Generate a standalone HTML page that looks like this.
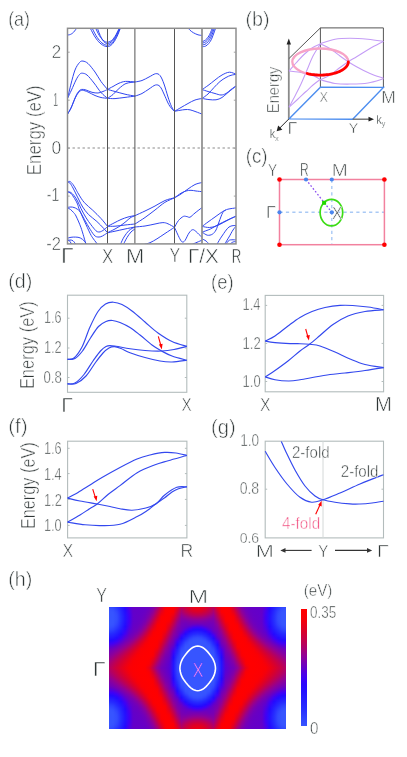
<!DOCTYPE html>
<html><head><meta charset="utf-8"><title>Band structure figure</title><style>
html,body{margin:0;padding:0;background:#fff;}
body{width:407px;height:757px;overflow:hidden;position:relative;}
svg{position:absolute;left:0;top:0;}
text{font-family:"Liberation Sans","DejaVu Sans",sans-serif;}
.ba{fill:none;stroke:#3046f0;stroke-width:1.0;}
.bd{fill:none;stroke:#3348ee;stroke-width:1.15;}
.pu{fill:none;stroke:#c49cf6;stroke-width:1.05;}
#hm{position:absolute;left:109.1px;top:606.9px;width:177.2px;height:122.3px;display:flex;flex-direction:column;}
#hm i{display:block;flex:1 1 0;}
#cb{position:absolute;left:300.7px;top:608.7px;width:6.3px;height:117.8px;}
</style></head>
<body>
<div id="hm"><i style="background:linear-gradient(90deg,#334cff 0.0%,#3147ff 2.3%,#2935ff 4.5%,#251eff 6.8%,#2a08fd 9.1%,#5000e1 11.4%,#6400c8 13.6%,#6400c8 15.9%,#6500c7 18.2%,#6600c5 20.5%,#6d00be 22.7%,#7f00aa 25.0%,#a2007d 27.3%,#ce003b 29.5%,#f70009 31.8%,#ff0000 34.1%,#fd0002 36.4%,#e8001a 38.6%,#bc0055 40.9%,#c90041 43.2%,#dc0028 45.5%,#e80019 47.7%,#ed0014 50.0%,#e80019 52.3%,#dc0028 54.5%,#c90041 56.8%,#bc0055 59.1%,#e8001a 61.4%,#fd0002 63.6%,#ff0000 65.9%,#f70009 68.2%,#ce003b 70.5%,#a2007d 72.7%,#7f00aa 75.0%,#6d00be 77.3%,#6600c5 79.5%,#6500c7 81.8%,#6400c8 84.1%,#6400c8 86.4%,#5000e1 88.6%,#2a08fd 90.9%,#251eff 93.2%,#2935ff 95.5%,#3147ff 97.7%,#334cff 100.0%)"></i><i style="background:linear-gradient(90deg,#3550ff 0.0%,#334bff 2.3%,#2b39ff 4.5%,#2521ff 6.8%,#2609fe 9.1%,#4e00e5 11.4%,#6400c8 13.6%,#6400c8 15.9%,#6500c7 18.2%,#6700c5 20.5%,#6e00bc 22.7%,#8200a6 25.0%,#a70075 27.3%,#d30033 29.5%,#fa0005 31.8%,#ff0000 34.1%,#fd0002 36.4%,#e30020 38.6%,#b7005d 40.9%,#c80043 43.2%,#da002a 45.5%,#e6001b 47.7%,#eb0016 50.0%,#e6001b 52.3%,#da002a 54.5%,#c80043 56.8%,#b7005d 59.1%,#e30020 61.4%,#fd0002 63.6%,#ff0000 65.9%,#fa0005 68.2%,#d30033 70.5%,#a70075 72.7%,#8200a6 75.0%,#6e00bc 77.3%,#6700c5 79.5%,#6500c7 81.8%,#6400c8 84.1%,#6400c8 86.4%,#4e00e5 88.6%,#2609fe 90.9%,#2521ff 93.2%,#2b39ff 95.5%,#334bff 97.7%,#3550ff 100.0%)"></i><i style="background:linear-gradient(90deg,#3652ff 0.0%,#344eff 2.3%,#2d3dff 4.5%,#2523ff 6.8%,#230aff 9.1%,#4b00e8 11.4%,#6400c8 13.6%,#6400c8 15.9%,#6500c7 18.2%,#6700c4 20.5%,#7000bb 22.7%,#8600a2 25.0%,#ad006d 27.3%,#d8002c 29.5%,#fb0004 31.8%,#ff0000 34.1%,#fc0003 36.4%,#de0025 38.6%,#b10066 40.9%,#c60047 43.2%,#d7002d 45.5%,#e3001f 47.7%,#e7001a 50.0%,#e3001f 52.3%,#d7002d 54.5%,#c60047 56.8%,#b10066 59.1%,#de0025 61.4%,#fc0003 63.6%,#ff0000 65.9%,#fb0004 68.2%,#d8002c 70.5%,#ad006d 72.7%,#8600a2 75.0%,#7000bb 77.3%,#6700c4 79.5%,#6500c7 81.8%,#6400c8 84.1%,#6400c8 86.4%,#4b00e8 88.6%,#230aff 90.9%,#2523ff 93.2%,#2d3dff 95.5%,#344eff 97.7%,#3652ff 100.0%)"></i><i style="background:linear-gradient(90deg,#3754ff 0.0%,#3551ff 2.3%,#2e41ff 4.5%,#2526ff 6.8%,#230cff 9.1%,#4900eb 11.4%,#6300c9 13.6%,#6400c8 15.9%,#6500c7 18.2%,#6800c4 20.5%,#7200b9 22.7%,#8a009e 25.0%,#b20064 27.3%,#dd0026 29.5%,#fc0003 31.8%,#ff0000 34.1%,#fb0004 36.4%,#d9002b 38.6%,#ad006b 40.9%,#c2004c 43.2%,#d30033 45.5%,#de0025 47.7%,#e20020 50.0%,#de0025 52.3%,#d30033 54.5%,#c2004c 56.8%,#ad006b 59.1%,#d9002b 61.4%,#fb0004 63.6%,#ff0000 65.9%,#fc0003 68.2%,#dd0026 70.5%,#b20064 72.7%,#8a009e 75.0%,#7200b9 77.3%,#6800c4 79.5%,#6500c7 81.8%,#6400c8 84.1%,#6300c9 86.4%,#4900eb 88.6%,#230cff 90.9%,#2526ff 93.2%,#2e41ff 95.5%,#3551ff 97.7%,#3754ff 100.0%)"></i><i style="background:linear-gradient(90deg,#3755ff 0.0%,#3653ff 2.3%,#3044ff 4.5%,#2628ff 6.8%,#230eff 9.1%,#4700ee 11.4%,#6300c9 13.6%,#6400c8 15.9%,#6500c7 18.2%,#6900c3 20.5%,#7400b6 22.7%,#8e0099 25.0%,#b8005b 27.3%,#e20021 29.5%,#fc0003 31.8%,#ff0000 34.1%,#fb0004 36.4%,#d40032 38.6%,#a90072 40.9%,#be0053 43.2%,#cd003c 45.5%,#d8002c 47.7%,#dc0027 50.0%,#d8002c 52.3%,#cd003c 54.5%,#be0053 56.8%,#a90072 59.1%,#d40032 61.4%,#fb0004 63.6%,#ff0000 65.9%,#fc0003 68.2%,#e20021 70.5%,#b8005b 72.7%,#8e0099 75.0%,#7400b6 77.3%,#6900c3 79.5%,#6500c7 81.8%,#6400c8 84.1%,#6300c9 86.4%,#4700ee 88.6%,#230eff 90.9%,#2628ff 93.2%,#3044ff 95.5%,#3653ff 97.7%,#3755ff 100.0%)"></i><i style="background:linear-gradient(90deg,#3755ff 0.0%,#3754ff 2.3%,#3146ff 4.5%,#262aff 6.8%,#230fff 9.1%,#4500f0 11.4%,#6300ca 13.6%,#6400c8 15.9%,#6500c6 18.2%,#6a00c2 20.5%,#7600b4 22.7%,#920094 25.0%,#bd0054 27.3%,#e7001b 29.5%,#fd0002 31.8%,#ff0000 34.1%,#f90007 36.4%,#ce003a 38.6%,#a4007a 40.9%,#b8005b 43.2%,#c70045 45.5%,#d10036 47.7%,#d50031 50.0%,#d10036 52.3%,#c70045 54.5%,#b8005b 56.8%,#a4007a 59.1%,#ce003a 61.4%,#f90007 63.6%,#ff0000 65.9%,#fd0002 68.2%,#e7001b 70.5%,#bd0054 72.7%,#920094 75.0%,#7600b4 77.3%,#6a00c2 79.5%,#6500c6 81.8%,#6400c8 84.1%,#6300ca 86.4%,#4500f0 88.6%,#230fff 90.9%,#262aff 93.2%,#3146ff 95.5%,#3754ff 97.7%,#3755ff 100.0%)"></i><i style="background:linear-gradient(90deg,#3755ff 0.0%,#3755ff 2.3%,#3248ff 4.5%,#262bff 6.8%,#2410ff 9.1%,#4300f2 11.4%,#6200ca 13.6%,#6400c8 15.9%,#6600c6 18.2%,#6b00c1 20.5%,#7900b1 22.7%,#97008d 25.0%,#c2004d 27.3%,#eb0016 29.5%,#fe0001 31.8%,#ff0000 34.1%,#f4000c 36.4%,#c90041 38.6%,#9e0082 40.9%,#b10066 43.2%,#c00050 45.5%,#c90042 47.7%,#cc003d 50.0%,#c90042 52.3%,#c00050 54.5%,#b10066 56.8%,#9e0082 59.1%,#c90041 61.4%,#f4000c 63.6%,#ff0000 65.9%,#fe0001 68.2%,#eb0016 70.5%,#c2004d 72.7%,#97008d 75.0%,#7900b1 77.3%,#6b00c1 79.5%,#6600c6 81.8%,#6400c8 84.1%,#6200ca 86.4%,#4300f2 88.6%,#2410ff 90.9%,#262bff 93.2%,#3248ff 95.5%,#3755ff 97.7%,#3755ff 100.0%)"></i><i style="background:linear-gradient(90deg,#3755ff 0.0%,#3755ff 2.3%,#324aff 4.5%,#262dff 6.8%,#2411ff 9.1%,#4200f4 11.4%,#6200cb 13.6%,#6400c8 15.9%,#6600c6 18.2%,#6c00bf 20.5%,#7b00ae 22.7%,#9c0086 25.0%,#c70045 27.3%,#f00010 29.5%,#fe0001 31.8%,#fe0001 34.1%,#f00011 36.4%,#c40049 38.6%,#99008b 40.9%,#a90072 43.2%,#b8005b 45.5%,#c1004f 47.7%,#c4004a 50.0%,#c1004f 52.3%,#b8005b 54.5%,#a90072 56.8%,#99008b 59.1%,#c40049 61.4%,#f00011 63.6%,#fe0001 65.9%,#fe0001 68.2%,#f00010 70.5%,#c70045 72.7%,#9c0086 75.0%,#7b00ae 77.3%,#6c00bf 79.5%,#6600c6 81.8%,#6400c8 84.1%,#6200cb 86.4%,#4200f4 88.6%,#2411ff 90.9%,#262dff 93.2%,#324aff 95.5%,#3755ff 97.7%,#3755ff 100.0%)"></i><i style="background:linear-gradient(90deg,#3755ff 0.0%,#3755ff 2.3%,#334bff 4.5%,#262eff 6.8%,#2412ff 9.1%,#4100f5 11.4%,#6200cb 13.6%,#6500c7 15.9%,#6600c5 18.2%,#6d00be 20.5%,#7f00ab 22.7%,#a1007f 25.0%,#cc003d 27.3%,#f4000b 29.5%,#fe0001 31.8%,#fe0001 34.1%,#eb0016 36.4%,#bf0050 38.6%,#930093 40.9%,#a1007e 43.2%,#ae006a 45.5%,#b8005c 47.7%,#bb0057 50.0%,#b8005c 52.3%,#ae006a 54.5%,#a1007e 56.8%,#930093 59.1%,#bf0050 61.4%,#eb0016 63.6%,#fe0001 65.9%,#fe0001 68.2%,#f4000b 70.5%,#cc003d 72.7%,#a1007f 75.0%,#7f00ab 77.3%,#6d00be 79.5%,#6600c5 81.8%,#6500c7 84.1%,#6200cb 86.4%,#4100f5 88.6%,#2412ff 90.9%,#262eff 93.2%,#334bff 95.5%,#3755ff 97.7%,#3755ff 100.0%)"></i><i style="background:linear-gradient(90deg,#3755ff 0.0%,#3755ff 2.3%,#334cff 4.5%,#272fff 6.8%,#2413ff 9.1%,#4000f5 11.4%,#6200cb 13.6%,#6500c7 15.9%,#6700c5 18.2%,#6f00bc 20.5%,#8200a7 22.7%,#a60076 25.0%,#d10036 27.3%,#f90006 29.5%,#ff0000 31.8%,#fd0002 34.1%,#e6001c 36.4%,#bb0057 38.6%,#8e0099 40.9%,#99008a 43.2%,#a50078 45.5%,#ad006c 47.7%,#b00068 50.0%,#ad006c 52.3%,#a50078 54.5%,#99008a 56.8%,#8e0099 59.1%,#bb0057 61.4%,#e6001c 63.6%,#fd0002 65.9%,#ff0000 68.2%,#f90006 70.5%,#d10036 72.7%,#a60076 75.0%,#8200a7 77.3%,#6f00bc 79.5%,#6700c5 81.8%,#6500c7 84.1%,#6200cb 86.4%,#4000f5 88.6%,#2413ff 90.9%,#272fff 93.2%,#334cff 95.5%,#3755ff 97.7%,#3755ff 100.0%)"></i><i style="background:linear-gradient(90deg,#3755ff 0.0%,#3755ff 2.3%,#334cff 4.5%,#272fff 6.8%,#2413ff 9.1%,#4000f5 11.4%,#6100cb 13.6%,#6500c7 15.9%,#6800c4 18.2%,#7000ba 20.5%,#8600a2 22.7%,#ac006e 25.0%,#d6002e 27.3%,#fb0004 29.5%,#ff0000 31.8%,#fd0002 34.1%,#e10021 36.4%,#b50060 38.6%,#8a009e 40.9%,#920095 43.2%,#9c0086 45.5%,#a3007c 47.7%,#a50078 50.0%,#a3007c 52.3%,#9c0086 54.5%,#920095 56.8%,#8a009e 59.1%,#b50060 61.4%,#e10021 63.6%,#fd0002 65.9%,#ff0000 68.2%,#fb0004 70.5%,#d6002e 72.7%,#ac006e 75.0%,#8600a2 77.3%,#7000ba 79.5%,#6800c4 81.8%,#6500c7 84.1%,#6100cb 86.4%,#4000f5 88.6%,#2413ff 90.9%,#272fff 93.2%,#334cff 95.5%,#3755ff 97.7%,#3755ff 100.0%)"></i><i style="background:linear-gradient(90deg,#3755ff 0.0%,#3755ff 2.3%,#334cff 4.5%,#272fff 6.8%,#2413ff 9.1%,#4000f5 11.4%,#6200cb 13.6%,#6500c7 15.9%,#6800c3 18.2%,#7200b8 20.5%,#8a009e 22.7%,#b20065 25.0%,#dc0028 27.3%,#fb0004 29.5%,#ff0000 31.8%,#fc0003 34.1%,#dc0027 36.4%,#af0069 38.6%,#8600a2 40.9%,#8a009d 43.2%,#930093 45.5%,#99008a 47.7%,#9b0087 50.0%,#99008a 52.3%,#930093 54.5%,#8a009d 56.8%,#8600a2 59.1%,#af0069 61.4%,#dc0027 63.6%,#fc0003 65.9%,#ff0000 68.2%,#fb0004 70.5%,#dc0028 72.7%,#b20065 75.0%,#8a009e 77.3%,#7200b8 79.5%,#6800c3 81.8%,#6500c7 84.1%,#6200cb 86.4%,#4000f5 88.6%,#2413ff 90.9%,#272fff 93.2%,#334cff 95.5%,#3755ff 97.7%,#3755ff 100.0%)"></i><i style="background:linear-gradient(90deg,#3755ff 0.0%,#3755ff 2.3%,#334cff 4.5%,#272fff 6.8%,#2413ff 9.1%,#4000f5 11.4%,#6200cb 13.6%,#6500c7 15.9%,#6900c2 18.2%,#7500b5 20.5%,#8f0098 22.7%,#b8005b 25.0%,#e10022 27.3%,#fc0003 29.5%,#ff0000 31.8%,#fb0004 34.1%,#d7002d 36.4%,#a90071 38.6%,#8300a6 40.9%,#8300a5 43.2%,#8b009d 45.5%,#900097 47.7%,#920094 50.0%,#900097 52.3%,#8b009d 54.5%,#8300a5 56.8%,#8300a6 59.1%,#a90071 61.4%,#d7002d 63.6%,#fb0004 65.9%,#ff0000 68.2%,#fc0003 70.5%,#e10022 72.7%,#b8005b 75.0%,#8f0098 77.3%,#7500b5 79.5%,#6900c2 81.8%,#6500c7 84.1%,#6200cb 86.4%,#4000f5 88.6%,#2413ff 90.9%,#272fff 93.2%,#334cff 95.5%,#3755ff 97.7%,#3755ff 100.0%)"></i><i style="background:linear-gradient(90deg,#3755ff 0.0%,#3755ff 2.3%,#334bff 4.5%,#262eff 6.8%,#2412ff 9.1%,#4100f5 11.4%,#6200cb 13.6%,#6600c6 15.9%,#6a00c1 18.2%,#7700b3 20.5%,#940092 22.7%,#bd0053 25.0%,#e6001c 27.3%,#fd0002 29.5%,#ff0000 31.8%,#fa0005 34.1%,#d20035 36.4%,#a40079 38.6%,#7f00aa 40.9%,#7d00ac 43.2%,#8300a5 45.5%,#8800a0 47.7%,#89009f 50.0%,#8800a0 52.3%,#8300a5 54.5%,#7d00ac 56.8%,#7f00aa 59.1%,#a40079 61.4%,#d20035 63.6%,#fa0005 65.9%,#ff0000 68.2%,#fd0002 70.5%,#e6001c 72.7%,#bd0053 75.0%,#940092 77.3%,#7700b3 79.5%,#6a00c1 81.8%,#6600c6 84.1%,#6200cb 86.4%,#4100f5 88.6%,#2412ff 90.9%,#262eff 93.2%,#334bff 95.5%,#3755ff 97.7%,#3755ff 100.0%)"></i><i style="background:linear-gradient(90deg,#3755ff 0.0%,#3755ff 2.3%,#324aff 4.5%,#262dff 6.8%,#2411ff 9.1%,#4200f4 11.4%,#6200ca 13.6%,#6600c6 15.9%,#6c00c0 18.2%,#7a00af 20.5%,#99008b 22.7%,#c3004c 25.0%,#eb0017 27.3%,#fd0002 29.5%,#ff0000 31.8%,#f70008 34.1%,#cd003c 36.4%,#9f0081 38.6%,#7c00ad 40.9%,#7800b2 43.2%,#7d00ac 45.5%,#8000a9 47.7%,#8200a7 50.0%,#8000a9 52.3%,#7d00ac 54.5%,#7800b2 56.8%,#7c00ad 59.1%,#9f0081 61.4%,#cd003c 63.6%,#f70008 65.9%,#ff0000 68.2%,#fd0002 70.5%,#eb0017 72.7%,#c3004c 75.0%,#99008b 77.3%,#7a00af 79.5%,#6c00c0 81.8%,#6600c6 84.1%,#6200ca 86.4%,#4200f4 88.6%,#2411ff 90.9%,#262dff 93.2%,#324aff 95.5%,#3755ff 97.7%,#3755ff 100.0%)"></i><i style="background:linear-gradient(90deg,#3755ff 0.0%,#3755ff 2.3%,#3248ff 4.5%,#262bff 6.8%,#2410ff 9.1%,#4300f2 11.4%,#6300ca 13.6%,#6700c5 15.9%,#6d00be 18.2%,#7e00ab 20.5%,#9e0082 22.7%,#c80044 25.0%,#ef0011 27.3%,#fe0001 29.5%,#fe0001 31.8%,#f3000d 34.1%,#c80044 36.4%,#9a0088 38.6%,#7900b0 40.9%,#7400b7 43.2%,#7700b2 45.5%,#7a00b0 47.7%,#7a00af 50.0%,#7a00b0 52.3%,#7700b2 54.5%,#7400b7 56.8%,#7900b0 59.1%,#9a0088 61.4%,#c80044 63.6%,#f3000d 65.9%,#fe0001 68.2%,#fe0001 70.5%,#ef0011 72.7%,#c80044 75.0%,#9e0082 77.3%,#7e00ab 79.5%,#6d00be 81.8%,#6700c5 84.1%,#6300ca 86.4%,#4300f2 88.6%,#2410ff 90.9%,#262bff 93.2%,#3248ff 95.5%,#3755ff 97.7%,#3755ff 100.0%)"></i><i style="background:linear-gradient(90deg,#3755ff 0.0%,#3754ff 2.3%,#3146ff 4.5%,#262aff 6.8%,#230fff 9.1%,#4500f0 11.4%,#6300c9 13.6%,#6700c4 15.9%,#6f00bc 18.2%,#8200a7 20.5%,#a4007a 22.7%,#cd003b 25.0%,#f4000c 27.3%,#fe0001 29.5%,#fe0001 31.8%,#ee0013 34.1%,#c3004b 36.4%,#96008f 38.6%,#7700b3 40.9%,#7000bb 43.2%,#7300b7 45.5%,#7300b8 47.7%,#7100b9 50.0%,#7300b8 52.3%,#7300b7 54.5%,#7000bb 56.8%,#7700b3 59.1%,#96008f 61.4%,#c3004b 63.6%,#ee0013 65.9%,#fe0001 68.2%,#fe0001 70.5%,#f4000c 72.7%,#cd003b 75.0%,#a4007a 77.3%,#8200a7 79.5%,#6f00bc 81.8%,#6700c4 84.1%,#6300c9 86.4%,#4500f0 88.6%,#230fff 90.9%,#262aff 93.2%,#3146ff 95.5%,#3754ff 97.7%,#3755ff 100.0%)"></i><i style="background:linear-gradient(90deg,#3755ff 0.0%,#3653ff 2.3%,#3044ff 4.5%,#2628ff 6.8%,#230eff 9.1%,#4700ee 11.4%,#6400c8 13.6%,#6800c3 15.9%,#7100b9 18.2%,#8600a2 20.5%,#aa0070 22.7%,#d30033 25.0%,#f80007 27.3%,#ff0000 29.5%,#fe0001 31.8%,#e90018 34.1%,#be0053 36.4%,#910096 38.6%,#7500b6 40.9%,#6d00be 43.2%,#6e00bd 45.5%,#6900c3 47.7%,#6600c6 50.0%,#6900c3 52.3%,#6e00bd 54.5%,#6d00be 56.8%,#7500b6 59.1%,#910096 61.4%,#be0053 63.6%,#e90018 65.9%,#fe0001 68.2%,#ff0000 70.5%,#f80007 72.7%,#d30033 75.0%,#aa0070 77.3%,#8600a2 79.5%,#7100b9 81.8%,#6800c3 84.1%,#6400c8 86.4%,#4700ee 88.6%,#230eff 90.9%,#2628ff 93.2%,#3044ff 95.5%,#3653ff 97.7%,#3755ff 100.0%)"></i><i style="background:linear-gradient(90deg,#3754ff 0.0%,#3551ff 2.3%,#2e41ff 4.5%,#2526ff 6.8%,#230cff 9.1%,#4900eb 11.4%,#6500c7 13.6%,#6900c2 15.9%,#7400b7 18.2%,#8b009c 20.5%,#b10066 22.7%,#d9002b 25.0%,#fb0004 27.3%,#ff0000 29.5%,#fd0002 31.8%,#e4001e 34.1%,#b9005a 36.4%,#8d009b 38.6%,#7300b8 40.9%,#6b00c1 43.2%,#6700c5 45.5%,#5d00d1 47.7%,#5900d6 50.0%,#5d00d1 52.3%,#6700c5 54.5%,#6b00c1 56.8%,#7300b8 59.1%,#8d009b 61.4%,#b9005a 63.6%,#e4001e 65.9%,#fd0002 68.2%,#ff0000 70.5%,#fb0004 72.7%,#d9002b 75.0%,#b10066 77.3%,#8b009c 79.5%,#7400b7 81.8%,#6900c2 84.1%,#6500c7 86.4%,#4900eb 88.6%,#230cff 90.9%,#2526ff 93.2%,#2e41ff 95.5%,#3551ff 97.7%,#3754ff 100.0%)"></i><i style="background:linear-gradient(90deg,#3652ff 0.0%,#344eff 2.3%,#2d3dff 4.5%,#2523ff 6.8%,#230aff 9.1%,#4c00e7 11.4%,#6600c6 13.6%,#6a00c1 15.9%,#7700b3 18.2%,#910096 20.5%,#b8005c 22.7%,#de0025 25.0%,#fb0004 27.3%,#ff0000 29.5%,#fc0003 31.8%,#df0023 34.1%,#b30063 36.4%,#89009f 38.6%,#7100ba 40.9%,#6800c3 43.2%,#5d00d1 45.5%,#5000e1 47.7%,#4b00e8 50.0%,#5000e1 52.3%,#5d00d1 54.5%,#6800c3 56.8%,#7100ba 59.1%,#89009f 61.4%,#b30063 63.6%,#df0023 65.9%,#fc0003 68.2%,#ff0000 70.5%,#fb0004 72.7%,#de0025 75.0%,#b8005c 77.3%,#910096 79.5%,#7700b3 81.8%,#6a00c1 84.1%,#6600c6 86.4%,#4c00e7 88.6%,#230aff 90.9%,#2523ff 93.2%,#2d3dff 95.5%,#344eff 97.7%,#3652ff 100.0%)"></i><i style="background:linear-gradient(90deg,#3550ff 0.0%,#334aff 2.3%,#2b39ff 4.5%,#2521ff 6.8%,#2609fe 9.1%,#4e00e4 11.4%,#6600c5 13.6%,#6c00bf 15.9%,#7a00af 18.2%,#96008e 20.5%,#be0053 22.7%,#e3001f 25.0%,#fc0003 27.3%,#ff0000 29.5%,#fc0003 31.8%,#da0029 34.1%,#ad006c 36.4%,#8500a3 38.6%,#6f00bc 40.9%,#6300c9 43.2%,#5200df 45.5%,#4200f4 47.7%,#3d01f6 50.0%,#4200f4 52.3%,#5200df 54.5%,#6300c9 56.8%,#6f00bc 59.1%,#8500a3 61.4%,#ad006c 63.6%,#da0029 65.9%,#fc0003 68.2%,#ff0000 70.5%,#fc0003 72.7%,#e3001f 75.0%,#be0053 77.3%,#96008e 79.5%,#7a00af 81.8%,#6c00bf 84.1%,#6600c5 86.4%,#4e00e4 88.6%,#2609fe 90.9%,#2521ff 93.2%,#2b39ff 95.5%,#334aff 97.7%,#3550ff 100.0%)"></i><i style="background:linear-gradient(90deg,#334cff 0.0%,#3146ff 2.3%,#2935ff 4.5%,#251eff 6.8%,#2a08fd 9.1%,#5100e0 11.4%,#6700c4 13.6%,#6e00bd 15.9%,#7e00ab 18.2%,#9c0085 20.5%,#c3004a 22.7%,#e90019 25.0%,#fd0002 27.3%,#ff0000 29.5%,#fb0004 31.8%,#d50030 34.1%,#a80074 36.4%,#8100a7 38.6%,#6e00bd 40.9%,#5c00d2 43.2%,#4500f0 45.5%,#3504f9 47.7%,#3006fb 50.0%,#3504f9 52.3%,#4500f0 54.5%,#5c00d2 56.8%,#6e00bd 59.1%,#8100a7 61.4%,#a80074 63.6%,#d50030 65.9%,#fb0004 68.2%,#ff0000 70.5%,#fd0002 72.7%,#e90019 75.0%,#c3004a 77.3%,#9c0085 79.5%,#7e00ab 81.8%,#6e00bd 84.1%,#6700c4 86.4%,#5100e0 88.6%,#2a08fd 90.9%,#251eff 93.2%,#2935ff 95.5%,#3146ff 97.7%,#334cff 100.0%)"></i><i style="background:linear-gradient(90deg,#3148ff 0.0%,#2f42ff 2.3%,#2730ff 4.5%,#241bff 6.8%,#2e06fb 9.1%,#5400dc 11.4%,#6800c3 13.6%,#7000ba 15.9%,#8300a5 18.2%,#a3007b 20.5%,#c90041 22.7%,#ee0013 25.0%,#fd0002 27.3%,#ff0000 29.5%,#fa0005 31.8%,#d00037 34.1%,#a2007c 36.4%,#7e00ab 38.6%,#6c00bf 40.9%,#5400dd 43.2%,#3903f8 45.5%,#2808fd 47.7%,#230aff 50.0%,#2808fd 52.3%,#3903f8 54.5%,#5400dd 56.8%,#6c00bf 59.1%,#7e00ab 61.4%,#a2007c 63.6%,#d00037 65.9%,#fa0005 68.2%,#ff0000 70.5%,#fd0002 72.7%,#ee0013 75.0%,#c90041 77.3%,#a3007b 79.5%,#8300a5 81.8%,#7000ba 84.1%,#6800c3 86.4%,#5400dc 88.6%,#2e06fb 90.9%,#241bff 93.2%,#2730ff 95.5%,#2f42ff 97.7%,#3148ff 100.0%)"></i><i style="background:linear-gradient(90deg,#2f43ff 0.0%,#2d3dff 2.3%,#262bff 4.5%,#2417ff 6.8%,#3205fa 9.1%,#5800d8 11.4%,#6a00c2 13.6%,#7300b7 15.9%,#8800a0 18.2%,#aa0071 20.5%,#cf0038 22.7%,#f3000d 25.0%,#fe0001 27.3%,#ff0000 29.5%,#f6000a 31.8%,#cb003f 34.1%,#9d0084 36.4%,#7b00ae 38.6%,#6900c3 40.9%,#4900ea 43.2%,#2e06fb 45.5%,#230fff 47.7%,#2412ff 50.0%,#230fff 52.3%,#2e06fb 54.5%,#4900ea 56.8%,#6900c3 59.1%,#7b00ae 61.4%,#9d0084 63.6%,#cb003f 65.9%,#f6000a 68.2%,#ff0000 70.5%,#fe0001 72.7%,#f3000d 75.0%,#cf0038 77.3%,#aa0071 79.5%,#8800a0 81.8%,#7300b7 84.1%,#6a00c2 86.4%,#5800d8 88.6%,#3205fa 90.9%,#2417ff 93.2%,#262bff 95.5%,#2d3dff 97.7%,#2f43ff 100.0%)"></i><i style="background:linear-gradient(90deg,#2d3dff 0.0%,#2a37ff 2.3%,#2627ff 4.5%,#2414ff 6.8%,#3703f8 9.1%,#5b00d4 11.4%,#6b00c0 13.6%,#7700b3 15.9%,#8e0099 18.2%,#b10066 20.5%,#d5002f 22.7%,#f70008 25.0%,#fe0001 27.3%,#fe0001 29.5%,#f1000f 31.8%,#c60047 34.1%,#99008b 36.4%,#7800b1 38.6%,#6300c9 40.9%,#3e01f6 43.2%,#230bff 45.5%,#2416ff 47.7%,#241bff 50.0%,#2416ff 52.3%,#230bff 54.5%,#3e01f6 56.8%,#6300c9 59.1%,#7800b1 61.4%,#99008b 63.6%,#c60047 65.9%,#f1000f 68.2%,#fe0001 70.5%,#fe0001 72.7%,#f70008 75.0%,#d5002f 77.3%,#b10066 79.5%,#8e0099 81.8%,#7700b3 84.1%,#6b00c0 86.4%,#5b00d4 88.6%,#3703f8 90.9%,#2414ff 93.2%,#2627ff 95.5%,#2a37ff 97.7%,#2d3dff 100.0%)"></i><i style="background:linear-gradient(90deg,#2a37ff 0.0%,#2831ff 2.3%,#2523ff 4.5%,#2410ff 6.8%,#3b02f7 9.1%,#5e00cf 11.4%,#6d00be 13.6%,#7b00ae 15.9%,#950090 18.2%,#b9005a 20.5%,#db0028 22.7%,#fa0005 25.0%,#ff0000 27.3%,#fe0001 29.5%,#ed0014 31.8%,#c1004e 34.1%,#940091 36.4%,#7600b4 38.6%,#5c00d2 40.9%,#3404f9 43.2%,#2412ff 45.5%,#251eff 47.7%,#2522ff 50.0%,#251eff 52.3%,#2412ff 54.5%,#3404f9 56.8%,#5c00d2 59.1%,#7600b4 61.4%,#940091 63.6%,#c1004e 65.9%,#ed0014 68.2%,#fe0001 70.5%,#ff0000 72.7%,#fa0005 75.0%,#db0028 77.3%,#b9005a 79.5%,#950090 81.8%,#7b00ae 84.1%,#6d00be 86.4%,#5e00cf 88.6%,#3b02f7 90.9%,#2410ff 93.2%,#2523ff 95.5%,#2831ff 97.7%,#2a37ff 100.0%)"></i><i style="background:linear-gradient(90deg,#2730ff 0.0%,#262bff 2.3%,#251fff 4.5%,#230dff 6.8%,#4000f5 9.1%,#6200cb 11.4%,#7000bb 13.6%,#8000a9 15.9%,#9b0087 18.2%,#bf0051 20.5%,#e10021 22.7%,#fb0004 25.0%,#ff0000 27.3%,#fd0002 29.5%,#e8001a 31.8%,#bc0055 34.1%,#900097 36.4%,#7400b6 38.6%,#5300dd 40.9%,#2908fd 43.2%,#241aff 45.5%,#2526ff 47.7%,#262aff 50.0%,#2526ff 52.3%,#241aff 54.5%,#2908fd 56.8%,#5300dd 59.1%,#7400b6 61.4%,#900097 63.6%,#bc0055 65.9%,#e8001a 68.2%,#fd0002 70.5%,#ff0000 72.7%,#fb0004 75.0%,#e10021 77.3%,#bf0051 79.5%,#9b0087 81.8%,#8000a9 84.1%,#7000bb 86.4%,#6200cb 88.6%,#4000f5 90.9%,#230dff 93.2%,#251fff 95.5%,#262bff 97.7%,#2730ff 100.0%)"></i><i style="background:linear-gradient(90deg,#262aff 0.0%,#2526ff 2.3%,#241aff 4.5%,#2509fe 6.8%,#4600ef 9.1%,#6500c6 11.4%,#7300b7 13.6%,#8500a3 15.9%,#a2007c 18.2%,#c50047 20.5%,#e7001b 22.7%,#fc0003 25.0%,#ff0000 27.3%,#fd0002 29.5%,#e30020 31.8%,#b7005d 34.1%,#8b009c 36.4%,#7200b9 38.6%,#4900eb 40.9%,#230dff 43.2%,#2521ff 45.5%,#262dff 47.7%,#2933ff 50.0%,#262dff 52.3%,#2521ff 54.5%,#230dff 56.8%,#4900eb 59.1%,#7200b9 61.4%,#8b009c 63.6%,#b7005d 65.9%,#e30020 68.2%,#fd0002 70.5%,#ff0000 72.7%,#fc0003 75.0%,#e7001b 77.3%,#c50047 79.5%,#a2007c 81.8%,#8500a3 84.1%,#7300b7 86.4%,#6500c6 88.6%,#4600ef 90.9%,#2509fe 93.2%,#241aff 95.5%,#2526ff 97.7%,#262aff 100.0%)"></i><i style="background:linear-gradient(90deg,#2525ff 0.0%,#2521ff 2.3%,#2416ff 4.5%,#2b07fc 6.8%,#4c00e7 9.1%,#6900c2 11.4%,#7700b3 13.6%,#8c009c 15.9%,#aa0071 18.2%,#cc003e 20.5%,#ec0015 22.7%,#fd0002 25.0%,#ff0000 27.3%,#fc0003 29.5%,#de0025 31.8%,#b10066 34.1%,#8700a1 36.4%,#6e00bd 38.6%,#3f01f6 40.9%,#2414ff 43.2%,#2628ff 45.5%,#2a37ff 47.7%,#2c3cff 50.0%,#2a37ff 52.3%,#2628ff 54.5%,#2414ff 56.8%,#3f01f6 59.1%,#6e00bd 61.4%,#8700a1 63.6%,#b10066 65.9%,#de0025 68.2%,#fc0003 70.5%,#ff0000 72.7%,#fd0002 75.0%,#ec0015 77.3%,#cc003e 79.5%,#aa0071 81.8%,#8c009c 84.1%,#7700b3 86.4%,#6900c2 88.6%,#4c00e7 90.9%,#2b07fc 93.2%,#2416ff 95.5%,#2521ff 97.7%,#2525ff 100.0%)"></i><i style="background:linear-gradient(90deg,#2520ff 0.0%,#251cff 2.3%,#2411ff 4.5%,#3205fa 6.8%,#5200df 9.1%,#6d00be 11.4%,#7b00ae 13.6%,#920094 15.9%,#b20065 18.2%,#d20034 20.5%,#f1000f 22.7%,#fd0002 25.0%,#ff0000 27.3%,#fb0004 29.5%,#d9002b 31.8%,#ab006f 34.1%,#8400a5 36.4%,#6800c3 38.6%,#3504f9 40.9%,#241aff 43.2%,#2730ff 45.5%,#2e3fff 47.7%,#3044ff 50.0%,#2e3fff 52.3%,#2730ff 54.5%,#241aff 56.8%,#3504f9 59.1%,#6800c3 61.4%,#8400a5 63.6%,#ab006f 65.9%,#d9002b 68.2%,#fb0004 70.5%,#ff0000 72.7%,#fd0002 75.0%,#f1000f 77.3%,#d20034 79.5%,#b20065 81.8%,#920094 84.1%,#7b00ae 86.4%,#6d00be 88.6%,#5200df 90.9%,#3205fa 93.2%,#2411ff 95.5%,#251cff 97.7%,#2520ff 100.0%)"></i><i style="background:linear-gradient(90deg,#241bff 0.0%,#2417ff 2.3%,#230cff 4.5%,#3903f8 6.8%,#5800d7 9.1%,#7100ba 11.4%,#8000a8 13.6%,#99008a 15.9%,#ba0058 18.2%,#d8002b 20.5%,#f6000a 22.7%,#fe0001 25.0%,#ff0000 27.3%,#fb0004 29.5%,#d40032 31.8%,#a60077 34.1%,#8000a9 36.4%,#6200cb 38.6%,#2c07fc 40.9%,#2521ff 43.2%,#2b38ff 45.5%,#3147ff 47.7%,#334bff 50.0%,#3147ff 52.3%,#2b38ff 54.5%,#2521ff 56.8%,#2c07fc 59.1%,#6200cb 61.4%,#8000a9 63.6%,#a60077 65.9%,#d40032 68.2%,#fb0004 70.5%,#ff0000 72.7%,#fe0001 75.0%,#f6000a 77.3%,#d8002b 79.5%,#ba0058 81.8%,#99008a 84.1%,#8000a8 86.4%,#7100ba 88.6%,#5800d7 90.9%,#3903f8 93.2%,#230cff 95.5%,#2417ff 97.7%,#241bff 100.0%)"></i><i style="background:linear-gradient(90deg,#2415ff 0.0%,#2412ff 2.3%,#2709fe 4.5%,#3f01f6 6.8%,#5f00cf 9.1%,#7500b5 11.4%,#8600a2 13.6%,#a1007f 15.9%,#c0004f 18.2%,#de0025 20.5%,#fa0005 22.7%,#fe0001 25.0%,#ff0000 27.3%,#f90007 29.5%,#ce003a 31.8%,#a1007f 34.1%,#7d00ac 36.4%,#5a00d5 38.6%,#230bff 40.9%,#2627ff 43.2%,#2e40ff 45.5%,#344dff 47.7%,#3550ff 50.0%,#344dff 52.3%,#2e40ff 54.5%,#2627ff 56.8%,#230bff 59.1%,#5a00d5 61.4%,#7d00ac 63.6%,#a1007f 65.9%,#ce003a 68.2%,#f90007 70.5%,#ff0000 72.7%,#fe0001 75.0%,#fa0005 77.3%,#de0025 79.5%,#c0004f 81.8%,#a1007f 84.1%,#8600a2 86.4%,#7500b5 88.6%,#5f00cf 90.9%,#3f01f6 93.2%,#2709fe 95.5%,#2412ff 97.7%,#2415ff 100.0%)"></i><i style="background:linear-gradient(90deg,#2310ff 0.0%,#230cff 2.3%,#2f06fb 4.5%,#4700ed 6.8%,#6500c7 9.1%,#7900b0 11.4%,#8d009a 13.6%,#a80073 15.9%,#c70045 18.2%,#e4001e 20.5%,#fb0004 22.7%,#fe0001 25.0%,#ff0000 27.3%,#f4000c 29.5%,#c90042 31.8%,#9c0086 34.1%,#7a00af 36.4%,#5100e0 38.6%,#2411ff 40.9%,#262eff 43.2%,#3147ff 45.5%,#3551ff 47.7%,#3653ff 50.0%,#3551ff 52.3%,#3147ff 54.5%,#262eff 56.8%,#2411ff 59.1%,#5100e0 61.4%,#7a00af 63.6%,#9c0086 65.9%,#c90042 68.2%,#f4000c 70.5%,#ff0000 72.7%,#fe0001 75.0%,#fb0004 77.3%,#e4001e 79.5%,#c70045 81.8%,#a80073 84.1%,#8d009a 86.4%,#7900b0 88.6%,#6500c7 90.9%,#4700ed 93.2%,#2f06fb 95.5%,#230cff 97.7%,#2310ff 100.0%)"></i><i style="background:linear-gradient(90deg,#230aff 0.0%,#2808fd 2.3%,#3703f8 4.5%,#5000e2 6.8%,#6c00bf 9.1%,#7f00aa 11.4%,#940091 13.6%,#b10067 15.9%,#cd003c 18.2%,#e90018 20.5%,#fc0003 22.7%,#ff0000 25.0%,#fe0001 27.3%,#f00011 29.5%,#c40049 31.8%,#97008d 34.1%,#7800b2 36.4%,#4800ec 38.6%,#2416ff 40.9%,#2a36ff 43.2%,#334dff 45.5%,#3754ff 47.7%,#3755ff 50.0%,#3754ff 52.3%,#334dff 54.5%,#2a36ff 56.8%,#2416ff 59.1%,#4800ec 61.4%,#7800b2 63.6%,#97008d 65.9%,#c40049 68.2%,#f00011 70.5%,#fe0001 72.7%,#ff0000 75.0%,#fc0003 77.3%,#e90018 79.5%,#cd003c 81.8%,#b10067 84.1%,#940091 86.4%,#7f00aa 88.6%,#6c00bf 90.9%,#5000e2 93.2%,#3703f8 95.5%,#2808fd 97.7%,#230aff 100.0%)"></i><i style="background:linear-gradient(90deg,#2b07fc 0.0%,#3006fb 2.3%,#3f01f6 4.5%,#5800d7 6.8%,#7200b8 9.1%,#8400a4 11.4%,#9b0086 13.6%,#b9005a 15.9%,#d40032 18.2%,#ee0012 20.5%,#fc0003 22.7%,#ff0000 25.0%,#fe0001 27.3%,#eb0016 29.5%,#bf0050 31.8%,#930093 34.1%,#7500b5 36.4%,#3f01f6 38.6%,#251cff 40.9%,#2d3dff 43.2%,#3551ff 45.5%,#3755ff 47.7%,#3755ff 50.0%,#3755ff 52.3%,#3551ff 54.5%,#2d3dff 56.8%,#251cff 59.1%,#3f01f6 61.4%,#7500b5 63.6%,#930093 65.9%,#bf0050 68.2%,#eb0016 70.5%,#fe0001 72.7%,#ff0000 75.0%,#fc0003 77.3%,#ee0012 79.5%,#d40032 81.8%,#b9005a 84.1%,#9b0086 86.4%,#8400a4 88.6%,#7200b8 90.9%,#5800d7 93.2%,#3f01f6 95.5%,#3006fb 97.7%,#2b07fc 100.0%)"></i><i style="background:linear-gradient(90deg,#3404f9 0.0%,#3903f8 2.3%,#4800ec 4.5%,#6000cd 6.8%,#7900b1 9.1%,#8b009d 11.4%,#a3007b 13.6%,#bf0051 15.9%,#da002a 18.2%,#f3000d 20.5%,#fd0002 22.7%,#ff0000 25.0%,#fd0002 27.3%,#e6001c 29.5%,#bb0058 31.8%,#8e0099 34.1%,#7100b9 36.4%,#3703f8 38.6%,#2522ff 40.9%,#3044ff 43.2%,#3654ff 45.5%,#3755ff 47.7%,#3755ff 50.0%,#3755ff 52.3%,#3654ff 54.5%,#3044ff 56.8%,#2522ff 59.1%,#3703f8 61.4%,#7100b9 63.6%,#8e0099 65.9%,#bb0058 68.2%,#e6001c 70.5%,#fd0002 72.7%,#ff0000 75.0%,#fd0002 77.3%,#f3000d 79.5%,#da002a 81.8%,#bf0051 84.1%,#a3007b 86.4%,#8b009d 88.6%,#7900b1 90.9%,#6000cd 93.2%,#4800ec 95.5%,#3903f8 97.7%,#3404f9 100.0%)"></i><i style="background:linear-gradient(90deg,#3c02f7 0.0%,#4100f5 2.3%,#5200e0 4.5%,#6900c3 6.8%,#7f00aa 9.1%,#920094 11.4%,#ab006f 13.6%,#c60047 15.9%,#df0023 18.2%,#f70008 20.5%,#fd0002 22.7%,#ff0000 25.0%,#fd0002 27.3%,#e10021 29.5%,#b50060 31.8%,#8a009e 34.1%,#6d00be 36.4%,#2f06fb 38.6%,#2627ff 40.9%,#3249ff 43.2%,#3755ff 45.5%,#3755ff 47.7%,#3755ff 50.0%,#3755ff 52.3%,#3755ff 54.5%,#3249ff 56.8%,#2627ff 59.1%,#2f06fb 61.4%,#6d00be 63.6%,#8a009e 65.9%,#b50060 68.2%,#e10021 70.5%,#fd0002 72.7%,#ff0000 75.0%,#fd0002 77.3%,#f70008 79.5%,#df0023 81.8%,#c60047 84.1%,#ab006f 86.4%,#920094 88.6%,#7f00aa 90.9%,#6900c3 93.2%,#5200e0 95.5%,#4100f5 97.7%,#3c02f7 100.0%)"></i><i style="background:linear-gradient(90deg,#4400f1 0.0%,#4b00e8 2.3%,#5b00d4 4.5%,#7100ba 6.8%,#8500a4 9.1%,#99008a 11.4%,#b30063 13.6%,#cc003e 15.9%,#e5001d 18.2%,#fa0005 20.5%,#fe0001 22.7%,#ff0000 25.0%,#fc0003 27.3%,#dc0027 29.5%,#af0069 31.8%,#8600a2 34.1%,#6800c4 36.4%,#2709fe 38.6%,#262dff 40.9%,#344eff 43.2%,#3755ff 45.5%,#3755ff 47.7%,#3755ff 50.0%,#3755ff 52.3%,#3755ff 54.5%,#344eff 56.8%,#262dff 59.1%,#2709fe 61.4%,#6800c4 63.6%,#8600a2 65.9%,#af0069 68.2%,#dc0027 70.5%,#fc0003 72.7%,#ff0000 75.0%,#fe0001 77.3%,#fa0005 79.5%,#e5001d 81.8%,#cc003e 84.1%,#b30063 86.4%,#99008a 88.6%,#8500a4 90.9%,#7100ba 93.2%,#5b00d4 95.5%,#4b00e8 97.7%,#4400f1 100.0%)"></i><i style="background:linear-gradient(90deg,#4e00e5 0.0%,#5400dc 2.3%,#6400c8 4.5%,#7900b1 6.8%,#8b009d 9.1%,#a0007f 11.4%,#bb0058 13.6%,#d20034 15.9%,#ea0018 18.2%,#fb0004 20.5%,#fe0001 22.7%,#ff0000 25.0%,#fb0004 27.3%,#d7002d 29.5%,#a90071 31.8%,#8200a6 34.1%,#6200ca 36.4%,#230cff 38.6%,#2933ff 40.9%,#3551ff 43.2%,#3755ff 45.5%,#3755ff 47.7%,#3755ff 50.0%,#3755ff 52.3%,#3755ff 54.5%,#3551ff 56.8%,#2933ff 59.1%,#230cff 61.4%,#6200ca 63.6%,#8200a6 65.9%,#a90071 68.2%,#d7002d 70.5%,#fb0004 72.7%,#ff0000 75.0%,#fe0001 77.3%,#fb0004 79.5%,#ea0018 81.8%,#d20034 84.1%,#bb0058 86.4%,#a0007f 88.6%,#8b009d 90.9%,#7900b1 93.2%,#6400c8 95.5%,#5400dc 97.7%,#4e00e5 100.0%)"></i><i style="background:linear-gradient(90deg,#5600da 0.0%,#5d00d0 2.3%,#6d00be 4.5%,#8000a9 6.8%,#920095 9.1%,#a80074 11.4%,#c1004e 13.6%,#d8002c 15.9%,#ee0012 18.2%,#fc0003 20.5%,#fe0001 22.7%,#ff0000 25.0%,#fa0005 27.3%,#d20035 29.5%,#a40079 31.8%,#7f00aa 34.1%,#5d00d2 36.4%,#2411ff 38.6%,#2b39ff 40.9%,#3654ff 43.2%,#3755ff 45.5%,#3755ff 47.7%,#3755ff 50.0%,#3755ff 52.3%,#3755ff 54.5%,#3654ff 56.8%,#2b39ff 59.1%,#2411ff 61.4%,#5d00d2 63.6%,#7f00aa 65.9%,#a40079 68.2%,#d20035 70.5%,#fa0005 72.7%,#ff0000 75.0%,#fe0001 77.3%,#fc0003 79.5%,#ee0012 81.8%,#d8002c 84.1%,#c1004e 86.4%,#a80074 88.6%,#920095 90.9%,#8000a9 93.2%,#6d00be 95.5%,#5d00d0 97.7%,#5600da 100.0%)"></i><i style="background:linear-gradient(90deg,#5e00cf 0.0%,#6600c6 2.3%,#7500b5 4.5%,#8600a3 6.8%,#98008b 9.1%,#b00068 11.4%,#c70045 13.6%,#dd0026 15.9%,#f3000d 18.2%,#fc0003 20.5%,#fe0001 22.7%,#ff0000 25.0%,#f70008 27.3%,#cd003c 29.5%,#9f0081 31.8%,#7c00ad 34.1%,#5600da 36.4%,#2415ff 38.6%,#2d3fff 40.9%,#3755ff 43.2%,#3755ff 45.5%,#3755ff 47.7%,#3755ff 50.0%,#3755ff 52.3%,#3755ff 54.5%,#3755ff 56.8%,#2d3fff 59.1%,#2415ff 61.4%,#5600da 63.6%,#7c00ad 65.9%,#9f0081 68.2%,#cd003c 70.5%,#f70008 72.7%,#ff0000 75.0%,#fe0001 77.3%,#fc0003 79.5%,#f3000d 81.8%,#dd0026 84.1%,#c70045 86.4%,#b00068 88.6%,#98008b 90.9%,#8600a3 93.2%,#7500b5 95.5%,#6600c6 97.7%,#5e00cf 100.0%)"></i><i style="background:linear-gradient(90deg,#6500c6 0.0%,#6e00bd 2.3%,#7c00ae 4.5%,#8c009c 6.8%,#9f0080 9.1%,#b7005d 11.4%,#cd003d 13.6%,#e20020 15.9%,#f70009 18.2%,#fd0002 20.5%,#ff0000 22.7%,#fe0001 25.0%,#f3000d 27.3%,#c80044 29.5%,#9a0088 31.8%,#7900b0 34.1%,#5000e2 36.4%,#2419ff 38.6%,#3044ff 40.9%,#3755ff 43.2%,#3755ff 45.5%,#3755ff 47.7%,#3755ff 50.0%,#3755ff 52.3%,#3755ff 54.5%,#3755ff 56.8%,#3044ff 59.1%,#2419ff 61.4%,#5000e2 63.6%,#7900b0 65.9%,#9a0088 68.2%,#c80044 70.5%,#f3000d 72.7%,#fe0001 75.0%,#ff0000 77.3%,#fd0002 79.5%,#f70009 81.8%,#e20020 84.1%,#cd003d 86.4%,#b7005d 88.6%,#9f0080 90.9%,#8c009c 93.2%,#7c00ae 95.5%,#6e00bd 97.7%,#6500c6 100.0%)"></i><i style="background:linear-gradient(90deg,#6c00bf 0.0%,#7500b6 2.3%,#8200a7 4.5%,#930094 6.8%,#a60076 9.1%,#bd0053 11.4%,#d20034 13.6%,#e7001b 15.9%,#fa0005 18.2%,#fd0002 20.5%,#ff0000 22.7%,#fe0001 25.0%,#ee0013 27.3%,#c3004c 29.5%,#96008f 31.8%,#7700b3 34.1%,#4900ea 36.4%,#251eff 38.6%,#3148ff 40.9%,#3755ff 43.2%,#3755ff 45.5%,#3755ff 47.7%,#3755ff 50.0%,#3755ff 52.3%,#3755ff 54.5%,#3755ff 56.8%,#3148ff 59.1%,#251eff 61.4%,#4900ea 63.6%,#7700b3 65.9%,#96008f 68.2%,#c3004c 70.5%,#ee0013 72.7%,#fe0001 75.0%,#ff0000 77.3%,#fd0002 79.5%,#fa0005 81.8%,#e7001b 84.1%,#d20034 86.4%,#bd0053 88.6%,#a60076 90.9%,#930094 93.2%,#8200a7 95.5%,#7500b6 97.7%,#6c00bf 100.0%)"></i><i style="background:linear-gradient(90deg,#7100ba 0.0%,#7a00af 2.3%,#8700a1 4.5%,#99008a 6.8%,#ae006b 9.1%,#c3004b 11.4%,#d8002c 13.6%,#eb0016 15.9%,#fb0004 18.2%,#fd0002 20.5%,#ff0000 22.7%,#fe0001 25.0%,#e90018 27.3%,#be0053 29.5%,#910096 31.8%,#7500b6 34.1%,#4300f2 36.4%,#2522ff 38.6%,#334cff 40.9%,#3755ff 43.2%,#3755ff 45.5%,#3755ff 47.7%,#3755ff 50.0%,#3755ff 52.3%,#3755ff 54.5%,#3755ff 56.8%,#334cff 59.1%,#2522ff 61.4%,#4300f2 63.6%,#7500b6 65.9%,#910096 68.2%,#be0053 70.5%,#e90018 72.7%,#fe0001 75.0%,#ff0000 77.3%,#fd0002 79.5%,#fb0004 81.8%,#eb0016 84.1%,#d8002c 86.4%,#c3004b 88.6%,#ae006b 90.9%,#99008a 93.2%,#8700a1 95.5%,#7a00af 97.7%,#7100ba 100.0%)"></i><i style="background:linear-gradient(90deg,#7500b6 0.0%,#7f00aa 2.3%,#8d009a 4.5%,#9f0081 6.8%,#b50060 9.1%,#c90043 11.4%,#dc0027 13.6%,#f00011 15.9%,#fb0004 18.2%,#fe0001 20.5%,#ff0000 22.7%,#fd0002 25.0%,#e4001e 27.3%,#b9005a 29.5%,#8d009b 31.8%,#7300b8 34.1%,#3e01f6 36.4%,#2525ff 38.6%,#344fff 40.9%,#3755ff 43.2%,#3755ff 45.5%,#3755ff 47.7%,#3755ff 50.0%,#3755ff 52.3%,#3755ff 54.5%,#3755ff 56.8%,#344fff 59.1%,#2525ff 61.4%,#3e01f6 63.6%,#7300b8 65.9%,#8d009b 68.2%,#b9005a 70.5%,#e4001e 72.7%,#fd0002 75.0%,#ff0000 77.3%,#fe0001 79.5%,#fb0004 81.8%,#f00011 84.1%,#dc0027 86.4%,#c90043 88.6%,#b50060 90.9%,#9f0081 93.2%,#8d009a 95.5%,#7f00aa 97.7%,#7500b6 100.0%)"></i><i style="background:linear-gradient(90deg,#7800b1 0.0%,#8400a5 2.3%,#930092 4.5%,#a60077 6.8%,#bb0057 9.1%,#ce003b 11.4%,#e10022 13.6%,#f3000d 15.9%,#fc0003 18.2%,#fe0001 20.5%,#ff0000 22.7%,#fc0003 25.0%,#df0023 27.3%,#b30063 29.5%,#89009f 31.8%,#7100ba 34.1%,#3903f8 36.4%,#2629ff 38.6%,#3551ff 40.9%,#3755ff 43.2%,#3755ff 45.5%,#3755ff 47.7%,#3755ff 50.0%,#3755ff 52.3%,#3755ff 54.5%,#3755ff 56.8%,#3551ff 59.1%,#2629ff 61.4%,#3903f8 63.6%,#7100ba 65.9%,#89009f 68.2%,#b30063 70.5%,#df0023 72.7%,#fc0003 75.0%,#ff0000 77.3%,#fe0001 79.5%,#fc0003 81.8%,#f3000d 84.1%,#e10022 86.4%,#ce003b 88.6%,#bb0057 90.9%,#a60077 93.2%,#930092 95.5%,#8400a5 97.7%,#7800b1 100.0%)"></i><i style="background:linear-gradient(90deg,#7c00ad 0.0%,#89009f 2.3%,#99008a 4.5%,#ac006e 6.8%,#c0004f 9.1%,#d30033 11.4%,#e5001d 13.6%,#f60009 15.9%,#fc0003 18.2%,#fe0001 20.5%,#ff0000 22.7%,#fc0003 25.0%,#da0029 27.3%,#ad006c 29.5%,#8500a3 31.8%,#6f00bc 34.1%,#3404f9 36.4%,#262cff 38.6%,#3653ff 40.9%,#3755ff 43.2%,#3755ff 45.5%,#3755ff 47.7%,#3755ff 50.0%,#3755ff 52.3%,#3755ff 54.5%,#3755ff 56.8%,#3653ff 59.1%,#262cff 61.4%,#3404f9 63.6%,#6f00bc 65.9%,#8500a3 68.2%,#ad006c 70.5%,#da0029 72.7%,#fc0003 75.0%,#ff0000 77.3%,#fe0001 79.5%,#fc0003 81.8%,#f60009 84.1%,#e5001d 86.4%,#d30033 88.6%,#c0004f 90.9%,#ac006e 93.2%,#99008a 95.5%,#89009f 97.7%,#7c00ad 100.0%)"></i><i style="background:linear-gradient(90deg,#8100a8 0.0%,#8e0099 2.3%,#9f0081 4.5%,#b20064 6.8%,#c50048 9.1%,#d7002d 11.4%,#e90018 13.6%,#f90006 15.9%,#fd0002 18.2%,#fe0001 20.5%,#ff0000 22.7%,#fb0004 25.0%,#d50030 27.3%,#a80074 29.5%,#8100a7 31.8%,#6d00be 34.1%,#3006fb 36.4%,#2730ff 38.6%,#3754ff 40.9%,#3755ff 43.2%,#3755ff 45.5%,#3755ff 47.7%,#3755ff 50.0%,#3755ff 52.3%,#3755ff 54.5%,#3755ff 56.8%,#3754ff 59.1%,#2730ff 61.4%,#3006fb 63.6%,#6d00be 65.9%,#8100a7 68.2%,#a80074 70.5%,#d50030 72.7%,#fb0004 75.0%,#ff0000 77.3%,#fe0001 79.5%,#fd0002 81.8%,#f90006 84.1%,#e90018 86.4%,#d7002d 88.6%,#c50048 90.9%,#b20064 93.2%,#9f0081 95.5%,#8e0099 97.7%,#8100a8 100.0%)"></i><i style="background:linear-gradient(90deg,#8500a3 0.0%,#940092 2.3%,#a40079 4.5%,#b8005b 6.8%,#ca0041 9.1%,#dc0028 11.4%,#ed0014 13.6%,#fa0005 15.9%,#fd0002 18.2%,#ff0000 20.5%,#ff0000 22.7%,#fa0005 25.0%,#d00037 27.3%,#a2007c 29.5%,#7e00ab 31.8%,#6b00c0 34.1%,#2b07fc 36.4%,#2933ff 38.6%,#3755ff 40.9%,#3755ff 43.2%,#3755ff 45.5%,#3755ff 47.7%,#3755ff 50.0%,#3755ff 52.3%,#3755ff 54.5%,#3755ff 56.8%,#3755ff 59.1%,#2933ff 61.4%,#2b07fc 63.6%,#6b00c0 65.9%,#7e00ab 68.2%,#a2007c 70.5%,#d00037 72.7%,#fa0005 75.0%,#ff0000 77.3%,#ff0000 79.5%,#fd0002 81.8%,#fa0005 84.1%,#ed0014 86.4%,#dc0028 88.6%,#ca0041 90.9%,#b8005b 93.2%,#a40079 95.5%,#940092 97.7%,#8500a3 100.0%)"></i><i style="background:linear-gradient(90deg,#8a009e 0.0%,#99008b 2.3%,#aa0070 4.5%,#bd0054 6.8%,#ce003a 9.1%,#e00023 11.4%,#f00010 13.6%,#fb0004 15.9%,#fd0002 18.2%,#ff0000 20.5%,#ff0000 22.7%,#f6000a 25.0%,#cb003f 27.3%,#9d0084 29.5%,#7b00ae 31.8%,#6900c3 34.1%,#2709fe 36.4%,#2a37ff 38.6%,#3755ff 40.9%,#3755ff 43.2%,#3755ff 45.5%,#3755ff 47.7%,#3755ff 50.0%,#3755ff 52.3%,#3755ff 54.5%,#3755ff 56.8%,#3755ff 59.1%,#2a37ff 61.4%,#2709fe 63.6%,#6900c3 65.9%,#7b00ae 68.2%,#9d0084 70.5%,#cb003f 72.7%,#f6000a 75.0%,#ff0000 77.3%,#ff0000 79.5%,#fd0002 81.8%,#fb0004 84.1%,#f00010 86.4%,#e00023 88.6%,#ce003a 90.9%,#bd0054 93.2%,#aa0070 95.5%,#99008b 97.7%,#8a009e 100.0%)"></i><i style="background:linear-gradient(90deg,#8e0099 0.0%,#9e0083 2.3%,#af0068 4.5%,#c1004d 6.8%,#d20034 9.1%,#e3001f 11.4%,#f3000d 13.6%,#fb0004 15.9%,#fe0001 18.2%,#ff0000 20.5%,#fe0001 22.7%,#f1000f 25.0%,#c60047 27.3%,#99008b 29.5%,#7800b1 31.8%,#6700c5 34.1%,#230aff 36.4%,#2b3aff 38.6%,#3755ff 40.9%,#3755ff 43.2%,#3755ff 45.5%,#3755ff 47.7%,#3755ff 50.0%,#3755ff 52.3%,#3755ff 54.5%,#3755ff 56.8%,#3755ff 59.1%,#2b3aff 61.4%,#230aff 63.6%,#6700c5 65.9%,#7800b1 68.2%,#99008b 70.5%,#c60047 72.7%,#f1000f 75.0%,#fe0001 77.3%,#ff0000 79.5%,#fe0001 81.8%,#fb0004 84.1%,#f3000d 86.4%,#e3001f 88.6%,#d20034 90.9%,#c1004d 93.2%,#af0068 95.5%,#9e0083 97.7%,#8e0099 100.0%)"></i><i style="background:linear-gradient(90deg,#930093 0.0%,#a2007c 2.3%,#b50060 4.5%,#c50047 6.8%,#d6002e 9.1%,#e7001b 11.4%,#f6000a 13.6%,#fc0003 15.9%,#fe0001 18.2%,#ff0000 20.5%,#fe0001 22.7%,#ec0014 25.0%,#c1004e 27.3%,#940091 29.5%,#7600b4 31.8%,#6500c7 34.1%,#230cff 36.4%,#2d3cff 38.6%,#3755ff 40.9%,#3755ff 43.2%,#3755ff 45.5%,#3755ff 47.7%,#3755ff 50.0%,#3755ff 52.3%,#3755ff 54.5%,#3755ff 56.8%,#3755ff 59.1%,#2d3cff 61.4%,#230cff 63.6%,#6500c7 65.9%,#7600b4 68.2%,#940091 70.5%,#c1004e 72.7%,#ec0014 75.0%,#fe0001 77.3%,#ff0000 79.5%,#fe0001 81.8%,#fc0003 84.1%,#f6000a 86.4%,#e7001b 88.6%,#d6002e 90.9%,#c50047 93.2%,#b50060 95.5%,#a2007c 97.7%,#930093 100.0%)"></i><i style="background:linear-gradient(90deg,#97008d 0.0%,#a70075 2.3%,#ba0059 4.5%,#c90042 6.8%,#da002a 9.1%,#ea0018 11.4%,#f80007 13.6%,#fc0003 15.9%,#fe0001 18.2%,#ff0000 20.5%,#fd0002 22.7%,#e8001a 25.0%,#bc0055 27.3%,#900097 29.5%,#7400b6 31.8%,#6300ca 34.1%,#230eff 36.4%,#2e3fff 38.6%,#3755ff 40.9%,#3755ff 43.2%,#3755ff 45.5%,#3755ff 47.7%,#3755ff 50.0%,#3755ff 52.3%,#3755ff 54.5%,#3755ff 56.8%,#3755ff 59.1%,#2e3fff 61.4%,#230eff 63.6%,#6300ca 65.9%,#7400b6 68.2%,#900097 70.5%,#bc0055 72.7%,#e8001a 75.0%,#fd0002 77.3%,#ff0000 79.5%,#fe0001 81.8%,#fc0003 84.1%,#f80007 86.4%,#ea0018 88.6%,#da002a 90.9%,#c90042 93.2%,#ba0059 95.5%,#a70075 97.7%,#97008d 100.0%)"></i><i style="background:linear-gradient(90deg,#9b0087 0.0%,#ab006e 2.3%,#bd0054 4.5%,#cd003c 6.8%,#dd0026 9.1%,#ed0014 11.4%,#fa0005 13.6%,#fd0002 15.9%,#fe0001 18.2%,#ff0000 20.5%,#fd0002 22.7%,#e30020 25.0%,#b7005d 27.3%,#8b009c 29.5%,#7200b9 31.8%,#6100cc 34.1%,#230fff 36.4%,#2e41ff 38.6%,#3755ff 40.9%,#3755ff 43.2%,#3755ff 45.5%,#3755ff 47.7%,#3755ff 50.0%,#3755ff 52.3%,#3755ff 54.5%,#3755ff 56.8%,#3755ff 59.1%,#2e41ff 61.4%,#230fff 63.6%,#6100cc 65.9%,#7200b9 68.2%,#8b009c 70.5%,#b7005d 72.7%,#e30020 75.0%,#fd0002 77.3%,#ff0000 79.5%,#fe0001 81.8%,#fd0002 84.1%,#fa0005 86.4%,#ed0014 88.6%,#dd0026 90.9%,#cd003c 93.2%,#bd0054 95.5%,#ab006e 97.7%,#9b0087 100.0%)"></i><i style="background:linear-gradient(90deg,#9f0081 0.0%,#b00068 2.3%,#c0004f 4.5%,#d00037 6.8%,#e00023 9.1%,#ef0011 11.4%,#fb0004 13.6%,#fd0002 15.9%,#fe0001 18.2%,#ff0000 20.5%,#fc0003 22.7%,#de0025 25.0%,#b10066 27.3%,#8700a1 29.5%,#7000bb 31.8%,#5f00ce 34.1%,#2411ff 36.4%,#2f42ff 38.6%,#3755ff 40.9%,#3755ff 43.2%,#3755ff 45.5%,#3755ff 47.7%,#3755ff 50.0%,#3755ff 52.3%,#3755ff 54.5%,#3755ff 56.8%,#3755ff 59.1%,#2f42ff 61.4%,#2411ff 63.6%,#5f00ce 65.9%,#7000bb 68.2%,#8700a1 70.5%,#b10066 72.7%,#de0025 75.0%,#fc0003 77.3%,#ff0000 79.5%,#fe0001 81.8%,#fd0002 84.1%,#fb0004 86.4%,#ef0011 88.6%,#e00023 90.9%,#d00037 93.2%,#c0004f 95.5%,#b00068 97.7%,#9f0081 100.0%)"></i><i style="background:linear-gradient(90deg,#a2007c 0.0%,#b40062 2.3%,#c4004a 4.5%,#d30033 6.8%,#e30020 9.1%,#f2000f 11.4%,#fb0004 13.6%,#fd0002 15.9%,#ff0000 18.2%,#ff0000 20.5%,#fb0004 22.7%,#d9002b 25.0%,#ab006f 27.3%,#8400a5 29.5%,#6f00bc 31.8%,#5e00d0 34.1%,#2412ff 36.4%,#3044ff 38.6%,#3755ff 40.9%,#3755ff 43.2%,#3755ff 45.5%,#3755ff 47.7%,#3755ff 50.0%,#3755ff 52.3%,#3755ff 54.5%,#3755ff 56.8%,#3755ff 59.1%,#3044ff 61.4%,#2412ff 63.6%,#5e00d0 65.9%,#6f00bc 68.2%,#8400a5 70.5%,#ab006f 72.7%,#d9002b 75.0%,#fb0004 77.3%,#ff0000 79.5%,#ff0000 81.8%,#fd0002 84.1%,#fb0004 86.4%,#f2000f 88.6%,#e30020 90.9%,#d30033 93.2%,#c4004a 95.5%,#b40062 97.7%,#a2007c 100.0%)"></i><i style="background:linear-gradient(90deg,#a60077 0.0%,#b7005d 2.3%,#c60046 4.5%,#d6002f 6.8%,#e5001d 9.1%,#f4000c 11.4%,#fb0004 13.6%,#fd0002 15.9%,#ff0000 18.2%,#ff0000 20.5%,#fb0004 22.7%,#d40032 25.0%,#a60077 27.3%,#8000a9 29.5%,#6d00be 31.8%,#5c00d2 34.1%,#2413ff 36.4%,#3045ff 38.6%,#3755ff 40.9%,#3755ff 43.2%,#3755ff 45.5%,#3755ff 47.7%,#3755ff 50.0%,#3755ff 52.3%,#3755ff 54.5%,#3755ff 56.8%,#3755ff 59.1%,#3045ff 61.4%,#2413ff 63.6%,#5c00d2 65.9%,#6d00be 68.2%,#8000a9 70.5%,#a60077 72.7%,#d40032 75.0%,#fb0004 77.3%,#ff0000 79.5%,#ff0000 81.8%,#fd0002 84.1%,#fb0004 86.4%,#f4000c 88.6%,#e5001d 90.9%,#d6002f 93.2%,#c60046 95.5%,#b7005d 97.7%,#a60077 100.0%)"></i><i style="background:linear-gradient(90deg,#a90072 0.0%,#ba0058 2.3%,#c90042 4.5%,#d9002b 6.8%,#e8001a 9.1%,#f6000a 11.4%,#fc0003 13.6%,#fe0001 15.9%,#ff0000 18.2%,#ff0000 20.5%,#f80007 22.7%,#ce003a 25.0%,#a1007f 27.3%,#7d00ac 29.5%,#6c00bf 31.8%,#5b00d3 34.1%,#2414ff 36.4%,#3146ff 38.6%,#3755ff 40.9%,#3755ff 43.2%,#3755ff 45.5%,#3755ff 47.7%,#3755ff 50.0%,#3755ff 52.3%,#3755ff 54.5%,#3755ff 56.8%,#3755ff 59.1%,#3146ff 61.4%,#2414ff 63.6%,#5b00d3 65.9%,#6c00bf 68.2%,#7d00ac 70.5%,#a1007f 72.7%,#ce003a 75.0%,#f80007 77.3%,#ff0000 79.5%,#ff0000 81.8%,#fe0001 84.1%,#fc0003 86.4%,#f6000a 88.6%,#e8001a 90.9%,#d9002b 93.2%,#c90042 95.5%,#ba0058 97.7%,#a90072 100.0%)"></i><i style="background:linear-gradient(90deg,#ac006e 0.0%,#bd0055 2.3%,#cb003e 4.5%,#db0029 6.8%,#ea0018 9.1%,#f70008 11.4%,#fc0003 13.6%,#fe0001 15.9%,#ff0000 18.2%,#ff0000 20.5%,#f4000c 22.7%,#c90042 25.0%,#9c0086 27.3%,#7a00af 29.5%,#6b00c0 31.8%,#5a00d4 34.1%,#2415ff 36.4%,#3147ff 38.6%,#3755ff 40.9%,#3755ff 43.2%,#3755ff 45.5%,#3755ff 47.7%,#3755ff 50.0%,#3755ff 52.3%,#3755ff 54.5%,#3755ff 56.8%,#3755ff 59.1%,#3147ff 61.4%,#2415ff 63.6%,#5a00d4 65.9%,#6b00c0 68.2%,#7a00af 70.5%,#9c0086 72.7%,#c90042 75.0%,#f4000c 77.3%,#ff0000 79.5%,#ff0000 81.8%,#fe0001 84.1%,#fc0003 86.4%,#f70008 88.6%,#ea0018 90.9%,#db0029 93.2%,#cb003e 95.5%,#bd0055 97.7%,#ac006e 100.0%)"></i><i style="background:linear-gradient(90deg,#ae006a 0.0%,#bf0051 2.3%,#ce003b 4.5%,#dd0026 6.8%,#ec0015 9.1%,#f90006 11.4%,#fc0003 13.6%,#fe0001 15.9%,#ff0000 18.2%,#fe0001 20.5%,#f00011 22.7%,#c40049 25.0%,#97008d 27.3%,#7800b2 29.5%,#6a00c2 31.8%,#5a00d5 34.1%,#2415ff 36.4%,#3147ff 38.6%,#3755ff 40.9%,#3755ff 43.2%,#3755ff 45.5%,#3755ff 47.7%,#3755ff 50.0%,#3755ff 52.3%,#3755ff 54.5%,#3755ff 56.8%,#3755ff 59.1%,#3147ff 61.4%,#2415ff 63.6%,#5a00d5 65.9%,#6a00c2 68.2%,#7800b2 70.5%,#97008d 72.7%,#c40049 75.0%,#f00011 77.3%,#fe0001 79.5%,#ff0000 81.8%,#fe0001 84.1%,#fc0003 86.4%,#f90006 88.6%,#ec0015 90.9%,#dd0026 93.2%,#ce003b 95.5%,#bf0051 97.7%,#ae006a 100.0%)"></i><i style="background:linear-gradient(90deg,#b10066 0.0%,#c1004f 2.3%,#d00038 4.5%,#df0024 6.8%,#ed0013 9.1%,#fa0005 11.4%,#fc0003 13.6%,#fe0001 15.9%,#ff0000 18.2%,#fe0001 20.5%,#eb0016 22.7%,#bf0050 25.0%,#930094 27.3%,#7500b5 29.5%,#6900c2 31.8%,#5900d6 34.1%,#2415ff 36.4%,#3147ff 38.6%,#3755ff 40.9%,#3755ff 43.2%,#3755ff 45.5%,#3755ff 47.7%,#3755ff 50.0%,#3755ff 52.3%,#3755ff 54.5%,#3755ff 56.8%,#3755ff 59.1%,#3147ff 61.4%,#2415ff 63.6%,#5900d6 65.9%,#6900c2 68.2%,#7500b5 70.5%,#930094 72.7%,#bf0050 75.0%,#eb0016 77.3%,#fe0001 79.5%,#ff0000 81.8%,#fe0001 84.1%,#fc0003 86.4%,#fa0005 88.6%,#ed0013 90.9%,#df0024 93.2%,#d00038 95.5%,#c1004f 97.7%,#b10066 100.0%)"></i><i style="background:linear-gradient(90deg,#b10066 0.0%,#c1004f 2.3%,#d00038 4.5%,#df0024 6.8%,#ed0013 9.1%,#fa0005 11.4%,#fc0003 13.6%,#fe0001 15.9%,#ff0000 18.2%,#fe0001 20.5%,#eb0016 22.7%,#bf0050 25.0%,#930094 27.3%,#7500b5 29.5%,#6900c2 31.8%,#5900d6 34.1%,#2415ff 36.4%,#3147ff 38.6%,#3755ff 40.9%,#3755ff 43.2%,#3755ff 45.5%,#3755ff 47.7%,#3755ff 50.0%,#3755ff 52.3%,#3755ff 54.5%,#3755ff 56.8%,#3755ff 59.1%,#3147ff 61.4%,#2415ff 63.6%,#5900d6 65.9%,#6900c2 68.2%,#7500b5 70.5%,#930094 72.7%,#bf0050 75.0%,#eb0016 77.3%,#fe0001 79.5%,#ff0000 81.8%,#fe0001 84.1%,#fc0003 86.4%,#fa0005 88.6%,#ed0013 90.9%,#df0024 93.2%,#d00038 95.5%,#c1004f 97.7%,#b10066 100.0%)"></i><i style="background:linear-gradient(90deg,#ae006a 0.0%,#bf0051 2.3%,#ce003b 4.5%,#dd0026 6.8%,#ec0015 9.1%,#f90006 11.4%,#fc0003 13.6%,#fe0001 15.9%,#ff0000 18.2%,#fe0001 20.5%,#f00011 22.7%,#c40049 25.0%,#97008d 27.3%,#7800b2 29.5%,#6a00c2 31.8%,#5a00d5 34.1%,#2415ff 36.4%,#3147ff 38.6%,#3755ff 40.9%,#3755ff 43.2%,#3755ff 45.5%,#3755ff 47.7%,#3755ff 50.0%,#3755ff 52.3%,#3755ff 54.5%,#3755ff 56.8%,#3755ff 59.1%,#3147ff 61.4%,#2415ff 63.6%,#5a00d5 65.9%,#6a00c2 68.2%,#7800b2 70.5%,#97008d 72.7%,#c40049 75.0%,#f00011 77.3%,#fe0001 79.5%,#ff0000 81.8%,#fe0001 84.1%,#fc0003 86.4%,#f90006 88.6%,#ec0015 90.9%,#dd0026 93.2%,#ce003b 95.5%,#bf0051 97.7%,#ae006a 100.0%)"></i><i style="background:linear-gradient(90deg,#ac006e 0.0%,#bd0055 2.3%,#cb003e 4.5%,#db0029 6.8%,#ea0018 9.1%,#f70008 11.4%,#fc0003 13.6%,#fe0001 15.9%,#ff0000 18.2%,#ff0000 20.5%,#f4000c 22.7%,#c90042 25.0%,#9c0086 27.3%,#7a00af 29.5%,#6b00c0 31.8%,#5a00d4 34.1%,#2415ff 36.4%,#3147ff 38.6%,#3755ff 40.9%,#3755ff 43.2%,#3755ff 45.5%,#3755ff 47.7%,#3755ff 50.0%,#3755ff 52.3%,#3755ff 54.5%,#3755ff 56.8%,#3755ff 59.1%,#3147ff 61.4%,#2415ff 63.6%,#5a00d4 65.9%,#6b00c0 68.2%,#7a00af 70.5%,#9c0086 72.7%,#c90042 75.0%,#f4000c 77.3%,#ff0000 79.5%,#ff0000 81.8%,#fe0001 84.1%,#fc0003 86.4%,#f70008 88.6%,#ea0018 90.9%,#db0029 93.2%,#cb003e 95.5%,#bd0055 97.7%,#ac006e 100.0%)"></i><i style="background:linear-gradient(90deg,#a90072 0.0%,#ba0058 2.3%,#c90042 4.5%,#d9002b 6.8%,#e8001a 9.1%,#f6000a 11.4%,#fc0003 13.6%,#fe0001 15.9%,#ff0000 18.2%,#ff0000 20.5%,#f80007 22.7%,#ce003a 25.0%,#a1007f 27.3%,#7d00ac 29.5%,#6c00bf 31.8%,#5b00d3 34.1%,#2414ff 36.4%,#3146ff 38.6%,#3755ff 40.9%,#3755ff 43.2%,#3755ff 45.5%,#3755ff 47.7%,#3755ff 50.0%,#3755ff 52.3%,#3755ff 54.5%,#3755ff 56.8%,#3755ff 59.1%,#3146ff 61.4%,#2414ff 63.6%,#5b00d3 65.9%,#6c00bf 68.2%,#7d00ac 70.5%,#a1007f 72.7%,#ce003a 75.0%,#f80007 77.3%,#ff0000 79.5%,#ff0000 81.8%,#fe0001 84.1%,#fc0003 86.4%,#f6000a 88.6%,#e8001a 90.9%,#d9002b 93.2%,#c90042 95.5%,#ba0058 97.7%,#a90072 100.0%)"></i><i style="background:linear-gradient(90deg,#a60077 0.0%,#b7005d 2.3%,#c60046 4.5%,#d6002f 6.8%,#e5001d 9.1%,#f4000c 11.4%,#fb0004 13.6%,#fd0002 15.9%,#ff0000 18.2%,#ff0000 20.5%,#fb0004 22.7%,#d40032 25.0%,#a60077 27.3%,#8000a9 29.5%,#6d00be 31.8%,#5c00d2 34.1%,#2413ff 36.4%,#3045ff 38.6%,#3755ff 40.9%,#3755ff 43.2%,#3755ff 45.5%,#3755ff 47.7%,#3755ff 50.0%,#3755ff 52.3%,#3755ff 54.5%,#3755ff 56.8%,#3755ff 59.1%,#3045ff 61.4%,#2413ff 63.6%,#5c00d2 65.9%,#6d00be 68.2%,#8000a9 70.5%,#a60077 72.7%,#d40032 75.0%,#fb0004 77.3%,#ff0000 79.5%,#ff0000 81.8%,#fd0002 84.1%,#fb0004 86.4%,#f4000c 88.6%,#e5001d 90.9%,#d6002f 93.2%,#c60046 95.5%,#b7005d 97.7%,#a60077 100.0%)"></i><i style="background:linear-gradient(90deg,#a2007c 0.0%,#b40062 2.3%,#c4004a 4.5%,#d30033 6.8%,#e30020 9.1%,#f2000f 11.4%,#fb0004 13.6%,#fd0002 15.9%,#ff0000 18.2%,#ff0000 20.5%,#fb0004 22.7%,#d9002b 25.0%,#ab006f 27.3%,#8400a5 29.5%,#6f00bc 31.8%,#5e00d0 34.1%,#2412ff 36.4%,#3044ff 38.6%,#3755ff 40.9%,#3755ff 43.2%,#3755ff 45.5%,#3755ff 47.7%,#3755ff 50.0%,#3755ff 52.3%,#3755ff 54.5%,#3755ff 56.8%,#3755ff 59.1%,#3044ff 61.4%,#2412ff 63.6%,#5e00d0 65.9%,#6f00bc 68.2%,#8400a5 70.5%,#ab006f 72.7%,#d9002b 75.0%,#fb0004 77.3%,#ff0000 79.5%,#ff0000 81.8%,#fd0002 84.1%,#fb0004 86.4%,#f2000f 88.6%,#e30020 90.9%,#d30033 93.2%,#c4004a 95.5%,#b40062 97.7%,#a2007c 100.0%)"></i><i style="background:linear-gradient(90deg,#9f0081 0.0%,#b00068 2.3%,#c0004f 4.5%,#d00037 6.8%,#e00023 9.1%,#ef0011 11.4%,#fb0004 13.6%,#fd0002 15.9%,#fe0001 18.2%,#ff0000 20.5%,#fc0003 22.7%,#de0025 25.0%,#b10066 27.3%,#8700a1 29.5%,#7000bb 31.8%,#5f00ce 34.1%,#2411ff 36.4%,#2f42ff 38.6%,#3755ff 40.9%,#3755ff 43.2%,#3755ff 45.5%,#3755ff 47.7%,#3755ff 50.0%,#3755ff 52.3%,#3755ff 54.5%,#3755ff 56.8%,#3755ff 59.1%,#2f42ff 61.4%,#2411ff 63.6%,#5f00ce 65.9%,#7000bb 68.2%,#8700a1 70.5%,#b10066 72.7%,#de0025 75.0%,#fc0003 77.3%,#ff0000 79.5%,#fe0001 81.8%,#fd0002 84.1%,#fb0004 86.4%,#ef0011 88.6%,#e00023 90.9%,#d00037 93.2%,#c0004f 95.5%,#b00068 97.7%,#9f0081 100.0%)"></i><i style="background:linear-gradient(90deg,#9b0087 0.0%,#ab006e 2.3%,#bd0054 4.5%,#cd003c 6.8%,#dd0026 9.1%,#ed0014 11.4%,#fa0005 13.6%,#fd0002 15.9%,#fe0001 18.2%,#ff0000 20.5%,#fd0002 22.7%,#e30020 25.0%,#b7005d 27.3%,#8b009c 29.5%,#7200b9 31.8%,#6100cc 34.1%,#230fff 36.4%,#2e41ff 38.6%,#3755ff 40.9%,#3755ff 43.2%,#3755ff 45.5%,#3755ff 47.7%,#3755ff 50.0%,#3755ff 52.3%,#3755ff 54.5%,#3755ff 56.8%,#3755ff 59.1%,#2e41ff 61.4%,#230fff 63.6%,#6100cc 65.9%,#7200b9 68.2%,#8b009c 70.5%,#b7005d 72.7%,#e30020 75.0%,#fd0002 77.3%,#ff0000 79.5%,#fe0001 81.8%,#fd0002 84.1%,#fa0005 86.4%,#ed0014 88.6%,#dd0026 90.9%,#cd003c 93.2%,#bd0054 95.5%,#ab006e 97.7%,#9b0087 100.0%)"></i><i style="background:linear-gradient(90deg,#97008d 0.0%,#a70075 2.3%,#ba0059 4.5%,#c90042 6.8%,#da002a 9.1%,#ea0018 11.4%,#f80007 13.6%,#fc0003 15.9%,#fe0001 18.2%,#ff0000 20.5%,#fd0002 22.7%,#e8001a 25.0%,#bc0055 27.3%,#900097 29.5%,#7400b6 31.8%,#6300ca 34.1%,#230eff 36.4%,#2e3fff 38.6%,#3755ff 40.9%,#3755ff 43.2%,#3755ff 45.5%,#3755ff 47.7%,#3755ff 50.0%,#3755ff 52.3%,#3755ff 54.5%,#3755ff 56.8%,#3755ff 59.1%,#2e3fff 61.4%,#230eff 63.6%,#6300ca 65.9%,#7400b6 68.2%,#900097 70.5%,#bc0055 72.7%,#e8001a 75.0%,#fd0002 77.3%,#ff0000 79.5%,#fe0001 81.8%,#fc0003 84.1%,#f80007 86.4%,#ea0018 88.6%,#da002a 90.9%,#c90042 93.2%,#ba0059 95.5%,#a70075 97.7%,#97008d 100.0%)"></i><i style="background:linear-gradient(90deg,#930093 0.0%,#a2007c 2.3%,#b50060 4.5%,#c50047 6.8%,#d6002e 9.1%,#e7001b 11.4%,#f6000a 13.6%,#fc0003 15.9%,#fe0001 18.2%,#ff0000 20.5%,#fe0001 22.7%,#ec0014 25.0%,#c1004e 27.3%,#940091 29.5%,#7600b4 31.8%,#6500c7 34.1%,#230cff 36.4%,#2d3cff 38.6%,#3755ff 40.9%,#3755ff 43.2%,#3755ff 45.5%,#3755ff 47.7%,#3755ff 50.0%,#3755ff 52.3%,#3755ff 54.5%,#3755ff 56.8%,#3755ff 59.1%,#2d3cff 61.4%,#230cff 63.6%,#6500c7 65.9%,#7600b4 68.2%,#940091 70.5%,#c1004e 72.7%,#ec0014 75.0%,#fe0001 77.3%,#ff0000 79.5%,#fe0001 81.8%,#fc0003 84.1%,#f6000a 86.4%,#e7001b 88.6%,#d6002e 90.9%,#c50047 93.2%,#b50060 95.5%,#a2007c 97.7%,#930093 100.0%)"></i><i style="background:linear-gradient(90deg,#8e0099 0.0%,#9e0083 2.3%,#af0068 4.5%,#c1004d 6.8%,#d20034 9.1%,#e3001f 11.4%,#f3000d 13.6%,#fb0004 15.9%,#fe0001 18.2%,#ff0000 20.5%,#fe0001 22.7%,#f1000f 25.0%,#c60047 27.3%,#99008b 29.5%,#7800b1 31.8%,#6700c5 34.1%,#230aff 36.4%,#2b3aff 38.6%,#3755ff 40.9%,#3755ff 43.2%,#3755ff 45.5%,#3755ff 47.7%,#3755ff 50.0%,#3755ff 52.3%,#3755ff 54.5%,#3755ff 56.8%,#3755ff 59.1%,#2b3aff 61.4%,#230aff 63.6%,#6700c5 65.9%,#7800b1 68.2%,#99008b 70.5%,#c60047 72.7%,#f1000f 75.0%,#fe0001 77.3%,#ff0000 79.5%,#fe0001 81.8%,#fb0004 84.1%,#f3000d 86.4%,#e3001f 88.6%,#d20034 90.9%,#c1004d 93.2%,#af0068 95.5%,#9e0083 97.7%,#8e0099 100.0%)"></i><i style="background:linear-gradient(90deg,#8a009e 0.0%,#99008b 2.3%,#aa0070 4.5%,#bd0054 6.8%,#ce003a 9.1%,#e00023 11.4%,#f00010 13.6%,#fb0004 15.9%,#fd0002 18.2%,#ff0000 20.5%,#ff0000 22.7%,#f6000a 25.0%,#cb003f 27.3%,#9d0084 29.5%,#7b00ae 31.8%,#6900c3 34.1%,#2709fe 36.4%,#2a37ff 38.6%,#3755ff 40.9%,#3755ff 43.2%,#3755ff 45.5%,#3755ff 47.7%,#3755ff 50.0%,#3755ff 52.3%,#3755ff 54.5%,#3755ff 56.8%,#3755ff 59.1%,#2a37ff 61.4%,#2709fe 63.6%,#6900c3 65.9%,#7b00ae 68.2%,#9d0084 70.5%,#cb003f 72.7%,#f6000a 75.0%,#ff0000 77.3%,#ff0000 79.5%,#fd0002 81.8%,#fb0004 84.1%,#f00010 86.4%,#e00023 88.6%,#ce003a 90.9%,#bd0054 93.2%,#aa0070 95.5%,#99008b 97.7%,#8a009e 100.0%)"></i><i style="background:linear-gradient(90deg,#8500a3 0.0%,#940092 2.3%,#a40079 4.5%,#b8005b 6.8%,#ca0041 9.1%,#dc0028 11.4%,#ed0014 13.6%,#fa0005 15.9%,#fd0002 18.2%,#ff0000 20.5%,#ff0000 22.7%,#fa0005 25.0%,#d00037 27.3%,#a2007c 29.5%,#7e00ab 31.8%,#6b00c0 34.1%,#2b07fc 36.4%,#2933ff 38.6%,#3755ff 40.9%,#3755ff 43.2%,#3755ff 45.5%,#3755ff 47.7%,#3755ff 50.0%,#3755ff 52.3%,#3755ff 54.5%,#3755ff 56.8%,#3755ff 59.1%,#2933ff 61.4%,#2b07fc 63.6%,#6b00c0 65.9%,#7e00ab 68.2%,#a2007c 70.5%,#d00037 72.7%,#fa0005 75.0%,#ff0000 77.3%,#ff0000 79.5%,#fd0002 81.8%,#fa0005 84.1%,#ed0014 86.4%,#dc0028 88.6%,#ca0041 90.9%,#b8005b 93.2%,#a40079 95.5%,#940092 97.7%,#8500a3 100.0%)"></i><i style="background:linear-gradient(90deg,#8100a8 0.0%,#8e0099 2.3%,#9f0081 4.5%,#b20064 6.8%,#c50048 9.1%,#d7002d 11.4%,#e90018 13.6%,#f90006 15.9%,#fd0002 18.2%,#fe0001 20.5%,#ff0000 22.7%,#fb0004 25.0%,#d50030 27.3%,#a80074 29.5%,#8100a7 31.8%,#6d00be 34.1%,#3006fb 36.4%,#2730ff 38.6%,#3754ff 40.9%,#3755ff 43.2%,#3755ff 45.5%,#3755ff 47.7%,#3755ff 50.0%,#3755ff 52.3%,#3755ff 54.5%,#3755ff 56.8%,#3754ff 59.1%,#2730ff 61.4%,#3006fb 63.6%,#6d00be 65.9%,#8100a7 68.2%,#a80074 70.5%,#d50030 72.7%,#fb0004 75.0%,#ff0000 77.3%,#fe0001 79.5%,#fd0002 81.8%,#f90006 84.1%,#e90018 86.4%,#d7002d 88.6%,#c50048 90.9%,#b20064 93.2%,#9f0081 95.5%,#8e0099 97.7%,#8100a8 100.0%)"></i><i style="background:linear-gradient(90deg,#7c00ad 0.0%,#89009f 2.3%,#99008a 4.5%,#ac006e 6.8%,#c0004f 9.1%,#d30033 11.4%,#e5001d 13.6%,#f60009 15.9%,#fc0003 18.2%,#fe0001 20.5%,#ff0000 22.7%,#fc0003 25.0%,#da0029 27.3%,#ad006c 29.5%,#8500a3 31.8%,#6f00bc 34.1%,#3404f9 36.4%,#262cff 38.6%,#3653ff 40.9%,#3755ff 43.2%,#3755ff 45.5%,#3755ff 47.7%,#3755ff 50.0%,#3755ff 52.3%,#3755ff 54.5%,#3755ff 56.8%,#3653ff 59.1%,#262cff 61.4%,#3404f9 63.6%,#6f00bc 65.9%,#8500a3 68.2%,#ad006c 70.5%,#da0029 72.7%,#fc0003 75.0%,#ff0000 77.3%,#fe0001 79.5%,#fc0003 81.8%,#f60009 84.1%,#e5001d 86.4%,#d30033 88.6%,#c0004f 90.9%,#ac006e 93.2%,#99008a 95.5%,#89009f 97.7%,#7c00ad 100.0%)"></i><i style="background:linear-gradient(90deg,#7800b1 0.0%,#8400a5 2.3%,#930092 4.5%,#a60077 6.8%,#bb0057 9.1%,#ce003b 11.4%,#e10022 13.6%,#f3000d 15.9%,#fc0003 18.2%,#fe0001 20.5%,#ff0000 22.7%,#fc0003 25.0%,#df0023 27.3%,#b30063 29.5%,#89009f 31.8%,#7100ba 34.1%,#3903f8 36.4%,#2629ff 38.6%,#3551ff 40.9%,#3755ff 43.2%,#3755ff 45.5%,#3755ff 47.7%,#3755ff 50.0%,#3755ff 52.3%,#3755ff 54.5%,#3755ff 56.8%,#3551ff 59.1%,#2629ff 61.4%,#3903f8 63.6%,#7100ba 65.9%,#89009f 68.2%,#b30063 70.5%,#df0023 72.7%,#fc0003 75.0%,#ff0000 77.3%,#fe0001 79.5%,#fc0003 81.8%,#f3000d 84.1%,#e10022 86.4%,#ce003b 88.6%,#bb0057 90.9%,#a60077 93.2%,#930092 95.5%,#8400a5 97.7%,#7800b1 100.0%)"></i><i style="background:linear-gradient(90deg,#7500b6 0.0%,#7f00aa 2.3%,#8d009a 4.5%,#9f0081 6.8%,#b50060 9.1%,#c90043 11.4%,#dc0027 13.6%,#f00011 15.9%,#fb0004 18.2%,#fe0001 20.5%,#ff0000 22.7%,#fd0002 25.0%,#e4001e 27.3%,#b9005a 29.5%,#8d009b 31.8%,#7300b8 34.1%,#3e01f6 36.4%,#2525ff 38.6%,#344fff 40.9%,#3755ff 43.2%,#3755ff 45.5%,#3755ff 47.7%,#3755ff 50.0%,#3755ff 52.3%,#3755ff 54.5%,#3755ff 56.8%,#344fff 59.1%,#2525ff 61.4%,#3e01f6 63.6%,#7300b8 65.9%,#8d009b 68.2%,#b9005a 70.5%,#e4001e 72.7%,#fd0002 75.0%,#ff0000 77.3%,#fe0001 79.5%,#fb0004 81.8%,#f00011 84.1%,#dc0027 86.4%,#c90043 88.6%,#b50060 90.9%,#9f0081 93.2%,#8d009a 95.5%,#7f00aa 97.7%,#7500b6 100.0%)"></i><i style="background:linear-gradient(90deg,#7100ba 0.0%,#7a00af 2.3%,#8700a1 4.5%,#99008a 6.8%,#ae006b 9.1%,#c3004b 11.4%,#d8002c 13.6%,#eb0016 15.9%,#fb0004 18.2%,#fd0002 20.5%,#ff0000 22.7%,#fe0001 25.0%,#e90018 27.3%,#be0053 29.5%,#910096 31.8%,#7500b6 34.1%,#4300f2 36.4%,#2522ff 38.6%,#334cff 40.9%,#3755ff 43.2%,#3755ff 45.5%,#3755ff 47.7%,#3755ff 50.0%,#3755ff 52.3%,#3755ff 54.5%,#3755ff 56.8%,#334cff 59.1%,#2522ff 61.4%,#4300f2 63.6%,#7500b6 65.9%,#910096 68.2%,#be0053 70.5%,#e90018 72.7%,#fe0001 75.0%,#ff0000 77.3%,#fd0002 79.5%,#fb0004 81.8%,#eb0016 84.1%,#d8002c 86.4%,#c3004b 88.6%,#ae006b 90.9%,#99008a 93.2%,#8700a1 95.5%,#7a00af 97.7%,#7100ba 100.0%)"></i><i style="background:linear-gradient(90deg,#6c00bf 0.0%,#7500b6 2.3%,#8200a7 4.5%,#930094 6.8%,#a60076 9.1%,#bd0053 11.4%,#d20034 13.6%,#e7001b 15.9%,#fa0005 18.2%,#fd0002 20.5%,#ff0000 22.7%,#fe0001 25.0%,#ee0013 27.3%,#c3004c 29.5%,#96008f 31.8%,#7700b3 34.1%,#4900ea 36.4%,#251eff 38.6%,#3148ff 40.9%,#3755ff 43.2%,#3755ff 45.5%,#3755ff 47.7%,#3755ff 50.0%,#3755ff 52.3%,#3755ff 54.5%,#3755ff 56.8%,#3148ff 59.1%,#251eff 61.4%,#4900ea 63.6%,#7700b3 65.9%,#96008f 68.2%,#c3004c 70.5%,#ee0013 72.7%,#fe0001 75.0%,#ff0000 77.3%,#fd0002 79.5%,#fa0005 81.8%,#e7001b 84.1%,#d20034 86.4%,#bd0053 88.6%,#a60076 90.9%,#930094 93.2%,#8200a7 95.5%,#7500b6 97.7%,#6c00bf 100.0%)"></i><i style="background:linear-gradient(90deg,#6500c6 0.0%,#6e00bd 2.3%,#7c00ae 4.5%,#8c009c 6.8%,#9f0080 9.1%,#b7005d 11.4%,#cd003d 13.6%,#e20020 15.9%,#f70009 18.2%,#fd0002 20.5%,#ff0000 22.7%,#fe0001 25.0%,#f3000d 27.3%,#c80044 29.5%,#9a0088 31.8%,#7900b0 34.1%,#5000e2 36.4%,#2419ff 38.6%,#3044ff 40.9%,#3755ff 43.2%,#3755ff 45.5%,#3755ff 47.7%,#3755ff 50.0%,#3755ff 52.3%,#3755ff 54.5%,#3755ff 56.8%,#3044ff 59.1%,#2419ff 61.4%,#5000e2 63.6%,#7900b0 65.9%,#9a0088 68.2%,#c80044 70.5%,#f3000d 72.7%,#fe0001 75.0%,#ff0000 77.3%,#fd0002 79.5%,#f70009 81.8%,#e20020 84.1%,#cd003d 86.4%,#b7005d 88.6%,#9f0080 90.9%,#8c009c 93.2%,#7c00ae 95.5%,#6e00bd 97.7%,#6500c6 100.0%)"></i><i style="background:linear-gradient(90deg,#5e00cf 0.0%,#6600c6 2.3%,#7500b5 4.5%,#8600a3 6.8%,#98008b 9.1%,#b00068 11.4%,#c70045 13.6%,#dd0026 15.9%,#f3000d 18.2%,#fc0003 20.5%,#fe0001 22.7%,#ff0000 25.0%,#f70008 27.3%,#cd003c 29.5%,#9f0081 31.8%,#7c00ad 34.1%,#5600da 36.4%,#2415ff 38.6%,#2d3fff 40.9%,#3755ff 43.2%,#3755ff 45.5%,#3755ff 47.7%,#3755ff 50.0%,#3755ff 52.3%,#3755ff 54.5%,#3755ff 56.8%,#2d3fff 59.1%,#2415ff 61.4%,#5600da 63.6%,#7c00ad 65.9%,#9f0081 68.2%,#cd003c 70.5%,#f70008 72.7%,#ff0000 75.0%,#fe0001 77.3%,#fc0003 79.5%,#f3000d 81.8%,#dd0026 84.1%,#c70045 86.4%,#b00068 88.6%,#98008b 90.9%,#8600a3 93.2%,#7500b5 95.5%,#6600c6 97.7%,#5e00cf 100.0%)"></i><i style="background:linear-gradient(90deg,#5600da 0.0%,#5d00d0 2.3%,#6d00be 4.5%,#8000a9 6.8%,#920095 9.1%,#a80074 11.4%,#c1004e 13.6%,#d8002c 15.9%,#ee0012 18.2%,#fc0003 20.5%,#fe0001 22.7%,#ff0000 25.0%,#fa0005 27.3%,#d20035 29.5%,#a40079 31.8%,#7f00aa 34.1%,#5d00d2 36.4%,#2411ff 38.6%,#2b39ff 40.9%,#3654ff 43.2%,#3755ff 45.5%,#3755ff 47.7%,#3755ff 50.0%,#3755ff 52.3%,#3755ff 54.5%,#3654ff 56.8%,#2b39ff 59.1%,#2411ff 61.4%,#5d00d2 63.6%,#7f00aa 65.9%,#a40079 68.2%,#d20035 70.5%,#fa0005 72.7%,#ff0000 75.0%,#fe0001 77.3%,#fc0003 79.5%,#ee0012 81.8%,#d8002c 84.1%,#c1004e 86.4%,#a80074 88.6%,#920095 90.9%,#8000a9 93.2%,#6d00be 95.5%,#5d00d0 97.7%,#5600da 100.0%)"></i><i style="background:linear-gradient(90deg,#4e00e5 0.0%,#5400dc 2.3%,#6400c8 4.5%,#7900b1 6.8%,#8b009d 9.1%,#a0007f 11.4%,#bb0058 13.6%,#d20034 15.9%,#ea0018 18.2%,#fb0004 20.5%,#fe0001 22.7%,#ff0000 25.0%,#fb0004 27.3%,#d7002d 29.5%,#a90071 31.8%,#8200a6 34.1%,#6200ca 36.4%,#230cff 38.6%,#2933ff 40.9%,#3551ff 43.2%,#3755ff 45.5%,#3755ff 47.7%,#3755ff 50.0%,#3755ff 52.3%,#3755ff 54.5%,#3551ff 56.8%,#2933ff 59.1%,#230cff 61.4%,#6200ca 63.6%,#8200a6 65.9%,#a90071 68.2%,#d7002d 70.5%,#fb0004 72.7%,#ff0000 75.0%,#fe0001 77.3%,#fb0004 79.5%,#ea0018 81.8%,#d20034 84.1%,#bb0058 86.4%,#a0007f 88.6%,#8b009d 90.9%,#7900b1 93.2%,#6400c8 95.5%,#5400dc 97.7%,#4e00e5 100.0%)"></i><i style="background:linear-gradient(90deg,#4400f1 0.0%,#4b00e8 2.3%,#5b00d4 4.5%,#7100ba 6.8%,#8500a4 9.1%,#99008a 11.4%,#b30063 13.6%,#cc003e 15.9%,#e5001d 18.2%,#fa0005 20.5%,#fe0001 22.7%,#ff0000 25.0%,#fc0003 27.3%,#dc0027 29.5%,#af0069 31.8%,#8600a2 34.1%,#6800c4 36.4%,#2709fe 38.6%,#262dff 40.9%,#344eff 43.2%,#3755ff 45.5%,#3755ff 47.7%,#3755ff 50.0%,#3755ff 52.3%,#3755ff 54.5%,#344eff 56.8%,#262dff 59.1%,#2709fe 61.4%,#6800c4 63.6%,#8600a2 65.9%,#af0069 68.2%,#dc0027 70.5%,#fc0003 72.7%,#ff0000 75.0%,#fe0001 77.3%,#fa0005 79.5%,#e5001d 81.8%,#cc003e 84.1%,#b30063 86.4%,#99008a 88.6%,#8500a4 90.9%,#7100ba 93.2%,#5b00d4 95.5%,#4b00e8 97.7%,#4400f1 100.0%)"></i><i style="background:linear-gradient(90deg,#3c02f7 0.0%,#4100f5 2.3%,#5200e0 4.5%,#6900c3 6.8%,#7f00aa 9.1%,#920094 11.4%,#ab006f 13.6%,#c60047 15.9%,#df0023 18.2%,#f70008 20.5%,#fd0002 22.7%,#ff0000 25.0%,#fd0002 27.3%,#e10021 29.5%,#b50060 31.8%,#8a009e 34.1%,#6d00be 36.4%,#2f06fb 38.6%,#2627ff 40.9%,#3249ff 43.2%,#3755ff 45.5%,#3755ff 47.7%,#3755ff 50.0%,#3755ff 52.3%,#3755ff 54.5%,#3249ff 56.8%,#2627ff 59.1%,#2f06fb 61.4%,#6d00be 63.6%,#8a009e 65.9%,#b50060 68.2%,#e10021 70.5%,#fd0002 72.7%,#ff0000 75.0%,#fd0002 77.3%,#f70008 79.5%,#df0023 81.8%,#c60047 84.1%,#ab006f 86.4%,#920094 88.6%,#7f00aa 90.9%,#6900c3 93.2%,#5200e0 95.5%,#4100f5 97.7%,#3c02f7 100.0%)"></i><i style="background:linear-gradient(90deg,#3404f9 0.0%,#3903f8 2.3%,#4800ec 4.5%,#6000cd 6.8%,#7900b1 9.1%,#8b009d 11.4%,#a3007b 13.6%,#bf0051 15.9%,#da002a 18.2%,#f3000d 20.5%,#fd0002 22.7%,#ff0000 25.0%,#fd0002 27.3%,#e6001c 29.5%,#bb0058 31.8%,#8e0099 34.1%,#7100b9 36.4%,#3703f8 38.6%,#2522ff 40.9%,#3044ff 43.2%,#3654ff 45.5%,#3755ff 47.7%,#3755ff 50.0%,#3755ff 52.3%,#3654ff 54.5%,#3044ff 56.8%,#2522ff 59.1%,#3703f8 61.4%,#7100b9 63.6%,#8e0099 65.9%,#bb0058 68.2%,#e6001c 70.5%,#fd0002 72.7%,#ff0000 75.0%,#fd0002 77.3%,#f3000d 79.5%,#da002a 81.8%,#bf0051 84.1%,#a3007b 86.4%,#8b009d 88.6%,#7900b1 90.9%,#6000cd 93.2%,#4800ec 95.5%,#3903f8 97.7%,#3404f9 100.0%)"></i><i style="background:linear-gradient(90deg,#2b07fc 0.0%,#3006fb 2.3%,#3f01f6 4.5%,#5800d7 6.8%,#7200b8 9.1%,#8400a4 11.4%,#9b0086 13.6%,#b9005a 15.9%,#d40032 18.2%,#ee0012 20.5%,#fc0003 22.7%,#ff0000 25.0%,#fe0001 27.3%,#eb0016 29.5%,#bf0050 31.8%,#930093 34.1%,#7500b5 36.4%,#3f01f6 38.6%,#251cff 40.9%,#2d3dff 43.2%,#3551ff 45.5%,#3755ff 47.7%,#3755ff 50.0%,#3755ff 52.3%,#3551ff 54.5%,#2d3dff 56.8%,#251cff 59.1%,#3f01f6 61.4%,#7500b5 63.6%,#930093 65.9%,#bf0050 68.2%,#eb0016 70.5%,#fe0001 72.7%,#ff0000 75.0%,#fc0003 77.3%,#ee0012 79.5%,#d40032 81.8%,#b9005a 84.1%,#9b0086 86.4%,#8400a4 88.6%,#7200b8 90.9%,#5800d7 93.2%,#3f01f6 95.5%,#3006fb 97.7%,#2b07fc 100.0%)"></i><i style="background:linear-gradient(90deg,#230aff 0.0%,#2808fd 2.3%,#3703f8 4.5%,#5000e2 6.8%,#6c00bf 9.1%,#7f00aa 11.4%,#940091 13.6%,#b10067 15.9%,#cd003c 18.2%,#e90018 20.5%,#fc0003 22.7%,#ff0000 25.0%,#fe0001 27.3%,#f00011 29.5%,#c40049 31.8%,#97008d 34.1%,#7800b2 36.4%,#4800ec 38.6%,#2416ff 40.9%,#2a36ff 43.2%,#334dff 45.5%,#3754ff 47.7%,#3755ff 50.0%,#3754ff 52.3%,#334dff 54.5%,#2a36ff 56.8%,#2416ff 59.1%,#4800ec 61.4%,#7800b2 63.6%,#97008d 65.9%,#c40049 68.2%,#f00011 70.5%,#fe0001 72.7%,#ff0000 75.0%,#fc0003 77.3%,#e90018 79.5%,#cd003c 81.8%,#b10067 84.1%,#940091 86.4%,#7f00aa 88.6%,#6c00bf 90.9%,#5000e2 93.2%,#3703f8 95.5%,#2808fd 97.7%,#230aff 100.0%)"></i><i style="background:linear-gradient(90deg,#2310ff 0.0%,#230cff 2.3%,#2f06fb 4.5%,#4700ed 6.8%,#6500c7 9.1%,#7900b0 11.4%,#8d009a 13.6%,#a80073 15.9%,#c70045 18.2%,#e4001e 20.5%,#fb0004 22.7%,#fe0001 25.0%,#ff0000 27.3%,#f4000c 29.5%,#c90042 31.8%,#9c0086 34.1%,#7a00af 36.4%,#5100e0 38.6%,#2411ff 40.9%,#262eff 43.2%,#3147ff 45.5%,#3551ff 47.7%,#3653ff 50.0%,#3551ff 52.3%,#3147ff 54.5%,#262eff 56.8%,#2411ff 59.1%,#5100e0 61.4%,#7a00af 63.6%,#9c0086 65.9%,#c90042 68.2%,#f4000c 70.5%,#ff0000 72.7%,#fe0001 75.0%,#fb0004 77.3%,#e4001e 79.5%,#c70045 81.8%,#a80073 84.1%,#8d009a 86.4%,#7900b0 88.6%,#6500c7 90.9%,#4700ed 93.2%,#2f06fb 95.5%,#230cff 97.7%,#2310ff 100.0%)"></i><i style="background:linear-gradient(90deg,#2415ff 0.0%,#2412ff 2.3%,#2709fe 4.5%,#3f01f6 6.8%,#5f00cf 9.1%,#7500b5 11.4%,#8600a2 13.6%,#a1007f 15.9%,#c0004f 18.2%,#de0025 20.5%,#fa0005 22.7%,#fe0001 25.0%,#ff0000 27.3%,#f90007 29.5%,#ce003a 31.8%,#a1007f 34.1%,#7d00ac 36.4%,#5a00d5 38.6%,#230bff 40.9%,#2627ff 43.2%,#2e40ff 45.5%,#344dff 47.7%,#3550ff 50.0%,#344dff 52.3%,#2e40ff 54.5%,#2627ff 56.8%,#230bff 59.1%,#5a00d5 61.4%,#7d00ac 63.6%,#a1007f 65.9%,#ce003a 68.2%,#f90007 70.5%,#ff0000 72.7%,#fe0001 75.0%,#fa0005 77.3%,#de0025 79.5%,#c0004f 81.8%,#a1007f 84.1%,#8600a2 86.4%,#7500b5 88.6%,#5f00cf 90.9%,#3f01f6 93.2%,#2709fe 95.5%,#2412ff 97.7%,#2415ff 100.0%)"></i><i style="background:linear-gradient(90deg,#241bff 0.0%,#2417ff 2.3%,#230cff 4.5%,#3903f8 6.8%,#5800d7 9.1%,#7100ba 11.4%,#8000a8 13.6%,#99008a 15.9%,#ba0058 18.2%,#d8002b 20.5%,#f6000a 22.7%,#fe0001 25.0%,#ff0000 27.3%,#fb0004 29.5%,#d40032 31.8%,#a60077 34.1%,#8000a9 36.4%,#6200cb 38.6%,#2c07fc 40.9%,#2521ff 43.2%,#2b38ff 45.5%,#3147ff 47.7%,#334bff 50.0%,#3147ff 52.3%,#2b38ff 54.5%,#2521ff 56.8%,#2c07fc 59.1%,#6200cb 61.4%,#8000a9 63.6%,#a60077 65.9%,#d40032 68.2%,#fb0004 70.5%,#ff0000 72.7%,#fe0001 75.0%,#f6000a 77.3%,#d8002b 79.5%,#ba0058 81.8%,#99008a 84.1%,#8000a8 86.4%,#7100ba 88.6%,#5800d7 90.9%,#3903f8 93.2%,#230cff 95.5%,#2417ff 97.7%,#241bff 100.0%)"></i><i style="background:linear-gradient(90deg,#2520ff 0.0%,#251cff 2.3%,#2411ff 4.5%,#3205fa 6.8%,#5200df 9.1%,#6d00be 11.4%,#7b00ae 13.6%,#920094 15.9%,#b20065 18.2%,#d20034 20.5%,#f1000f 22.7%,#fd0002 25.0%,#ff0000 27.3%,#fb0004 29.5%,#d9002b 31.8%,#ab006f 34.1%,#8400a5 36.4%,#6800c3 38.6%,#3504f9 40.9%,#241aff 43.2%,#2730ff 45.5%,#2e3fff 47.7%,#3044ff 50.0%,#2e3fff 52.3%,#2730ff 54.5%,#241aff 56.8%,#3504f9 59.1%,#6800c3 61.4%,#8400a5 63.6%,#ab006f 65.9%,#d9002b 68.2%,#fb0004 70.5%,#ff0000 72.7%,#fd0002 75.0%,#f1000f 77.3%,#d20034 79.5%,#b20065 81.8%,#920094 84.1%,#7b00ae 86.4%,#6d00be 88.6%,#5200df 90.9%,#3205fa 93.2%,#2411ff 95.5%,#251cff 97.7%,#2520ff 100.0%)"></i><i style="background:linear-gradient(90deg,#2525ff 0.0%,#2521ff 2.3%,#2416ff 4.5%,#2b07fc 6.8%,#4c00e7 9.1%,#6900c2 11.4%,#7700b3 13.6%,#8c009c 15.9%,#aa0071 18.2%,#cc003e 20.5%,#ec0015 22.7%,#fd0002 25.0%,#ff0000 27.3%,#fc0003 29.5%,#de0025 31.8%,#b10066 34.1%,#8700a1 36.4%,#6e00bd 38.6%,#3f01f6 40.9%,#2414ff 43.2%,#2628ff 45.5%,#2a37ff 47.7%,#2c3cff 50.0%,#2a37ff 52.3%,#2628ff 54.5%,#2414ff 56.8%,#3f01f6 59.1%,#6e00bd 61.4%,#8700a1 63.6%,#b10066 65.9%,#de0025 68.2%,#fc0003 70.5%,#ff0000 72.7%,#fd0002 75.0%,#ec0015 77.3%,#cc003e 79.5%,#aa0071 81.8%,#8c009c 84.1%,#7700b3 86.4%,#6900c2 88.6%,#4c00e7 90.9%,#2b07fc 93.2%,#2416ff 95.5%,#2521ff 97.7%,#2525ff 100.0%)"></i><i style="background:linear-gradient(90deg,#262aff 0.0%,#2526ff 2.3%,#241aff 4.5%,#2509fe 6.8%,#4600ef 9.1%,#6500c6 11.4%,#7300b7 13.6%,#8500a3 15.9%,#a2007c 18.2%,#c50047 20.5%,#e7001b 22.7%,#fc0003 25.0%,#ff0000 27.3%,#fd0002 29.5%,#e30020 31.8%,#b7005d 34.1%,#8b009c 36.4%,#7200b9 38.6%,#4900eb 40.9%,#230dff 43.2%,#2521ff 45.5%,#262dff 47.7%,#2933ff 50.0%,#262dff 52.3%,#2521ff 54.5%,#230dff 56.8%,#4900eb 59.1%,#7200b9 61.4%,#8b009c 63.6%,#b7005d 65.9%,#e30020 68.2%,#fd0002 70.5%,#ff0000 72.7%,#fc0003 75.0%,#e7001b 77.3%,#c50047 79.5%,#a2007c 81.8%,#8500a3 84.1%,#7300b7 86.4%,#6500c6 88.6%,#4600ef 90.9%,#2509fe 93.2%,#241aff 95.5%,#2526ff 97.7%,#262aff 100.0%)"></i><i style="background:linear-gradient(90deg,#2730ff 0.0%,#262bff 2.3%,#251fff 4.5%,#230dff 6.8%,#4000f5 9.1%,#6200cb 11.4%,#7000bb 13.6%,#8000a9 15.9%,#9b0087 18.2%,#bf0051 20.5%,#e10021 22.7%,#fb0004 25.0%,#ff0000 27.3%,#fd0002 29.5%,#e8001a 31.8%,#bc0055 34.1%,#900097 36.4%,#7400b6 38.6%,#5300dd 40.9%,#2908fd 43.2%,#241aff 45.5%,#2526ff 47.7%,#262aff 50.0%,#2526ff 52.3%,#241aff 54.5%,#2908fd 56.8%,#5300dd 59.1%,#7400b6 61.4%,#900097 63.6%,#bc0055 65.9%,#e8001a 68.2%,#fd0002 70.5%,#ff0000 72.7%,#fb0004 75.0%,#e10021 77.3%,#bf0051 79.5%,#9b0087 81.8%,#8000a9 84.1%,#7000bb 86.4%,#6200cb 88.6%,#4000f5 90.9%,#230dff 93.2%,#251fff 95.5%,#262bff 97.7%,#2730ff 100.0%)"></i><i style="background:linear-gradient(90deg,#2a37ff 0.0%,#2831ff 2.3%,#2523ff 4.5%,#2410ff 6.8%,#3b02f7 9.1%,#5e00cf 11.4%,#6d00be 13.6%,#7b00ae 15.9%,#950090 18.2%,#b9005a 20.5%,#db0028 22.7%,#fa0005 25.0%,#ff0000 27.3%,#fe0001 29.5%,#ed0014 31.8%,#c1004e 34.1%,#940091 36.4%,#7600b4 38.6%,#5c00d2 40.9%,#3404f9 43.2%,#2412ff 45.5%,#251eff 47.7%,#2522ff 50.0%,#251eff 52.3%,#2412ff 54.5%,#3404f9 56.8%,#5c00d2 59.1%,#7600b4 61.4%,#940091 63.6%,#c1004e 65.9%,#ed0014 68.2%,#fe0001 70.5%,#ff0000 72.7%,#fa0005 75.0%,#db0028 77.3%,#b9005a 79.5%,#950090 81.8%,#7b00ae 84.1%,#6d00be 86.4%,#5e00cf 88.6%,#3b02f7 90.9%,#2410ff 93.2%,#2523ff 95.5%,#2831ff 97.7%,#2a37ff 100.0%)"></i><i style="background:linear-gradient(90deg,#2d3dff 0.0%,#2a37ff 2.3%,#2627ff 4.5%,#2414ff 6.8%,#3703f8 9.1%,#5b00d4 11.4%,#6b00c0 13.6%,#7700b3 15.9%,#8e0099 18.2%,#b10066 20.5%,#d5002f 22.7%,#f70008 25.0%,#fe0001 27.3%,#fe0001 29.5%,#f1000f 31.8%,#c60047 34.1%,#99008b 36.4%,#7800b1 38.6%,#6300c9 40.9%,#3e01f6 43.2%,#230bff 45.5%,#2416ff 47.7%,#241bff 50.0%,#2416ff 52.3%,#230bff 54.5%,#3e01f6 56.8%,#6300c9 59.1%,#7800b1 61.4%,#99008b 63.6%,#c60047 65.9%,#f1000f 68.2%,#fe0001 70.5%,#fe0001 72.7%,#f70008 75.0%,#d5002f 77.3%,#b10066 79.5%,#8e0099 81.8%,#7700b3 84.1%,#6b00c0 86.4%,#5b00d4 88.6%,#3703f8 90.9%,#2414ff 93.2%,#2627ff 95.5%,#2a37ff 97.7%,#2d3dff 100.0%)"></i><i style="background:linear-gradient(90deg,#2f43ff 0.0%,#2d3dff 2.3%,#262bff 4.5%,#2417ff 6.8%,#3205fa 9.1%,#5800d8 11.4%,#6a00c2 13.6%,#7300b7 15.9%,#8800a0 18.2%,#aa0071 20.5%,#cf0038 22.7%,#f3000d 25.0%,#fe0001 27.3%,#ff0000 29.5%,#f6000a 31.8%,#cb003f 34.1%,#9d0084 36.4%,#7b00ae 38.6%,#6900c3 40.9%,#4900ea 43.2%,#2e06fb 45.5%,#230fff 47.7%,#2412ff 50.0%,#230fff 52.3%,#2e06fb 54.5%,#4900ea 56.8%,#6900c3 59.1%,#7b00ae 61.4%,#9d0084 63.6%,#cb003f 65.9%,#f6000a 68.2%,#ff0000 70.5%,#fe0001 72.7%,#f3000d 75.0%,#cf0038 77.3%,#aa0071 79.5%,#8800a0 81.8%,#7300b7 84.1%,#6a00c2 86.4%,#5800d8 88.6%,#3205fa 90.9%,#2417ff 93.2%,#262bff 95.5%,#2d3dff 97.7%,#2f43ff 100.0%)"></i><i style="background:linear-gradient(90deg,#3148ff 0.0%,#2f42ff 2.3%,#2730ff 4.5%,#241bff 6.8%,#2e06fb 9.1%,#5400dc 11.4%,#6800c3 13.6%,#7000ba 15.9%,#8300a5 18.2%,#a3007b 20.5%,#c90041 22.7%,#ee0013 25.0%,#fd0002 27.3%,#ff0000 29.5%,#fa0005 31.8%,#d00037 34.1%,#a2007c 36.4%,#7e00ab 38.6%,#6c00bf 40.9%,#5400dd 43.2%,#3903f8 45.5%,#2808fd 47.7%,#230aff 50.0%,#2808fd 52.3%,#3903f8 54.5%,#5400dd 56.8%,#6c00bf 59.1%,#7e00ab 61.4%,#a2007c 63.6%,#d00037 65.9%,#fa0005 68.2%,#ff0000 70.5%,#fd0002 72.7%,#ee0013 75.0%,#c90041 77.3%,#a3007b 79.5%,#8300a5 81.8%,#7000ba 84.1%,#6800c3 86.4%,#5400dc 88.6%,#2e06fb 90.9%,#241bff 93.2%,#2730ff 95.5%,#2f42ff 97.7%,#3148ff 100.0%)"></i><i style="background:linear-gradient(90deg,#334cff 0.0%,#3146ff 2.3%,#2935ff 4.5%,#251eff 6.8%,#2a08fd 9.1%,#5100e0 11.4%,#6700c4 13.6%,#6e00bd 15.9%,#7e00ab 18.2%,#9c0085 20.5%,#c3004a 22.7%,#e90019 25.0%,#fd0002 27.3%,#ff0000 29.5%,#fb0004 31.8%,#d50030 34.1%,#a80074 36.4%,#8100a7 38.6%,#6e00bd 40.9%,#5c00d2 43.2%,#4500f0 45.5%,#3504f9 47.7%,#3006fb 50.0%,#3504f9 52.3%,#4500f0 54.5%,#5c00d2 56.8%,#6e00bd 59.1%,#8100a7 61.4%,#a80074 63.6%,#d50030 65.9%,#fb0004 68.2%,#ff0000 70.5%,#fd0002 72.7%,#e90019 75.0%,#c3004a 77.3%,#9c0085 79.5%,#7e00ab 81.8%,#6e00bd 84.1%,#6700c4 86.4%,#5100e0 88.6%,#2a08fd 90.9%,#251eff 93.2%,#2935ff 95.5%,#3146ff 97.7%,#334cff 100.0%)"></i><i style="background:linear-gradient(90deg,#3550ff 0.0%,#334aff 2.3%,#2b39ff 4.5%,#2521ff 6.8%,#2609fe 9.1%,#4e00e4 11.4%,#6600c5 13.6%,#6c00bf 15.9%,#7a00af 18.2%,#96008e 20.5%,#be0053 22.7%,#e3001f 25.0%,#fc0003 27.3%,#ff0000 29.5%,#fc0003 31.8%,#da0029 34.1%,#ad006c 36.4%,#8500a3 38.6%,#6f00bc 40.9%,#6300c9 43.2%,#5200df 45.5%,#4200f4 47.7%,#3d01f6 50.0%,#4200f4 52.3%,#5200df 54.5%,#6300c9 56.8%,#6f00bc 59.1%,#8500a3 61.4%,#ad006c 63.6%,#da0029 65.9%,#fc0003 68.2%,#ff0000 70.5%,#fc0003 72.7%,#e3001f 75.0%,#be0053 77.3%,#96008e 79.5%,#7a00af 81.8%,#6c00bf 84.1%,#6600c5 86.4%,#4e00e4 88.6%,#2609fe 90.9%,#2521ff 93.2%,#2b39ff 95.5%,#334aff 97.7%,#3550ff 100.0%)"></i><i style="background:linear-gradient(90deg,#3652ff 0.0%,#344eff 2.3%,#2d3dff 4.5%,#2523ff 6.8%,#230aff 9.1%,#4c00e7 11.4%,#6600c6 13.6%,#6a00c1 15.9%,#7700b3 18.2%,#910096 20.5%,#b8005c 22.7%,#de0025 25.0%,#fb0004 27.3%,#ff0000 29.5%,#fc0003 31.8%,#df0023 34.1%,#b30063 36.4%,#89009f 38.6%,#7100ba 40.9%,#6800c3 43.2%,#5d00d1 45.5%,#5000e1 47.7%,#4b00e8 50.0%,#5000e1 52.3%,#5d00d1 54.5%,#6800c3 56.8%,#7100ba 59.1%,#89009f 61.4%,#b30063 63.6%,#df0023 65.9%,#fc0003 68.2%,#ff0000 70.5%,#fb0004 72.7%,#de0025 75.0%,#b8005c 77.3%,#910096 79.5%,#7700b3 81.8%,#6a00c1 84.1%,#6600c6 86.4%,#4c00e7 88.6%,#230aff 90.9%,#2523ff 93.2%,#2d3dff 95.5%,#344eff 97.7%,#3652ff 100.0%)"></i><i style="background:linear-gradient(90deg,#3754ff 0.0%,#3551ff 2.3%,#2e41ff 4.5%,#2526ff 6.8%,#230cff 9.1%,#4900eb 11.4%,#6500c7 13.6%,#6900c2 15.9%,#7400b7 18.2%,#8b009c 20.5%,#b10066 22.7%,#d9002b 25.0%,#fb0004 27.3%,#ff0000 29.5%,#fd0002 31.8%,#e4001e 34.1%,#b9005a 36.4%,#8d009b 38.6%,#7300b8 40.9%,#6b00c1 43.2%,#6700c5 45.5%,#5d00d1 47.7%,#5900d6 50.0%,#5d00d1 52.3%,#6700c5 54.5%,#6b00c1 56.8%,#7300b8 59.1%,#8d009b 61.4%,#b9005a 63.6%,#e4001e 65.9%,#fd0002 68.2%,#ff0000 70.5%,#fb0004 72.7%,#d9002b 75.0%,#b10066 77.3%,#8b009c 79.5%,#7400b7 81.8%,#6900c2 84.1%,#6500c7 86.4%,#4900eb 88.6%,#230cff 90.9%,#2526ff 93.2%,#2e41ff 95.5%,#3551ff 97.7%,#3754ff 100.0%)"></i><i style="background:linear-gradient(90deg,#3755ff 0.0%,#3653ff 2.3%,#3044ff 4.5%,#2628ff 6.8%,#230eff 9.1%,#4700ee 11.4%,#6400c8 13.6%,#6800c3 15.9%,#7100b9 18.2%,#8600a2 20.5%,#aa0070 22.7%,#d30033 25.0%,#f80007 27.3%,#ff0000 29.5%,#fe0001 31.8%,#e90018 34.1%,#be0053 36.4%,#910096 38.6%,#7500b6 40.9%,#6d00be 43.2%,#6e00bd 45.5%,#6900c3 47.7%,#6600c6 50.0%,#6900c3 52.3%,#6e00bd 54.5%,#6d00be 56.8%,#7500b6 59.1%,#910096 61.4%,#be0053 63.6%,#e90018 65.9%,#fe0001 68.2%,#ff0000 70.5%,#f80007 72.7%,#d30033 75.0%,#aa0070 77.3%,#8600a2 79.5%,#7100b9 81.8%,#6800c3 84.1%,#6400c8 86.4%,#4700ee 88.6%,#230eff 90.9%,#2628ff 93.2%,#3044ff 95.5%,#3653ff 97.7%,#3755ff 100.0%)"></i><i style="background:linear-gradient(90deg,#3755ff 0.0%,#3754ff 2.3%,#3146ff 4.5%,#262aff 6.8%,#230fff 9.1%,#4500f0 11.4%,#6300c9 13.6%,#6700c4 15.9%,#6f00bc 18.2%,#8200a7 20.5%,#a4007a 22.7%,#cd003b 25.0%,#f4000c 27.3%,#fe0001 29.5%,#fe0001 31.8%,#ee0013 34.1%,#c3004b 36.4%,#96008f 38.6%,#7700b3 40.9%,#7000bb 43.2%,#7300b7 45.5%,#7300b8 47.7%,#7100b9 50.0%,#7300b8 52.3%,#7300b7 54.5%,#7000bb 56.8%,#7700b3 59.1%,#96008f 61.4%,#c3004b 63.6%,#ee0013 65.9%,#fe0001 68.2%,#fe0001 70.5%,#f4000c 72.7%,#cd003b 75.0%,#a4007a 77.3%,#8200a7 79.5%,#6f00bc 81.8%,#6700c4 84.1%,#6300c9 86.4%,#4500f0 88.6%,#230fff 90.9%,#262aff 93.2%,#3146ff 95.5%,#3754ff 97.7%,#3755ff 100.0%)"></i><i style="background:linear-gradient(90deg,#3755ff 0.0%,#3755ff 2.3%,#3248ff 4.5%,#262bff 6.8%,#2410ff 9.1%,#4300f2 11.4%,#6300ca 13.6%,#6700c5 15.9%,#6d00be 18.2%,#7e00ab 20.5%,#9e0082 22.7%,#c80044 25.0%,#ef0011 27.3%,#fe0001 29.5%,#fe0001 31.8%,#f3000d 34.1%,#c80044 36.4%,#9a0088 38.6%,#7900b0 40.9%,#7400b7 43.2%,#7700b2 45.5%,#7a00b0 47.7%,#7a00af 50.0%,#7a00b0 52.3%,#7700b2 54.5%,#7400b7 56.8%,#7900b0 59.1%,#9a0088 61.4%,#c80044 63.6%,#f3000d 65.9%,#fe0001 68.2%,#fe0001 70.5%,#ef0011 72.7%,#c80044 75.0%,#9e0082 77.3%,#7e00ab 79.5%,#6d00be 81.8%,#6700c5 84.1%,#6300ca 86.4%,#4300f2 88.6%,#2410ff 90.9%,#262bff 93.2%,#3248ff 95.5%,#3755ff 97.7%,#3755ff 100.0%)"></i><i style="background:linear-gradient(90deg,#3755ff 0.0%,#3755ff 2.3%,#324aff 4.5%,#262dff 6.8%,#2411ff 9.1%,#4200f4 11.4%,#6200ca 13.6%,#6600c6 15.9%,#6c00c0 18.2%,#7a00af 20.5%,#99008b 22.7%,#c3004c 25.0%,#eb0017 27.3%,#fd0002 29.5%,#ff0000 31.8%,#f70008 34.1%,#cd003c 36.4%,#9f0081 38.6%,#7c00ad 40.9%,#7800b2 43.2%,#7d00ac 45.5%,#8000a9 47.7%,#8200a7 50.0%,#8000a9 52.3%,#7d00ac 54.5%,#7800b2 56.8%,#7c00ad 59.1%,#9f0081 61.4%,#cd003c 63.6%,#f70008 65.9%,#ff0000 68.2%,#fd0002 70.5%,#eb0017 72.7%,#c3004c 75.0%,#99008b 77.3%,#7a00af 79.5%,#6c00c0 81.8%,#6600c6 84.1%,#6200ca 86.4%,#4200f4 88.6%,#2411ff 90.9%,#262dff 93.2%,#324aff 95.5%,#3755ff 97.7%,#3755ff 100.0%)"></i><i style="background:linear-gradient(90deg,#3755ff 0.0%,#3755ff 2.3%,#334bff 4.5%,#262eff 6.8%,#2412ff 9.1%,#4100f5 11.4%,#6200cb 13.6%,#6600c6 15.9%,#6a00c1 18.2%,#7700b3 20.5%,#940092 22.7%,#bd0053 25.0%,#e6001c 27.3%,#fd0002 29.5%,#ff0000 31.8%,#fa0005 34.1%,#d20035 36.4%,#a40079 38.6%,#7f00aa 40.9%,#7d00ac 43.2%,#8300a5 45.5%,#8800a0 47.7%,#89009f 50.0%,#8800a0 52.3%,#8300a5 54.5%,#7d00ac 56.8%,#7f00aa 59.1%,#a40079 61.4%,#d20035 63.6%,#fa0005 65.9%,#ff0000 68.2%,#fd0002 70.5%,#e6001c 72.7%,#bd0053 75.0%,#940092 77.3%,#7700b3 79.5%,#6a00c1 81.8%,#6600c6 84.1%,#6200cb 86.4%,#4100f5 88.6%,#2412ff 90.9%,#262eff 93.2%,#334bff 95.5%,#3755ff 97.7%,#3755ff 100.0%)"></i><i style="background:linear-gradient(90deg,#3755ff 0.0%,#3755ff 2.3%,#334cff 4.5%,#272fff 6.8%,#2413ff 9.1%,#4000f5 11.4%,#6200cb 13.6%,#6500c7 15.9%,#6900c2 18.2%,#7500b5 20.5%,#8f0098 22.7%,#b8005b 25.0%,#e10022 27.3%,#fc0003 29.5%,#ff0000 31.8%,#fb0004 34.1%,#d7002d 36.4%,#a90071 38.6%,#8300a6 40.9%,#8300a5 43.2%,#8b009d 45.5%,#900097 47.7%,#920094 50.0%,#900097 52.3%,#8b009d 54.5%,#8300a5 56.8%,#8300a6 59.1%,#a90071 61.4%,#d7002d 63.6%,#fb0004 65.9%,#ff0000 68.2%,#fc0003 70.5%,#e10022 72.7%,#b8005b 75.0%,#8f0098 77.3%,#7500b5 79.5%,#6900c2 81.8%,#6500c7 84.1%,#6200cb 86.4%,#4000f5 88.6%,#2413ff 90.9%,#272fff 93.2%,#334cff 95.5%,#3755ff 97.7%,#3755ff 100.0%)"></i><i style="background:linear-gradient(90deg,#3755ff 0.0%,#3755ff 2.3%,#334cff 4.5%,#272fff 6.8%,#2413ff 9.1%,#4000f5 11.4%,#6200cb 13.6%,#6500c7 15.9%,#6800c3 18.2%,#7200b8 20.5%,#8a009e 22.7%,#b20065 25.0%,#dc0028 27.3%,#fb0004 29.5%,#ff0000 31.8%,#fc0003 34.1%,#dc0027 36.4%,#af0069 38.6%,#8600a2 40.9%,#8a009d 43.2%,#930093 45.5%,#99008a 47.7%,#9b0087 50.0%,#99008a 52.3%,#930093 54.5%,#8a009d 56.8%,#8600a2 59.1%,#af0069 61.4%,#dc0027 63.6%,#fc0003 65.9%,#ff0000 68.2%,#fb0004 70.5%,#dc0028 72.7%,#b20065 75.0%,#8a009e 77.3%,#7200b8 79.5%,#6800c3 81.8%,#6500c7 84.1%,#6200cb 86.4%,#4000f5 88.6%,#2413ff 90.9%,#272fff 93.2%,#334cff 95.5%,#3755ff 97.7%,#3755ff 100.0%)"></i><i style="background:linear-gradient(90deg,#3755ff 0.0%,#3755ff 2.3%,#334cff 4.5%,#272fff 6.8%,#2413ff 9.1%,#4000f5 11.4%,#6100cb 13.6%,#6500c7 15.9%,#6800c4 18.2%,#7000ba 20.5%,#8600a2 22.7%,#ac006e 25.0%,#d6002e 27.3%,#fb0004 29.5%,#ff0000 31.8%,#fd0002 34.1%,#e10021 36.4%,#b50060 38.6%,#8a009e 40.9%,#920095 43.2%,#9c0086 45.5%,#a3007c 47.7%,#a50078 50.0%,#a3007c 52.3%,#9c0086 54.5%,#920095 56.8%,#8a009e 59.1%,#b50060 61.4%,#e10021 63.6%,#fd0002 65.9%,#ff0000 68.2%,#fb0004 70.5%,#d6002e 72.7%,#ac006e 75.0%,#8600a2 77.3%,#7000ba 79.5%,#6800c4 81.8%,#6500c7 84.1%,#6100cb 86.4%,#4000f5 88.6%,#2413ff 90.9%,#272fff 93.2%,#334cff 95.5%,#3755ff 97.7%,#3755ff 100.0%)"></i><i style="background:linear-gradient(90deg,#3755ff 0.0%,#3755ff 2.3%,#334cff 4.5%,#272fff 6.8%,#2413ff 9.1%,#4000f5 11.4%,#6200cb 13.6%,#6500c7 15.9%,#6700c5 18.2%,#6f00bc 20.5%,#8200a7 22.7%,#a60076 25.0%,#d10036 27.3%,#f90006 29.5%,#ff0000 31.8%,#fd0002 34.1%,#e6001c 36.4%,#bb0057 38.6%,#8e0099 40.9%,#99008a 43.2%,#a50078 45.5%,#ad006c 47.7%,#b00068 50.0%,#ad006c 52.3%,#a50078 54.5%,#99008a 56.8%,#8e0099 59.1%,#bb0057 61.4%,#e6001c 63.6%,#fd0002 65.9%,#ff0000 68.2%,#f90006 70.5%,#d10036 72.7%,#a60076 75.0%,#8200a7 77.3%,#6f00bc 79.5%,#6700c5 81.8%,#6500c7 84.1%,#6200cb 86.4%,#4000f5 88.6%,#2413ff 90.9%,#272fff 93.2%,#334cff 95.5%,#3755ff 97.7%,#3755ff 100.0%)"></i><i style="background:linear-gradient(90deg,#3755ff 0.0%,#3755ff 2.3%,#334bff 4.5%,#262eff 6.8%,#2412ff 9.1%,#4100f5 11.4%,#6200cb 13.6%,#6500c7 15.9%,#6600c5 18.2%,#6d00be 20.5%,#7f00ab 22.7%,#a1007f 25.0%,#cc003d 27.3%,#f4000b 29.5%,#fe0001 31.8%,#fe0001 34.1%,#eb0016 36.4%,#bf0050 38.6%,#930093 40.9%,#a1007e 43.2%,#ae006a 45.5%,#b8005c 47.7%,#bb0057 50.0%,#b8005c 52.3%,#ae006a 54.5%,#a1007e 56.8%,#930093 59.1%,#bf0050 61.4%,#eb0016 63.6%,#fe0001 65.9%,#fe0001 68.2%,#f4000b 70.5%,#cc003d 72.7%,#a1007f 75.0%,#7f00ab 77.3%,#6d00be 79.5%,#6600c5 81.8%,#6500c7 84.1%,#6200cb 86.4%,#4100f5 88.6%,#2412ff 90.9%,#262eff 93.2%,#334bff 95.5%,#3755ff 97.7%,#3755ff 100.0%)"></i><i style="background:linear-gradient(90deg,#3755ff 0.0%,#3755ff 2.3%,#324aff 4.5%,#262dff 6.8%,#2411ff 9.1%,#4200f4 11.4%,#6200cb 13.6%,#6400c8 15.9%,#6600c6 18.2%,#6c00bf 20.5%,#7b00ae 22.7%,#9c0086 25.0%,#c70045 27.3%,#f00010 29.5%,#fe0001 31.8%,#fe0001 34.1%,#f00011 36.4%,#c40049 38.6%,#99008b 40.9%,#a90072 43.2%,#b8005b 45.5%,#c1004f 47.7%,#c4004a 50.0%,#c1004f 52.3%,#b8005b 54.5%,#a90072 56.8%,#99008b 59.1%,#c40049 61.4%,#f00011 63.6%,#fe0001 65.9%,#fe0001 68.2%,#f00010 70.5%,#c70045 72.7%,#9c0086 75.0%,#7b00ae 77.3%,#6c00bf 79.5%,#6600c6 81.8%,#6400c8 84.1%,#6200cb 86.4%,#4200f4 88.6%,#2411ff 90.9%,#262dff 93.2%,#324aff 95.5%,#3755ff 97.7%,#3755ff 100.0%)"></i><i style="background:linear-gradient(90deg,#3755ff 0.0%,#3755ff 2.3%,#3248ff 4.5%,#262bff 6.8%,#2410ff 9.1%,#4300f2 11.4%,#6200ca 13.6%,#6400c8 15.9%,#6600c6 18.2%,#6b00c1 20.5%,#7900b1 22.7%,#97008d 25.0%,#c2004d 27.3%,#eb0016 29.5%,#fe0001 31.8%,#ff0000 34.1%,#f4000c 36.4%,#c90041 38.6%,#9e0082 40.9%,#b10066 43.2%,#c00050 45.5%,#c90042 47.7%,#cc003d 50.0%,#c90042 52.3%,#c00050 54.5%,#b10066 56.8%,#9e0082 59.1%,#c90041 61.4%,#f4000c 63.6%,#ff0000 65.9%,#fe0001 68.2%,#eb0016 70.5%,#c2004d 72.7%,#97008d 75.0%,#7900b1 77.3%,#6b00c1 79.5%,#6600c6 81.8%,#6400c8 84.1%,#6200ca 86.4%,#4300f2 88.6%,#2410ff 90.9%,#262bff 93.2%,#3248ff 95.5%,#3755ff 97.7%,#3755ff 100.0%)"></i><i style="background:linear-gradient(90deg,#3755ff 0.0%,#3754ff 2.3%,#3146ff 4.5%,#262aff 6.8%,#230fff 9.1%,#4500f0 11.4%,#6300ca 13.6%,#6400c8 15.9%,#6500c6 18.2%,#6a00c2 20.5%,#7600b4 22.7%,#920094 25.0%,#bd0054 27.3%,#e7001b 29.5%,#fd0002 31.8%,#ff0000 34.1%,#f90007 36.4%,#ce003a 38.6%,#a4007a 40.9%,#b8005b 43.2%,#c70045 45.5%,#d10036 47.7%,#d50031 50.0%,#d10036 52.3%,#c70045 54.5%,#b8005b 56.8%,#a4007a 59.1%,#ce003a 61.4%,#f90007 63.6%,#ff0000 65.9%,#fd0002 68.2%,#e7001b 70.5%,#bd0054 72.7%,#920094 75.0%,#7600b4 77.3%,#6a00c2 79.5%,#6500c6 81.8%,#6400c8 84.1%,#6300ca 86.4%,#4500f0 88.6%,#230fff 90.9%,#262aff 93.2%,#3146ff 95.5%,#3754ff 97.7%,#3755ff 100.0%)"></i><i style="background:linear-gradient(90deg,#3755ff 0.0%,#3653ff 2.3%,#3044ff 4.5%,#2628ff 6.8%,#230eff 9.1%,#4700ee 11.4%,#6300c9 13.6%,#6400c8 15.9%,#6500c7 18.2%,#6900c3 20.5%,#7400b6 22.7%,#8e0099 25.0%,#b8005b 27.3%,#e20021 29.5%,#fc0003 31.8%,#ff0000 34.1%,#fb0004 36.4%,#d40032 38.6%,#a90072 40.9%,#be0053 43.2%,#cd003c 45.5%,#d8002c 47.7%,#dc0027 50.0%,#d8002c 52.3%,#cd003c 54.5%,#be0053 56.8%,#a90072 59.1%,#d40032 61.4%,#fb0004 63.6%,#ff0000 65.9%,#fc0003 68.2%,#e20021 70.5%,#b8005b 72.7%,#8e0099 75.0%,#7400b6 77.3%,#6900c3 79.5%,#6500c7 81.8%,#6400c8 84.1%,#6300c9 86.4%,#4700ee 88.6%,#230eff 90.9%,#2628ff 93.2%,#3044ff 95.5%,#3653ff 97.7%,#3755ff 100.0%)"></i><i style="background:linear-gradient(90deg,#3754ff 0.0%,#3551ff 2.3%,#2e41ff 4.5%,#2526ff 6.8%,#230cff 9.1%,#4900eb 11.4%,#6300c9 13.6%,#6400c8 15.9%,#6500c7 18.2%,#6800c4 20.5%,#7200b9 22.7%,#8a009e 25.0%,#b20064 27.3%,#dd0026 29.5%,#fc0003 31.8%,#ff0000 34.1%,#fb0004 36.4%,#d9002b 38.6%,#ad006b 40.9%,#c2004c 43.2%,#d30033 45.5%,#de0025 47.7%,#e20020 50.0%,#de0025 52.3%,#d30033 54.5%,#c2004c 56.8%,#ad006b 59.1%,#d9002b 61.4%,#fb0004 63.6%,#ff0000 65.9%,#fc0003 68.2%,#dd0026 70.5%,#b20064 72.7%,#8a009e 75.0%,#7200b9 77.3%,#6800c4 79.5%,#6500c7 81.8%,#6400c8 84.1%,#6300c9 86.4%,#4900eb 88.6%,#230cff 90.9%,#2526ff 93.2%,#2e41ff 95.5%,#3551ff 97.7%,#3754ff 100.0%)"></i><i style="background:linear-gradient(90deg,#3652ff 0.0%,#344eff 2.3%,#2d3dff 4.5%,#2523ff 6.8%,#230aff 9.1%,#4b00e8 11.4%,#6400c8 13.6%,#6400c8 15.9%,#6500c7 18.2%,#6700c4 20.5%,#7000bb 22.7%,#8600a2 25.0%,#ad006d 27.3%,#d8002c 29.5%,#fb0004 31.8%,#ff0000 34.1%,#fc0003 36.4%,#de0025 38.6%,#b10066 40.9%,#c60047 43.2%,#d7002d 45.5%,#e3001f 47.7%,#e7001a 50.0%,#e3001f 52.3%,#d7002d 54.5%,#c60047 56.8%,#b10066 59.1%,#de0025 61.4%,#fc0003 63.6%,#ff0000 65.9%,#fb0004 68.2%,#d8002c 70.5%,#ad006d 72.7%,#8600a2 75.0%,#7000bb 77.3%,#6700c4 79.5%,#6500c7 81.8%,#6400c8 84.1%,#6400c8 86.4%,#4b00e8 88.6%,#230aff 90.9%,#2523ff 93.2%,#2d3dff 95.5%,#344eff 97.7%,#3652ff 100.0%)"></i><i style="background:linear-gradient(90deg,#3550ff 0.0%,#334bff 2.3%,#2b39ff 4.5%,#2521ff 6.8%,#2609fe 9.1%,#4e00e5 11.4%,#6400c8 13.6%,#6400c8 15.9%,#6500c7 18.2%,#6700c5 20.5%,#6e00bc 22.7%,#8200a6 25.0%,#a70075 27.3%,#d30033 29.5%,#fa0005 31.8%,#ff0000 34.1%,#fd0002 36.4%,#e30020 38.6%,#b7005d 40.9%,#c80043 43.2%,#da002a 45.5%,#e6001b 47.7%,#eb0016 50.0%,#e6001b 52.3%,#da002a 54.5%,#c80043 56.8%,#b7005d 59.1%,#e30020 61.4%,#fd0002 63.6%,#ff0000 65.9%,#fa0005 68.2%,#d30033 70.5%,#a70075 72.7%,#8200a6 75.0%,#6e00bc 77.3%,#6700c5 79.5%,#6500c7 81.8%,#6400c8 84.1%,#6400c8 86.4%,#4e00e5 88.6%,#2609fe 90.9%,#2521ff 93.2%,#2b39ff 95.5%,#334bff 97.7%,#3550ff 100.0%)"></i><i style="background:linear-gradient(90deg,#334cff 0.0%,#3147ff 2.3%,#2935ff 4.5%,#251eff 6.8%,#2a08fd 9.1%,#5000e1 11.4%,#6400c8 13.6%,#6400c8 15.9%,#6500c7 18.2%,#6600c5 20.5%,#6d00be 22.7%,#7f00aa 25.0%,#a2007d 27.3%,#ce003b 29.5%,#f70009 31.8%,#ff0000 34.1%,#fd0002 36.4%,#e8001a 38.6%,#bc0055 40.9%,#c90041 43.2%,#dc0028 45.5%,#e80019 47.7%,#ed0014 50.0%,#e80019 52.3%,#dc0028 54.5%,#c90041 56.8%,#bc0055 59.1%,#e8001a 61.4%,#fd0002 63.6%,#ff0000 65.9%,#f70009 68.2%,#ce003b 70.5%,#a2007d 72.7%,#7f00aa 75.0%,#6d00be 77.3%,#6600c5 79.5%,#6500c7 81.8%,#6400c8 84.1%,#6400c8 86.4%,#5000e1 88.6%,#2a08fd 90.9%,#251eff 93.2%,#2935ff 95.5%,#3147ff 97.7%,#334cff 100.0%)"></i></div>
<div id="cb" style="background:linear-gradient(180deg,#ff0000 0%,#fc0003 5%,#f4000c 10%,#e6001c 15%,#d7002d 20%,#c80044 25%,#b9005a 30%,#a50078 35%,#910096 40%,#7b00af 45%,#6400c8 50%,#4e00e4 55%,#3a02f7 60%,#2a08fd 65%,#2410ff 70%,#241aff 75%,#2523ff 80%,#262dff 85%,#2c3aff 90%,#3148ff 95%,#3755ff 100%)"></div>
<svg width="407" height="757" viewBox="0 0 407 757">
<clipPath id="ca"><rect x="67.5" y="28.3" width="168.5" height="215.6"/></clipPath><g clip-path="url(#ca)"><line x1="67.5" y1="148.0" x2="236.0" y2="148.0" stroke="#8a8a8a" stroke-width="1.1" stroke-dasharray="2.4,2.6"/><path class="ba" d="M67.5,35.0 C68.0,34.9 69.5,34.9 70.5,34.4 C71.5,33.9 72.3,33.5 73.5,32.3 C74.7,31.1 76.8,27.9 77.5,27.0"/><path class="ba" d="M202.1,35.5 C201.4,35.4 199.4,35.2 198.0,34.8 C196.6,34.3 194.8,33.6 193.5,32.8 C192.2,32.0 191.0,31.2 190.0,30.2 C189.0,29.2 187.9,27.5 187.5,27.0"/><path class="ba" d="M89.1,25.5 C89.3,25.9 89.9,27.3 90.3,28.2 C90.7,29.0 91.1,29.8 91.5,30.6 C91.9,31.4 92.3,32.2 92.7,32.9 C93.1,33.7 93.5,34.4 93.9,35.1 C94.3,35.7 94.7,36.4 95.1,37.0 C95.5,37.6 95.9,38.2 96.3,38.8 C96.7,39.3 97.1,39.9 97.5,40.4 C97.9,40.9 98.3,41.3 98.7,41.8 C99.1,42.2 99.5,42.6 99.9,43.0 C100.3,43.4 100.7,43.7 101.1,44.0 C101.5,44.4 101.9,44.6 102.3,44.9 C102.7,45.2 103.1,45.4 103.5,45.6 C103.9,45.8 104.3,46.0 104.7,46.1 C105.1,46.2 105.5,46.4 105.9,46.4 C106.3,46.5 106.7,46.6 107.1,46.6 C107.5,46.6 107.9,46.6 108.3,46.5 C108.7,46.5 109.1,46.3 109.5,46.2 C109.9,46.0 110.3,45.8 110.7,45.5 C111.1,45.2 111.5,44.9 111.9,44.5 C112.3,44.1 112.7,43.6 113.1,43.1 C113.5,42.6 113.9,42.1 114.3,41.5 C114.7,40.9 115.1,40.2 115.5,39.5 C115.9,38.8 116.3,38.0 116.7,37.2 C117.1,36.4 117.5,35.5 117.9,34.6 C118.3,33.6 118.7,32.7 119.1,31.6 C119.5,30.6 119.9,29.4 120.3,28.4 C120.6,27.3 121.1,26.0 121.2,25.5"/><path class="ba" d="M91.1,25.5 C91.3,26.0 91.9,27.4 92.3,28.3 C92.7,29.2 93.1,30.0 93.5,30.9 C93.9,31.7 94.3,32.5 94.7,33.2 C95.1,34.0 95.5,34.7 95.9,35.4 C96.3,36.0 96.7,36.7 97.1,37.3 C97.5,37.9 97.9,38.5 98.3,39.0 C98.7,39.6 99.1,40.1 99.5,40.5 C99.9,41.0 100.3,41.4 100.7,41.8 C101.1,42.2 101.5,42.6 101.9,42.9 C102.3,43.2 102.7,43.5 103.1,43.8 C103.5,44.1 103.9,44.3 104.3,44.5 C104.7,44.6 105.1,44.8 105.5,44.9 C105.9,45.0 106.3,45.1 106.7,45.2 C107.1,45.2 107.5,45.2 107.9,45.2 C108.3,45.1 108.7,45.1 109.1,44.9 C109.5,44.8 109.9,44.6 110.3,44.3 C110.7,44.1 111.1,43.8 111.5,43.4 C111.9,43.1 112.3,42.7 112.7,42.2 C113.1,41.7 113.5,41.2 113.9,40.7 C114.3,40.1 114.7,39.5 115.1,38.8 C115.5,38.1 115.9,37.4 116.3,36.6 C116.7,35.8 117.1,35.0 117.5,34.1 C117.9,33.3 118.3,32.3 118.7,31.3 C119.1,30.3 119.6,29.2 119.9,28.2 C120.3,27.2 120.7,26.0 120.9,25.5"/><path class="ba" d="M96.6,25.5 C96.8,26.1 97.4,28.1 97.8,29.3 C98.2,30.5 98.6,31.6 99.0,32.6 C99.4,33.6 99.8,34.6 100.2,35.5 C100.6,36.4 101.0,37.2 101.4,37.9 C101.8,38.7 102.2,39.4 102.6,40.0 C103.0,40.6 103.4,41.1 103.8,41.5 C104.2,42.0 104.6,42.4 105.0,42.7 C105.4,43.0 105.8,43.2 106.2,43.3 C106.6,43.5 107.0,43.6 107.4,43.6 C107.8,43.6 108.2,43.6 108.6,43.5 C109.0,43.4 109.4,43.2 109.8,43.0 C110.2,42.8 110.6,42.6 111.0,42.3 C111.4,42.0 111.8,41.6 112.2,41.2 C112.6,40.8 113.0,40.4 113.4,39.9 C113.8,39.4 114.2,38.8 114.6,38.2 C115.0,37.6 115.4,36.9 115.8,36.2 C116.2,35.5 116.6,34.8 117.0,33.9 C117.4,33.1 117.8,32.3 118.2,31.4 C118.6,30.4 119.0,29.4 119.4,28.5 C119.8,27.5 120.3,26.0 120.5,25.5"/><path class="ba" d="M94.6,25.5 C94.8,26.0 95.4,27.5 95.8,28.5 C96.2,29.4 96.6,30.3 97.0,31.1 C97.4,32.0 97.8,32.8 98.2,33.5 C98.6,34.3 99.0,35.0 99.4,35.6 C99.8,36.3 100.2,36.9 100.6,37.4 C101.0,38.0 101.4,38.5 101.8,38.9 C102.2,39.4 102.6,39.8 103.0,40.2 C103.4,40.5 103.8,40.8 104.2,41.1 C104.6,41.4 105.0,41.6 105.4,41.8 C105.8,41.9 106.2,42.0 106.6,42.1 C107.0,42.2 107.4,42.2 107.8,42.2 C108.2,42.2 108.6,42.1 109.0,42.0 C109.4,41.8 109.8,41.7 110.2,41.4 C110.6,41.2 111.0,40.9 111.4,40.6 C111.8,40.3 112.2,39.9 112.6,39.5 C113.0,39.1 113.4,38.6 113.8,38.1 C114.2,37.6 114.6,37.0 115.0,36.4 C115.4,35.8 115.8,35.1 116.2,34.4 C116.6,33.6 117.0,32.9 117.4,32.0 C117.8,31.2 118.2,30.4 118.6,29.4 C119.0,28.5 119.5,27.2 119.8,26.5 C120.1,25.9 120.1,25.7 120.2,25.5"/><path class="ba" d="M201.8,41.4 C202.2,41.3 203.2,41.4 204.0,41.0 C204.8,40.6 205.9,39.9 206.8,38.8 C207.7,37.7 208.6,36.6 209.6,34.6 C210.6,32.6 212.4,27.9 213.0,26.5"/><path class="ba" d="M201.8,43.1 C202.2,43.0 203.5,43.1 204.4,42.6 C205.3,42.1 206.4,41.4 207.4,40.2 C208.4,39.0 209.3,37.9 210.4,35.6 C211.5,33.3 213.4,28.0 214.0,26.5"/><path class="ba" d="M201.8,44.9 C202.3,44.8 204.0,44.8 205.0,44.3 C206.0,43.8 207.0,43.0 208.0,41.8 C209.0,40.5 210.0,39.3 211.2,36.8 C212.4,34.2 214.4,28.2 215.0,26.5"/><path class="ba" d="M201.8,46.7 C202.4,46.6 204.4,46.7 205.6,46.1 C206.8,45.5 207.7,44.8 208.8,43.4 C209.9,42.0 210.8,40.8 212.0,38.0 C213.2,35.2 215.5,28.4 216.2,26.5"/><path class="ba" d="M67.5,98.3 C68.1,95.9 69.8,88.7 71.0,84.0 C72.2,79.3 73.6,73.6 75.0,70.0 C76.4,66.4 78.2,64.0 79.5,62.5 C80.8,61.0 81.6,60.9 83.0,61.1 C84.4,61.3 86.0,61.7 88.0,63.5 C90.0,65.3 92.8,69.0 95.0,72.0 C97.2,75.0 98.9,78.6 101.0,81.5 C103.1,84.4 106.4,88.1 107.5,89.4"/><path class="ba" d="M67.5,98.3 C68.2,96.9 70.1,93.0 71.5,90.0 C72.9,87.0 74.7,82.6 76.0,80.0 C77.3,77.4 78.5,75.6 79.5,74.5 C80.5,73.4 81.0,73.1 82.3,73.2 C83.5,73.3 85.0,73.4 87.0,75.0 C89.0,76.6 91.7,80.1 94.0,83.0 C96.3,85.9 98.8,90.0 101.0,92.5 C103.2,95.0 106.4,97.3 107.5,98.3"/><path class="ba" d="M67.5,114.2 C68.1,113.2 69.8,110.7 71.0,108.0 C72.2,105.3 73.8,100.8 75.0,98.0 C76.2,95.2 77.4,92.9 78.5,91.5 C79.6,90.1 80.5,89.7 81.7,89.4 C83.0,89.2 84.3,89.5 86.0,90.0 C87.7,90.5 90.0,91.8 92.0,92.3 C94.0,92.8 96.2,93.1 98.0,93.0 C99.8,92.9 101.4,92.1 103.0,91.5 C104.6,90.9 106.8,89.8 107.5,89.4"/><path class="ba" d="M67.5,114.2 C68.2,113.0 70.2,109.8 71.5,107.0 C72.8,104.2 74.2,100.0 75.5,97.5 C76.8,95.0 77.8,93.2 79.0,92.0 C80.2,90.8 81.0,90.3 82.5,90.3 C84.0,90.3 85.9,91.1 88.0,92.0 C90.1,92.9 92.8,94.6 95.0,95.5 C97.2,96.4 98.9,97.0 101.0,97.5 C103.1,98.0 106.4,98.2 107.5,98.3"/><path class="ba" d="M107.5,89.4 C108.4,88.9 111.1,87.5 113.0,86.5 C114.9,85.5 116.9,84.0 119.0,83.2 C121.1,82.4 122.8,81.6 125.5,81.4 C128.2,81.2 133.4,81.9 135.0,82.0"/><path class="ba" d="M107.5,89.4 C108.8,89.8 112.1,90.7 115.0,91.5 C117.9,92.3 121.7,93.4 125.0,94.2 C128.3,95.0 133.3,95.8 135.0,96.1"/><path class="ba" d="M107.5,98.3 C108.4,97.7 111.1,96.1 113.0,94.5 C114.9,92.9 116.8,90.3 119.0,88.5 C121.2,86.7 123.3,84.6 126.0,83.5 C128.7,82.4 133.5,82.2 135.0,82.0"/><path class="ba" d="M107.5,98.3 C108.8,98.3 112.1,98.8 115.0,98.6 C117.9,98.4 121.7,97.8 125.0,97.4 C128.3,97.0 133.3,96.3 135.0,96.1"/><path class="ba" d="M135.0,82.0 C136.2,81.8 139.7,81.3 142.0,80.5 C144.3,79.7 146.7,78.1 149.0,77.0 C151.3,75.9 153.8,74.0 155.6,73.7 C157.4,73.5 158.6,73.8 160.0,75.5 C161.4,77.2 162.7,80.4 164.0,84.0 C165.3,87.6 166.8,93.2 168.0,97.0 C169.2,100.8 170.4,104.1 171.5,106.5 C172.6,108.9 174.0,110.5 174.5,111.3"/><path class="ba" d="M135.0,96.1 C136.2,95.7 139.7,94.7 142.0,93.5 C144.3,92.3 146.8,90.4 149.0,89.0 C151.2,87.6 153.7,85.4 155.5,85.0 C157.3,84.6 158.6,85.0 160.0,86.5 C161.4,88.0 162.7,91.2 164.0,94.0 C165.3,96.8 166.8,100.6 168.0,103.0 C169.2,105.4 170.4,107.1 171.5,108.5 C172.6,109.9 174.0,110.8 174.5,111.3"/><path class="ba" d="M174.5,111.3 C175.6,110.7 178.8,108.8 181.0,107.5 C183.2,106.2 185.7,104.8 188.0,103.5 C190.3,102.2 192.7,100.8 195.0,100.0 C197.3,99.2 200.9,98.7 202.1,98.4"/><path class="ba" d="M174.5,111.3 C175.4,111.1 178.2,110.6 180.0,110.3 C181.8,110.0 183.3,109.7 185.0,109.6 C186.7,109.5 188.2,109.4 190.0,109.8 C191.8,110.2 194.0,111.1 196.0,111.8 C198.0,112.5 201.1,113.7 202.1,114.1"/><path class="ba" d="M202.1,89.6 C203.1,88.9 205.8,87.1 208.0,85.5 C210.2,83.9 212.7,81.8 215.0,80.0 C217.3,78.2 219.6,76.3 222.0,75.0 C224.4,73.7 227.1,72.3 229.5,72.2 C231.9,72.1 235.1,74.0 236.2,74.3"/><path class="ba" d="M202.1,89.6 C203.1,89.9 205.8,90.8 208.0,91.5 C210.2,92.2 212.8,92.9 215.0,93.5 C217.2,94.1 219.2,95.0 221.0,95.0 C222.8,95.0 224.3,94.4 226.0,93.5 C227.7,92.6 229.3,90.8 231.0,89.5 C232.7,88.2 235.3,86.5 236.2,85.9"/><path class="ba" d="M202.1,98.4 C203.1,97.7 206.0,95.8 208.0,94.0 C210.0,92.2 212.0,89.6 214.0,87.5 C216.0,85.4 218.0,83.2 220.0,81.5 C222.0,79.8 224.2,78.5 226.0,77.5 C227.8,76.5 229.3,75.8 231.0,75.3 C232.7,74.8 235.3,74.5 236.2,74.3"/><path class="ba" d="M202.1,98.4 C203.2,98.6 206.7,99.4 209.0,99.6 C211.3,99.8 213.8,100.1 216.0,99.8 C218.2,99.5 220.0,98.7 222.0,97.5 C224.0,96.3 225.6,94.4 228.0,92.5 C230.4,90.6 234.8,87.0 236.2,85.9"/><path class="ba" d="M67.6,181.9 C68.0,181.8 69.1,181.1 70.0,181.5 C70.9,181.9 72.0,183.2 73.0,184.5 C74.0,185.8 75.1,187.9 76.0,189.5 C76.9,191.1 77.1,191.8 78.5,194.0 C79.9,196.2 82.0,200.0 84.4,202.7 C86.8,205.4 89.9,207.5 92.7,210.2 C95.5,212.8 98.6,215.9 101.1,218.6 C103.6,221.3 106.5,225.2 107.6,226.5"/><path class="ba" d="M67.6,182.4 C68.0,182.5 69.1,182.3 70.0,183.2 C70.9,184.1 72.0,186.2 73.0,188.0 C74.0,189.8 75.0,192.0 76.0,194.0 C77.0,196.0 77.9,197.8 79.0,200.0 C80.1,202.2 81.1,204.6 82.7,207.0 C84.3,209.4 86.1,212.1 88.5,214.5 C90.9,216.9 94.4,219.2 96.9,221.5 C99.4,223.8 101.8,226.4 103.6,228.3 C105.4,230.2 106.9,232.1 107.6,232.8"/><path class="ba" d="M67.6,191.7 C68.1,191.8 69.4,191.7 70.5,192.3 C71.6,192.9 72.8,194.1 74.0,195.5 C75.2,196.9 76.3,198.8 77.5,201.0 C78.7,203.2 79.6,205.7 81.0,208.5 C82.4,211.3 84.3,215.0 86.0,217.7 C87.7,220.4 89.3,222.6 91.0,224.8 C92.7,227.0 94.7,229.6 96.0,230.8 C97.3,232.0 98.1,231.9 99.0,232.0 C99.9,232.1 100.6,231.7 101.5,231.3 C102.4,230.9 103.4,230.2 104.4,229.4 C105.4,228.6 107.1,227.0 107.6,226.5"/><path class="ba" d="M67.6,191.9 C68.2,192.2 69.8,192.4 71.0,193.5 C72.2,194.6 73.4,196.8 74.5,198.5 C75.6,200.2 76.7,202.1 77.5,204.0 C78.3,205.9 78.3,207.4 79.5,210.0 C80.7,212.6 82.6,216.2 84.4,219.4 C86.2,222.6 88.4,226.6 90.2,229.4 C92.0,232.2 93.5,234.8 95.2,236.1 C96.9,237.3 98.7,237.1 100.2,236.9 C101.7,236.7 103.2,235.5 104.4,234.8 C105.6,234.1 107.1,233.1 107.6,232.8"/><path class="ba" d="M67.6,207.4 C68.2,207.3 69.9,207.0 71.0,207.0 C72.1,207.0 73.0,207.2 74.0,207.5 C75.0,207.8 76.0,208.2 77.0,209.0 C78.0,209.8 79.0,210.0 80.2,212.0 C81.4,214.0 82.7,217.5 84.4,221.1 C86.1,224.7 88.7,230.6 90.2,233.6 C91.7,236.6 92.2,237.2 93.5,239.0 C94.8,240.8 97.0,243.6 97.7,244.5"/><path class="ba" d="M67.6,207.9 C68.1,208.2 69.5,208.7 70.5,209.5 C71.5,210.3 72.6,211.4 73.5,212.5 C74.4,213.6 74.8,213.5 76.0,216.0 C77.2,218.5 79.3,222.9 81.0,227.7 C82.7,232.4 85.2,241.7 86.0,244.5"/><path class="ba" d="M67.6,238.2 C68.2,238.0 69.7,237.5 71.0,237.3 C72.3,237.1 74.2,237.0 75.7,237.1 C77.2,237.2 78.8,237.2 80.2,237.9 C81.7,238.6 83.4,240.0 84.4,241.1 C85.5,242.2 86.2,243.9 86.5,244.5"/><path class="ba" d="M67.6,241.0 C68.0,240.8 69.1,240.0 70.0,240.0 C70.9,240.0 72.0,240.1 73.0,240.8 C74.0,241.6 75.5,243.9 76.0,244.5"/><path class="ba" d="M67.6,239.5 C67.8,239.7 68.4,239.9 69.0,240.5 C69.6,241.1 70.5,242.2 71.0,243.0 C71.5,243.8 71.8,244.7 72.0,245.0"/><path class="ba" d="M107.5,226.3 C108.6,225.8 111.8,224.1 114.0,223.0 C116.2,221.9 118.7,220.5 121.0,219.5 C123.3,218.5 125.7,217.7 128.0,217.0 C130.3,216.3 133.8,215.8 135.0,215.6"/><path class="ba" d="M107.5,226.3 C108.8,226.3 112.1,226.4 115.0,226.2 C117.9,226.0 121.7,225.4 125.0,225.0 C128.3,224.6 133.3,224.2 135.0,224.0"/><path class="ba" d="M107.5,232.8 C108.6,232.2 111.9,230.6 114.0,229.5 C116.1,228.4 118.0,227.3 120.0,226.0 C122.0,224.7 124.3,222.8 126.0,221.5 C127.7,220.2 128.5,219.0 130.0,218.0 C131.5,217.0 134.2,216.0 135.0,215.6"/><path class="ba" d="M107.5,232.8 C108.8,232.5 112.1,231.8 115.0,231.2 C117.9,230.6 121.7,229.7 125.0,229.0 C128.3,228.3 133.3,227.3 135.0,227.0"/><path class="ba" d="M120.6,244.0 C121.2,242.8 122.6,239.2 124.0,237.0 C125.4,234.8 127.2,232.2 129.0,230.5 C130.8,228.8 134.0,227.6 135.0,227.0"/><path class="ba" d="M123.6,244.0 C124.2,242.9 125.8,239.5 127.0,237.5 C128.2,235.5 129.7,233.4 131.0,232.0 C132.3,230.6 134.3,229.5 135.0,229.0"/><path class="ba" d="M135.0,215.6 C136.7,214.8 141.7,212.6 145.0,211.0 C148.3,209.4 151.7,207.8 155.0,206.0 C158.3,204.2 161.8,201.9 165.0,200.5 C168.2,199.1 172.9,198.2 174.5,197.8"/><path class="ba" d="M135.0,224.0 C136.7,222.9 141.7,219.8 145.0,217.5 C148.3,215.2 151.7,212.5 155.0,210.0 C158.3,207.5 161.6,204.4 164.8,202.4 C168.1,200.4 172.9,198.6 174.5,197.8"/><path class="ba" d="M135.0,227.0 C136.7,226.8 141.7,226.5 145.0,226.0 C148.3,225.5 152.0,224.6 155.0,224.0 C158.0,223.4 160.7,222.6 162.9,222.6 C165.1,222.6 166.1,223.0 168.0,223.8 C169.9,224.6 173.4,226.7 174.5,227.3"/><path class="ba" d="M144.0,244.5 C145.0,244.2 147.8,243.6 150.0,242.7 C152.2,241.8 154.5,240.3 157.0,238.8 C159.5,237.3 162.1,235.4 165.0,233.5 C167.9,231.6 172.9,228.3 174.5,227.3"/><path class="ba" d="M174.5,197.8 C175.6,197.2 178.8,195.5 181.0,194.0 C183.2,192.5 185.7,190.6 188.0,189.0 C190.3,187.4 192.7,185.6 195.0,184.5 C197.3,183.4 200.9,182.8 202.1,182.5"/><path class="ba" d="M174.5,197.8 C175.6,197.0 179.1,194.3 181.0,193.2 C182.9,192.1 184.3,191.5 186.0,191.0 C187.7,190.5 189.3,190.3 191.0,190.3 C192.7,190.3 194.2,190.8 196.0,191.0 C197.8,191.2 201.1,191.6 202.1,191.7"/><path class="ba" d="M174.5,227.3 C175.2,226.2 177.0,222.3 178.5,220.5 C180.0,218.7 182.0,217.1 183.4,216.4 C184.8,215.8 185.9,216.5 187.0,216.6 C188.1,216.7 188.7,217.8 190.0,217.2 C191.3,216.6 193.0,214.6 195.0,213.0 C197.0,211.4 200.9,208.4 202.1,207.5"/><path class="ba" d="M174.5,227.3 C175.0,228.4 176.5,231.9 177.5,234.0 C178.5,236.1 179.7,238.7 180.5,240.0 C181.3,241.3 181.8,241.9 182.5,242.0 C183.2,242.1 183.9,242.0 185.0,240.5 C186.1,239.0 187.7,234.8 189.0,233.0 C190.3,231.2 191.4,229.9 192.6,229.7 C193.8,229.4 194.9,230.7 196.0,231.5 C197.1,232.3 198.0,233.5 199.0,234.5 C200.0,235.5 201.6,236.9 202.1,237.4"/><path class="ba" d="M192.0,244.5 C192.8,244.1 195.3,243.0 197.0,242.3 C198.7,241.6 201.2,240.5 202.1,240.2"/><path class="ba" d="M202.1,226.4 C203.1,225.7 205.8,223.6 208.0,222.0 C210.2,220.4 212.5,218.8 215.0,217.0 C217.5,215.2 220.7,212.8 222.8,211.5 C225.0,210.2 225.7,209.8 227.9,209.2 C230.1,208.6 234.8,208.1 236.2,207.9"/><path class="ba" d="M202.1,226.4 C203.3,226.6 207.0,227.6 209.4,227.5 C211.8,227.4 214.2,226.8 216.6,225.9 C219.0,225.0 221.6,223.5 223.8,222.3 C226.0,221.2 227.9,220.0 230.0,219.0 C232.1,218.0 235.2,216.6 236.2,216.1"/><path class="ba" d="M202.1,232.1 C203.5,231.6 207.7,230.3 210.4,229.0 C213.2,227.7 215.8,225.8 218.6,224.4 C221.3,223.0 224.0,221.7 226.9,220.3 C229.8,218.9 234.6,216.8 236.2,216.1"/><path class="ba" d="M202.1,232.1 C203.0,232.6 205.6,234.8 207.3,235.2 C209.0,235.5 211.0,235.1 212.4,234.2 C213.8,233.3 214.9,232.0 216.0,230.0 C217.1,228.0 217.9,224.9 219.0,222.0 C220.1,219.1 221.6,214.5 222.8,212.5 C224.0,210.5 225.5,210.4 226.0,210.0"/><path class="ba" d="M217.1,244.0 C217.9,242.7 220.0,238.8 222.0,236.0 C224.0,233.2 226.6,228.8 229.0,227.0 C231.4,225.2 235.0,225.7 236.2,225.4"/><path class="ba" d="M224.8,244.0 C225.5,242.8 227.6,239.3 229.0,237.0 C230.4,234.7 231.8,231.8 233.0,230.0 C234.2,228.2 235.7,226.6 236.2,225.9"/><path class="ba" d="M226.0,244.0 C226.5,243.4 228.0,241.1 229.0,240.4 C230.0,239.7 230.8,239.9 232.0,239.8 C233.2,239.7 235.5,239.9 236.2,239.9"/><path class="ba" d="M230.0,244.0 C230.5,243.7 232.0,242.4 233.0,242.0 C234.0,241.6 235.7,241.6 236.2,241.5"/><path class="ba" d="M202.1,238.8 C202.8,239.2 204.8,240.1 206.0,241.0 C207.2,241.9 208.5,243.5 209.0,244.0"/></g><line x1="107.5" y1="28.3" x2="107.5" y2="243.9" stroke="#555" stroke-width="1"/><line x1="134.9" y1="28.3" x2="134.9" y2="243.9" stroke="#555" stroke-width="1"/><line x1="174.5" y1="28.3" x2="174.5" y2="243.9" stroke="#555" stroke-width="1"/><line x1="202.0" y1="28.3" x2="202.0" y2="243.9" stroke="#8c8c8c" stroke-width="1.7"/><rect x="67.5" y="28.3" width="168.5" height="215.6" fill="none" stroke="#8e8e8e" stroke-width="1.5"/><line x1="67.5" y1="52.2" x2="69.7" y2="52.2" stroke="#9a9a9a" stroke-width="0.9"/><line x1="236.0" y1="52.2" x2="233.8" y2="52.2" stroke="#9a9a9a" stroke-width="0.9"/><line x1="67.5" y1="100.2" x2="69.7" y2="100.2" stroke="#9a9a9a" stroke-width="0.9"/><line x1="236.0" y1="100.2" x2="233.8" y2="100.2" stroke="#9a9a9a" stroke-width="0.9"/><line x1="67.5" y1="148.2" x2="69.7" y2="148.2" stroke="#9a9a9a" stroke-width="0.9"/><line x1="236.0" y1="148.2" x2="233.8" y2="148.2" stroke="#9a9a9a" stroke-width="0.9"/><line x1="67.5" y1="196.1" x2="69.7" y2="196.1" stroke="#9a9a9a" stroke-width="0.9"/><line x1="236.0" y1="196.1" x2="233.8" y2="196.1" stroke="#9a9a9a" stroke-width="0.9"/>
<line x1="288.8" y1="119" x2="288.8" y2="43" stroke="#8a8a8a" stroke-width="1.8"/><path d="M288.8,38.6 L286.6,44.6 L291,44.6 Z" fill="#222"/><path d="M288.8,58.7 L320.4,27.9 L383.4,27.9 L383.4,87.4 M320.4,27.9 L320.4,87.2" fill="none" stroke="#555" stroke-width="1"/><path class="pu" d="M289.0,70.9 C290.2,69.6 293.5,65.7 296.0,63.0 C298.5,60.3 301.3,57.0 304.0,54.5 C306.7,52.0 309.3,49.8 312.0,48.0 C314.7,46.2 318.9,44.7 320.3,44.0"/><path class="pu" d="M289.0,70.9 C290.5,71.1 294.8,71.5 298.0,72.0 C301.2,72.5 305.2,73.5 308.0,74.2 C310.8,75.0 312.9,75.6 315.0,76.5 C317.1,77.4 319.4,78.9 320.3,79.4"/><path class="pu" d="M289.0,107.2 C290.0,105.3 293.0,99.9 295.0,96.0 C297.0,92.1 299.0,88.3 301.0,84.0 C303.0,79.7 305.0,74.7 307.0,70.0 C309.0,65.3 310.8,60.3 313.0,56.0 C315.2,51.7 319.1,46.0 320.3,44.0"/><path class="pu" d="M289.0,107.2 C290.5,105.8 295.2,101.6 298.0,99.0 C300.8,96.4 303.5,93.8 306.0,91.5 C308.5,89.2 310.6,87.0 313.0,85.0 C315.4,83.0 319.1,80.3 320.3,79.4"/><path class="pu" d="M320.3,43.8 C322.8,43.0 330.1,40.1 335.0,39.2 C339.9,38.3 344.5,38.2 350.0,38.2 C355.5,38.2 362.4,38.7 368.0,39.2 C373.6,39.7 380.8,41.0 383.4,41.4"/><path class="pu" d="M320.3,43.8 C321.9,44.6 326.7,46.5 330.0,48.5 C333.3,50.5 337.0,53.8 340.0,56.0 C343.0,58.2 345.4,59.9 348.2,61.7 C351.0,63.5 353.4,65.0 357.0,67.0 C360.6,69.0 365.6,71.6 370.0,73.5 C374.4,75.4 381.2,77.5 383.4,78.3"/><path class="pu" d="M320.3,79.8 C321.9,79.0 326.7,77.0 330.0,75.0 C333.3,73.0 337.0,69.7 340.0,67.5 C343.0,65.3 345.4,63.5 348.2,61.7 C351.0,59.9 353.4,58.7 357.0,56.5 C360.6,54.3 365.6,51.0 370.0,48.5 C374.4,46.0 381.2,42.6 383.4,41.4"/><path class="pu" d="M320.3,79.8 C322.8,80.4 330.1,82.7 335.0,83.4 C339.9,84.1 344.5,84.2 350.0,84.1 C355.5,84.0 362.4,83.9 368.0,83.0 C373.6,82.1 380.8,79.5 383.4,78.8"/><ellipse cx="320.3" cy="61.8" rx="28.0" ry="13.3" fill="none" stroke="#f7a3c6" stroke-width="2.3"/><path d="M348.3,61.8 L348.3,62.5 L348.2,63.2 L348.0,63.8 L347.7,64.5 L347.4,65.2 L347.0,65.8 L346.5,66.5 L346.0,67.1 L345.3,67.7 L344.7,68.3 L343.9,68.9 L343.1,69.5 L342.3,70.1 L341.3,70.6 L340.4,71.1 L339.3,71.6 L338.2,72.0 L337.1,72.4 L335.9,72.8 L334.7,73.2 L333.5,73.5 L332.2,73.8 L330.9,74.1 L329.5,74.4 L328.1,74.6 L326.7,74.7 L325.3,74.9 L323.9,75.0 L322.5,75.1 L321.0,75.1 L319.6,75.1 L318.2,75.1 L316.7,75.0 L315.3,74.9 L313.9,74.7 L312.5,74.6 L311.1,74.4 L309.8,74.1 L308.4,73.8 L307.2,73.5" fill="none" stroke="#f00" stroke-width="2.8" stroke-linecap="round"/><path d="M288.9,118.9 L320.4,87.2 L383.4,87.4 L352.7,119.2 L288.9,118.9" fill="none" stroke="#4d8ef0" stroke-width="1.4"/><line x1="352.7" y1="119.2" x2="369.5" y2="119.2" stroke="#666" stroke-width="1.3"/><path d="M374,119.2 L368.5,116.8 L368.5,121.6 Z" fill="#222"/><line x1="288.9" y1="118.9" x2="279.8" y2="128" stroke="#222" stroke-width="1"/><path d="M276.6,131.2 L278.2,125.6 L282.4,129.8 Z" fill="#222"/><line x1="279.5" y1="212.3" x2="384.4" y2="212.3" stroke="#a9c9f5" stroke-width="1.4" stroke-dasharray="3.2,3.2"/><line x1="331.8" y1="179.5" x2="331.8" y2="244.7" stroke="#a9c9f5" stroke-width="1.4" stroke-dasharray="3.2,3.2"/><rect x="279.5" y="179.5" width="104.9" height="65.2" fill="none" stroke="#f2819e" stroke-width="1.5"/><line x1="306" y1="179.5" x2="331.8" y2="212.3" stroke="#8b4ef0" stroke-width="1.3" stroke-dasharray="1.7,2.0"/><ellipse cx="331.4" cy="212.6" rx="11.3" ry="13.3" fill="none" stroke="#3cdc14" stroke-width="1.7"/><rect x="322.1" y="200.8" width="4.0" height="4.0" fill="#22d800"/><circle cx="279.5" cy="179.5" r="2.3" fill="#f00"/><circle cx="384.4" cy="179.5" r="2.3" fill="#f00"/><circle cx="279.5" cy="244.7" r="2.3" fill="#f00"/><circle cx="384.4" cy="244.7" r="2.3" fill="#f00"/><circle cx="279.5" cy="212.3" r="2.1" fill="#4a86ee"/><circle cx="306.0" cy="179.5" r="2.1" fill="#4a86ee"/><circle cx="331.8" cy="179.5" r="2.1" fill="#4a86ee"/><circle cx="331.8" cy="212.3" r="2.1" fill="#4a86ee"/><rect x="67.5" y="295.2" width="119.3" height="97.1" fill="none" stroke="#b3bcbc" stroke-width="1.1"/><line x1="67.5" y1="318.2" x2="69.5" y2="318.2" stroke="#b3bcbc" stroke-width="1"/><line x1="186.8" y1="318.2" x2="184.8" y2="318.2" stroke="#b3bcbc" stroke-width="1"/><line x1="67.5" y1="348.0" x2="69.5" y2="348.0" stroke="#b3bcbc" stroke-width="1"/><line x1="186.8" y1="348.0" x2="184.8" y2="348.0" stroke="#b3bcbc" stroke-width="1"/><line x1="67.5" y1="377.5" x2="69.5" y2="377.5" stroke="#b3bcbc" stroke-width="1"/><line x1="186.8" y1="377.5" x2="184.8" y2="377.5" stroke="#b3bcbc" stroke-width="1"/><path class="bd" d="M67.5,359.4 C68.6,359.2 71.6,360.1 74.0,358.0 C76.4,355.9 79.3,352.2 82.0,347.0 C84.7,341.8 87.3,332.9 90.0,327.0 C92.7,321.1 95.4,315.3 98.0,311.5 C100.6,307.7 102.9,305.6 105.5,304.0 C108.1,302.4 110.7,302.1 113.4,302.2 C116.2,302.3 118.9,303.0 122.0,304.5 C125.1,306.0 128.2,308.1 132.0,311.0 C135.8,313.9 140.7,318.3 145.0,322.0 C149.3,325.7 153.5,329.8 158.0,333.0 C162.5,336.2 167.2,339.3 172.0,341.5 C176.8,343.7 184.3,345.6 186.8,346.4"/><path class="bd" d="M67.5,359.4 C68.8,359.2 72.5,359.9 75.0,358.5 C77.5,357.1 79.9,354.4 82.5,351.0 C85.1,347.6 87.8,342.1 90.5,338.0 C93.2,333.9 95.9,329.2 98.5,326.5 C101.1,323.8 103.7,322.5 106.0,321.5 C108.3,320.5 110.2,320.3 112.5,320.5 C114.8,320.7 117.1,321.3 120.0,322.5 C122.9,323.7 126.7,325.4 130.0,327.5 C133.3,329.6 136.3,332.1 140.0,335.0 C143.7,337.9 148.4,342.3 152.0,345.0 C155.6,347.7 158.3,349.2 161.6,351.0 C164.9,352.8 167.8,354.5 172.0,356.0 C176.2,357.5 184.3,359.5 186.8,360.2"/><path class="bd" d="M67.5,383.9 C68.8,383.8 72.2,384.6 75.0,383.0 C77.8,381.4 81.0,378.2 84.0,374.5 C87.0,370.8 90.2,364.9 93.0,361.0 C95.8,357.1 98.3,353.4 100.5,351.0 C102.7,348.6 104.4,347.4 106.0,346.5 C107.6,345.6 108.3,345.6 110.0,345.6 C111.7,345.6 112.7,345.8 116.0,346.3 C119.3,346.8 125.2,348.1 130.0,348.8 C134.8,349.5 139.7,350.1 145.0,350.5 C150.3,350.9 156.8,351.2 161.6,351.0 C166.4,350.8 169.8,350.3 174.0,349.5 C178.2,348.7 184.7,346.9 186.8,346.4"/><path class="bd" d="M67.5,383.9 C68.9,383.8 72.9,384.8 76.0,383.5 C79.1,382.2 82.8,379.5 86.0,376.0 C89.2,372.5 92.7,366.3 95.5,362.5 C98.3,358.7 100.8,355.4 103.0,353.0 C105.2,350.6 107.1,349.1 109.0,348.0 C110.9,346.9 112.5,346.5 114.5,346.6 C116.5,346.7 118.4,347.5 121.0,348.5 C123.6,349.5 126.0,351.2 130.0,352.7 C134.0,354.2 140.0,356.1 145.0,357.5 C150.0,358.9 155.5,360.2 160.0,361.0 C164.5,361.8 167.5,362.1 172.0,362.0 C176.5,361.9 184.3,360.5 186.8,360.2"/><line x1="158.3" y1="336.4" x2="160.9" y2="345.5" stroke="#f00" stroke-width="1.1"/><path d="M161.8,349.4 L158.9,344.6 L162.6,343.8 Z" fill="#f00"/><rect x="265.2" y="295.4" width="118.4" height="96.4" fill="none" stroke="#b3bcbc" stroke-width="1.1"/><line x1="265.2" y1="305.4" x2="267.2" y2="305.4" stroke="#b3bcbc" stroke-width="1"/><line x1="383.6" y1="305.4" x2="381.6" y2="305.4" stroke="#b3bcbc" stroke-width="1"/><line x1="265.2" y1="343.4" x2="267.2" y2="343.4" stroke="#b3bcbc" stroke-width="1"/><line x1="383.6" y1="343.4" x2="381.6" y2="343.4" stroke="#b3bcbc" stroke-width="1"/><line x1="265.2" y1="381.5" x2="267.2" y2="381.5" stroke="#b3bcbc" stroke-width="1"/><line x1="383.6" y1="381.5" x2="381.6" y2="381.5" stroke="#b3bcbc" stroke-width="1"/><path class="bd" d="M265.2,341.1 C266.8,340.2 271.2,338.5 275.0,336.0 C278.8,333.5 283.8,329.1 288.0,326.0 C292.2,322.9 296.0,319.9 300.0,317.5 C304.0,315.1 307.8,313.2 312.0,311.5 C316.2,309.8 320.3,308.5 325.0,307.5 C329.7,306.5 335.4,305.7 340.0,305.4 C344.6,305.1 347.9,305.2 352.6,305.5 C357.3,305.8 362.8,306.3 368.0,307.0 C373.2,307.7 381.0,309.3 383.6,309.8"/><path class="bd" d="M265.2,341.1 C266.8,341.4 270.9,342.2 275.0,342.6 C279.1,343.0 285.8,343.4 290.0,343.6 C294.2,343.8 296.8,343.6 300.0,343.7 C303.2,343.8 306.2,343.9 309.5,344.3 C312.8,344.7 315.8,344.7 320.0,346.0 C324.2,347.3 330.0,349.8 335.0,352.0 C340.0,354.2 345.0,356.9 350.0,359.0 C355.0,361.1 359.4,363.1 365.0,364.5 C370.6,365.9 380.5,367.1 383.6,367.6"/><path class="bd" d="M265.2,376.9 C266.8,375.8 271.2,373.1 275.0,370.5 C278.8,367.9 283.8,364.2 288.0,361.0 C292.2,357.8 296.4,353.8 300.0,351.0 C303.6,348.2 306.2,346.9 309.5,344.3 C312.8,341.7 316.1,338.8 320.0,335.5 C323.9,332.2 328.3,327.8 333.0,324.5 C337.7,321.2 342.7,318.2 348.0,316.0 C353.3,313.8 359.1,312.5 365.0,311.5 C370.9,310.5 380.5,310.1 383.6,309.8"/><path class="bd" d="M265.2,376.9 C266.8,377.4 271.1,379.1 275.0,379.8 C278.9,380.5 284.6,381.0 288.8,381.0 C293.0,381.0 295.6,380.5 300.0,379.8 C304.4,379.1 310.0,377.9 315.0,377.0 C320.0,376.1 325.0,375.2 330.0,374.5 C335.0,373.8 339.2,373.7 345.0,373.0 C350.8,372.3 358.6,371.4 365.0,370.5 C371.4,369.6 380.5,368.1 383.6,367.6"/><line x1="305.7" y1="329" x2="307.9" y2="336.8" stroke="#f00" stroke-width="1.1"/><path d="M308.9,340.6 L306.1,335.8 L309.8,335 Z" fill="#f00"/><rect x="67.6" y="441.2" width="119.3" height="96.7" fill="none" stroke="#b3bcbc" stroke-width="1.1"/><line x1="67.6" y1="448.3" x2="69.6" y2="448.3" stroke="#b3bcbc" stroke-width="1"/><line x1="186.9" y1="448.3" x2="184.9" y2="448.3" stroke="#b3bcbc" stroke-width="1"/><line x1="67.6" y1="473.6" x2="69.6" y2="473.6" stroke="#b3bcbc" stroke-width="1"/><line x1="186.9" y1="473.6" x2="184.9" y2="473.6" stroke="#b3bcbc" stroke-width="1"/><line x1="67.6" y1="499.4" x2="69.6" y2="499.4" stroke="#b3bcbc" stroke-width="1"/><line x1="186.9" y1="499.4" x2="184.9" y2="499.4" stroke="#b3bcbc" stroke-width="1"/><line x1="67.6" y1="525.4" x2="69.6" y2="525.4" stroke="#b3bcbc" stroke-width="1"/><line x1="186.9" y1="525.4" x2="184.9" y2="525.4" stroke="#b3bcbc" stroke-width="1"/><path class="bd" d="M67.6,498.1 C69.3,497.2 74.3,494.7 78.0,492.5 C81.7,490.3 86.0,487.5 90.0,485.0 C94.0,482.5 97.0,480.4 102.0,477.5 C107.0,474.6 114.2,470.6 120.0,467.5 C125.8,464.4 132.0,461.1 137.0,459.0 C142.0,456.9 145.4,456.1 150.0,455.0 C154.6,453.9 160.4,452.7 164.7,452.4 C169.0,452.1 172.3,452.5 176.0,453.0 C179.7,453.5 185.1,455.1 186.9,455.5"/><path class="bd" d="M67.6,522.2 C69.7,521.0 76.3,517.3 80.0,515.0 C83.7,512.7 87.1,510.3 90.0,508.5 C92.9,506.7 94.2,506.3 97.2,504.0 C100.2,501.7 104.2,497.6 108.0,494.5 C111.8,491.4 115.1,489.2 120.0,485.6 C124.9,482.0 131.5,476.1 137.2,472.7 C142.9,469.3 149.2,467.0 154.4,465.0 C159.6,463.0 162.8,462.3 168.2,460.7 C173.6,459.1 183.8,456.4 186.9,455.5"/><path class="bd" d="M67.6,498.1 C69.7,498.6 75.1,500.0 80.0,501.0 C84.9,502.0 92.2,503.1 97.2,504.0 C102.2,504.9 106.2,505.7 110.0,506.5 C113.8,507.3 116.3,508.2 120.0,508.8 C123.7,509.4 127.7,510.3 132.0,510.2 C136.3,510.1 141.8,509.1 145.8,508.0 C149.8,506.9 152.9,505.9 156.1,503.7 C159.2,501.5 161.2,497.7 164.7,495.0 C168.1,492.3 173.1,488.7 176.8,487.3 C180.5,485.9 185.2,486.9 186.9,486.8"/><path class="bd" d="M67.6,522.2 C70.5,522.6 79.4,524.2 85.0,524.8 C90.6,525.4 95.5,525.7 101.3,525.6 C107.1,525.5 114.0,525.8 120.0,524.3 C126.0,522.8 132.5,519.0 137.2,516.6 C141.9,514.2 144.8,512.1 148.0,510.0 C151.2,507.9 153.3,505.7 156.1,503.7 C158.9,501.7 162.0,499.8 164.7,497.8 C167.3,495.9 169.7,493.5 172.0,492.0 C174.3,490.5 176.0,489.7 178.5,488.8 C181.0,487.9 185.5,487.1 186.9,486.8"/><line x1="92.7" y1="489.2" x2="95.2" y2="497.2" stroke="#f00" stroke-width="1.1"/><path d="M96.6,501.3 L93.6,496.6 L97.3,495.7 Z" fill="#f00"/><rect x="265.2" y="441.2" width="118.3" height="96.7" fill="none" stroke="#b3bcbc" stroke-width="1.1"/><line x1="265.2" y1="489.2" x2="267.2" y2="489.2" stroke="#b3bcbc" stroke-width="1"/><line x1="383.5" y1="489.2" x2="381.5" y2="489.2" stroke="#b3bcbc" stroke-width="1"/><line x1="323" y1="441.2" x2="323" y2="537.9" stroke="#d4d8d8" stroke-width="1"/><path class="bd" d="M265.2,451.3 C266.8,454.0 271.4,462.1 275.0,467.5 C278.6,472.9 282.8,479.0 287.0,484.0 C291.2,489.0 295.9,494.3 300.0,497.3 C304.1,500.3 307.8,501.8 311.6,502.2 C315.4,502.6 318.3,501.3 323.0,499.8 C327.7,498.3 333.8,495.6 340.0,493.0 C346.2,490.4 352.8,487.1 360.0,484.0 C367.2,480.9 379.6,476.2 383.5,474.7"/><path class="bd" d="M281.3,441.4 C282.1,443.2 283.7,447.2 286.0,452.0 C288.3,456.8 291.8,464.3 295.0,470.0 C298.2,475.7 301.7,481.7 305.0,486.0 C308.3,490.3 312.0,493.7 315.0,496.0 C318.0,498.3 319.7,498.8 323.0,499.8 C326.3,500.9 330.5,501.6 335.0,502.3 C339.5,503.0 345.8,503.6 350.0,503.9 C354.2,504.2 356.3,504.1 360.0,504.0 C363.7,503.9 368.1,503.5 372.0,503.0 C375.9,502.5 381.6,501.5 383.5,501.2"/><line x1="315.7" y1="514.3" x2="319.9" y2="505" stroke="#f00" stroke-width="1.1"/><path d="M321.6,500.8 L321.6,506.4 L318.1,504.9 Z" fill="#f00"/><line x1="284" y1="550.4" x2="311.6" y2="550.4" stroke="#333" stroke-width="1.1"/><path d="M280.3,550.4 L285.5,548.1 L285.5,552.7 Z" fill="#333"/><line x1="335" y1="550.4" x2="368.5" y2="550.4" stroke="#333" stroke-width="1.1"/><path d="M372.2,550.4 L367,548.1 L367,552.7 Z" fill="#333"/>
<text transform="translate(8.13 25.77) scale(0.910 1)" font-size="19.68" fill="#2f3636" stroke="#fff" stroke-width="0.55">(a)</text><text transform="translate(245.42 26.02) scale(0.992 1)" font-size="19.89" fill="#2f3636" stroke="#fff" stroke-width="0.55">(b)</text><text transform="translate(245.67 162.89) scale(0.963 1)" font-size="19.57" fill="#2f3636" stroke="#fff" stroke-width="0.55">(c)</text><text transform="translate(8.22 288.42) scale(0.987 1)" font-size="19.89" fill="#2f3636" stroke="#fff" stroke-width="0.55">(d)</text><text transform="translate(211.10 288.51) scale(0.943 1)" font-size="19.47" fill="#2f3636" stroke="#fff" stroke-width="0.55">(e)</text><text transform="translate(8.15 433.32) scale(1.048 1)" font-size="19.89" fill="#2f3636" stroke="#fff" stroke-width="0.55">(f)</text><text transform="translate(210.99 434.32) scale(1.014 1)" font-size="19.89" fill="#2f3636" stroke="#fff" stroke-width="0.55">(g)</text><text transform="translate(8.22 585.63) scale(0.966 1)" font-size="20.32" fill="#2f3636" stroke="#fff" stroke-width="0.55">(h)</text><text transform="translate(51.65 57.80) scale(0.913 1)" font-size="18.57" fill="#2f3636" stroke="#fff" stroke-width="0.55">2</text><text transform="translate(53.31 105.80) scale(0.460 1)" font-size="18.70" fill="#2f3636" stroke="#fff" stroke-width="0.55">1</text><text transform="translate(51.50 153.62) scale(0.963 1)" font-size="18.17" fill="#2f3636" stroke="#fff" stroke-width="0.55">0</text><text transform="translate(46.73 201.00) scale(0.780 1)" font-size="18.12" fill="#2f3636" stroke="#fff" stroke-width="0.55">-1</text><text transform="translate(46.23 249.50) scale(0.902 1)" font-size="18.43" fill="#2f3636" stroke="#fff" stroke-width="0.55">-2</text><text transform="translate(41.06 175.15) rotate(-90) scale(0.834 1)" font-size="20.21" fill="#2f3636" stroke="#fff" stroke-width="0.55">Energy (eV)</text><text transform="translate(60.96 262.80) scale(1.085 1)" font-size="21.16" fill="#2f3636" stroke="#fff" stroke-width="0.55">Γ</text><text transform="translate(101.89 262.60) scale(0.820 1)" font-size="20.58" fill="#2f3636" stroke="#fff" stroke-width="0.55">X</text><text transform="translate(125.94 262.60) scale(1.066 1)" font-size="20.58" fill="#2f3636" stroke="#fff" stroke-width="0.55">M</text><text transform="translate(169.42 262.40) scale(0.786 1)" font-size="20.43" fill="#2f3636" stroke="#fff" stroke-width="0.55">Y</text><text transform="translate(187.94 262.60) scale(1.008 1)" font-size="20.55" fill="#2f3636" stroke="#fff" stroke-width="0.55">Γ/X</text><text transform="translate(231.74 262.81) scale(0.629 1)" font-size="21.03" fill="#2f3636" stroke="#fff" stroke-width="0.55">R</text><text transform="translate(279.13 113.18) rotate(-90) scale(0.867 1)" font-size="17.00" fill="#2f3636" stroke="#fff" stroke-width="0.55">Energy</text><text transform="translate(319.52 101.70) scale(0.848 1)" font-size="15.07" fill="#2f3636" stroke="#fff" stroke-width="0.55">X</text><text transform="translate(381.20 102.70) scale(1.095 1)" font-size="15.94" fill="#2f3636" stroke="#fff" stroke-width="0.55">M</text><text transform="translate(348.45 133.30) scale(0.962 1)" font-size="15.51" fill="#2f3636" stroke="#fff" stroke-width="0.55">Y</text><text transform="translate(287.56 133.90) scale(1.059 1)" font-size="16.96" fill="#2f3636" stroke="#fff" stroke-width="0.55">Γ</text><text transform="translate(269.63 137.60) scale(0.887 1)" font-size="12.33" fill="#3a4242" stroke="#fff" stroke-width="0.30">k</text><text transform="translate(274.93 140.60) scale(1.104 1)" font-size="6.79" fill="#6a7272" stroke="#fff" stroke-width="0.15">x</text><text transform="translate(376.22 123.60) scale(0.867 1)" font-size="12.88" fill="#3a4242" stroke="#fff" stroke-width="0.30">k</text><text transform="translate(381.80 126.15) scale(0.919 1)" font-size="7.84" fill="#6a7272" stroke="#fff" stroke-width="0.15">y</text><text transform="translate(268.09 175.90) scale(0.798 1)" font-size="17.25" fill="#2f3636" stroke="#fff" stroke-width="0.55">Y</text><text transform="translate(299.94 176.18) scale(0.665 1)" font-size="18.09" fill="#2f3636" stroke="#fff" stroke-width="0.55">R</text><text transform="translate(331.87 175.70) scale(1.127 1)" font-size="16.96" fill="#2f3636" stroke="#fff" stroke-width="0.55">M</text><text transform="translate(265.81 217.60) scale(1.191 1)" font-size="15.65" fill="#2f3636" stroke="#fff" stroke-width="0.55">Γ</text><text transform="translate(331.94 219.00) scale(0.877 1)" font-size="17.39" fill="#2f3636" stroke="#fff" stroke-width="0.55">X</text><text transform="translate(44.09 322.84) scale(0.778 1)" font-size="16.20" fill="#2f3636" stroke="#fff" stroke-width="0.55">1.6</text><text transform="translate(43.98 352.90) scale(0.771 1)" font-size="16.57" fill="#2f3636" stroke="#fff" stroke-width="0.55">1.2</text><text transform="translate(43.47 382.73) scale(0.788 1)" font-size="16.76" fill="#2f3636" stroke="#fff" stroke-width="0.55">0.8</text><text transform="translate(33.87 389.12) rotate(-90) scale(0.838 1)" font-size="19.68" fill="#2f3636" stroke="#fff" stroke-width="0.55">Energy (eV)</text><text transform="translate(61.31 411.80) scale(1.065 1)" font-size="19.86" fill="#2f3636" stroke="#fff" stroke-width="0.55">Γ</text><text transform="translate(181.54 411.30) scale(0.822 1)" font-size="18.55" fill="#2f3636" stroke="#fff" stroke-width="0.55">X</text><text transform="translate(242.57 310.00) scale(0.773 1)" font-size="16.67" fill="#2f3636" stroke="#fff" stroke-width="0.55">1.4</text><text transform="translate(242.55 349.00) scale(0.818 1)" font-size="16.00" fill="#2f3636" stroke="#fff" stroke-width="0.55">1.2</text><text transform="translate(242.56 387.34) scale(0.788 1)" font-size="16.48" fill="#2f3636" stroke="#fff" stroke-width="0.55">1.0</text><text transform="translate(260.03 411.30) scale(0.842 1)" font-size="18.70" fill="#2f3636" stroke="#fff" stroke-width="0.55">X</text><text transform="translate(374.98 411.30) scale(1.037 1)" font-size="19.57" fill="#2f3636" stroke="#fff" stroke-width="0.55">M</text><text transform="translate(43.98 453.54) scale(0.809 1)" font-size="15.77" fill="#2f3636" stroke="#fff" stroke-width="0.55">1.6</text><text transform="translate(43.99 480.00) scale(0.759 1)" font-size="16.67" fill="#2f3636" stroke="#fff" stroke-width="0.55">1.4</text><text transform="translate(43.97 505.90) scale(0.789 1)" font-size="16.29" fill="#2f3636" stroke="#fff" stroke-width="0.55">1.2</text><text transform="translate(43.98 531.34) scale(0.774 1)" font-size="16.48" fill="#2f3636" stroke="#fff" stroke-width="0.55">1.0</text><text transform="translate(35.10 529.10) rotate(-90) scale(0.777 1)" font-size="20.96" fill="#2f3636" stroke="#fff" stroke-width="0.55">Energy (eV)</text><text transform="translate(62.42 556.60) scale(0.873 1)" font-size="18.41" fill="#2f3636" stroke="#fff" stroke-width="0.55">X</text><text transform="translate(180.59 557.48) scale(0.991 1)" font-size="17.79" fill="#2f3636" stroke="#fff" stroke-width="0.55">R</text><text transform="translate(240.21 446.14) scale(0.856 1)" font-size="15.92" fill="#2f3636" stroke="#fff" stroke-width="0.55">1.0</text><text transform="translate(239.64 494.34) scale(0.883 1)" font-size="15.92" fill="#2f3636" stroke="#fff" stroke-width="0.55">0.8</text><text transform="translate(239.64 542.55) scale(0.907 1)" font-size="15.49" fill="#2f3636" stroke="#fff" stroke-width="0.55">0.6</text><text transform="translate(291.94 458.03) scale(0.880 1)" font-size="17.16" fill="#2f3636" stroke="#fff" stroke-width="0.55">2-fold</text><text transform="translate(340.74 476.93) scale(0.880 1)" font-size="17.16" fill="#2f3636" stroke="#fff" stroke-width="0.55">2-fold</text><text transform="translate(282.10 528.53) scale(0.886 1)" font-size="17.16" fill="#f0477a" stroke="#fff" stroke-width="0.55">4-fold</text><text transform="translate(255.67 557.20) scale(1.244 1)" font-size="17.39" fill="#2f3636" stroke="#fff" stroke-width="0.55">M</text><text transform="translate(318.24 557.20) scale(0.877 1)" font-size="17.39" fill="#2f3636" stroke="#fff" stroke-width="0.55">Y</text><text transform="translate(376.74 557.20) scale(1.268 1)" font-size="17.39" fill="#2f3636" stroke="#fff" stroke-width="0.55">Γ</text><text transform="translate(96.22 602.20) scale(0.827 1)" font-size="19.42" fill="#2f3636" stroke="#fff" stroke-width="0.55">Y</text><text transform="translate(188.75 603.20) scale(1.237 1)" font-size="18.70" fill="#2f3636" stroke="#fff" stroke-width="0.55">M</text><text transform="translate(92.83 676.30) scale(1.162 1)" font-size="20.14" fill="#2f3636" stroke="#fff" stroke-width="0.55">Γ</text><text transform="translate(303.79 596.29) scale(0.907 1)" font-size="16.70" fill="#2f3636" stroke="#fff" stroke-width="0.55">(eV)</text><text transform="translate(310.06 617.54) scale(0.840 1)" font-size="16.06" fill="#2f3636" stroke="#fff" stroke-width="0.55">0.35</text><text transform="translate(310.09 733.83) scale(0.900 1)" font-size="16.90" fill="#2f3636" stroke="#fff" stroke-width="0.55">0</text>
<path d="M187.7,651.9 L189.4,650.1 L191.1,648.6 L192.7,647.5 L194.4,646.7 L196.0,646.2 L197.7,646.0 L199.4,646.2 L201.0,646.7 L202.7,647.5 L204.3,648.6 L206.0,650.1 L207.7,651.9 L209.6,654.2 L211.4,656.6 L212.9,658.9 L214.0,661.3 L214.8,663.6 L215.3,666.0 L215.5,668.4 L215.3,670.7 L214.8,673.1 L214.0,675.4 L212.9,677.8 L211.4,680.1 L209.6,682.5 L207.7,684.8 L206.0,686.6 L204.3,688.1 L202.7,689.2 L201.0,690.0 L199.4,690.5 L197.7,690.7 L196.0,690.5 L194.4,690.0 L192.7,689.2 L191.1,688.1 L189.4,686.6 L187.7,684.8 L185.8,682.5 L184.0,680.1 L182.5,677.8 L181.4,675.4 L180.6,673.1 L180.1,670.7 L179.9,668.4 L180.1,666.0 L180.6,663.6 L181.4,661.3 L182.5,658.9 L184.0,656.6 L185.8,654.2Z" fill="none" stroke="#fff" stroke-width="1.6"/><text stroke="#3a40ff" stroke-width="0.45" transform="translate(192.82 676.60) scale(0.797 1)" font-size="20.14" fill="#f08af0">X</text>
</svg>
</body></html>
